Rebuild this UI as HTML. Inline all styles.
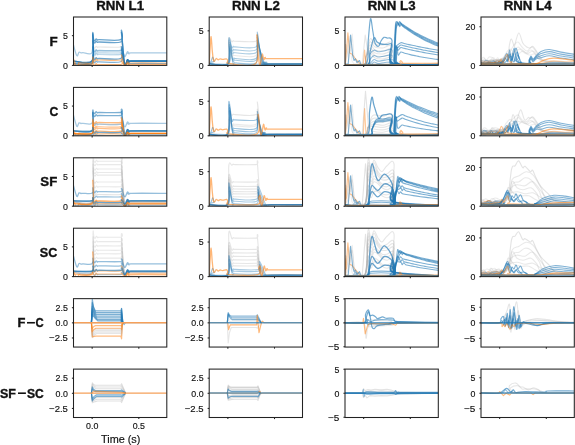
<!DOCTYPE html><html><head><meta charset="utf-8"><style>html,body{margin:0;padding:0;background:#fff;width:575px;height:445px;overflow:hidden}</style></head><body><svg width="575" height="445" viewBox="0 0 575 445" style="display:block;filter:blur(0.35px)">
<rect width="575" height="445" fill="#fff"/>
<defs>
<clipPath id="cp00"><rect x="73.5" y="17.0" width="93.3" height="48.4"/></clipPath>
<clipPath id="cp01"><rect x="209.2" y="17.0" width="93.3" height="48.4"/></clipPath>
<clipPath id="cp02"><rect x="345.0" y="17.0" width="93.3" height="48.4"/></clipPath>
<clipPath id="cp03"><rect x="481.0" y="17.0" width="93.3" height="48.4"/></clipPath>
<clipPath id="cp10"><rect x="73.5" y="87.4" width="93.3" height="48.4"/></clipPath>
<clipPath id="cp11"><rect x="209.2" y="87.4" width="93.3" height="48.4"/></clipPath>
<clipPath id="cp12"><rect x="345.0" y="87.4" width="93.3" height="48.4"/></clipPath>
<clipPath id="cp13"><rect x="481.0" y="87.4" width="93.3" height="48.4"/></clipPath>
<clipPath id="cp20"><rect x="73.5" y="157.8" width="93.3" height="48.4"/></clipPath>
<clipPath id="cp21"><rect x="209.2" y="157.8" width="93.3" height="48.4"/></clipPath>
<clipPath id="cp22"><rect x="345.0" y="157.8" width="93.3" height="48.4"/></clipPath>
<clipPath id="cp23"><rect x="481.0" y="157.8" width="93.3" height="48.4"/></clipPath>
<clipPath id="cp30"><rect x="73.5" y="228.2" width="93.3" height="48.4"/></clipPath>
<clipPath id="cp31"><rect x="209.2" y="228.2" width="93.3" height="48.4"/></clipPath>
<clipPath id="cp32"><rect x="345.0" y="228.2" width="93.3" height="48.4"/></clipPath>
<clipPath id="cp33"><rect x="481.0" y="228.2" width="93.3" height="48.4"/></clipPath>
<clipPath id="cp40"><rect x="73.5" y="298.65" width="93.3" height="48.4"/></clipPath>
<clipPath id="cp41"><rect x="209.2" y="298.65" width="93.3" height="48.4"/></clipPath>
<clipPath id="cp42"><rect x="345.0" y="298.65" width="93.3" height="48.4"/></clipPath>
<clipPath id="cp43"><rect x="481.0" y="298.65" width="93.3" height="48.4"/></clipPath>
<clipPath id="cp50"><rect x="73.5" y="369.1" width="93.3" height="48.4"/></clipPath>
<clipPath id="cp51"><rect x="209.2" y="369.1" width="93.3" height="48.4"/></clipPath>
<clipPath id="cp52"><rect x="345.0" y="369.1" width="93.3" height="48.4"/></clipPath>
<clipPath id="cp53"><rect x="481.0" y="369.1" width="93.3" height="48.4"/></clipPath>
</defs>
<g clip-path="url(#cp00)" fill="none" stroke-linejoin="round" stroke-linecap="butt">
<path d="M73.50,45.20 C74.05,46.95 75.88,54.52 76.80,55.70 C77.72,56.88 78.30,52.77 79.00,52.30 C79.70,51.83 80.33,52.83 81.00,52.90 C81.67,52.97 81.18,52.73 83.00,52.70 C84.82,52.67 90.28,55.65 91.90,52.70 C93.52,49.75 92.43,35.75 92.70,35.00 C92.97,34.25 93.17,45.39 93.50,48.17 C93.83,50.96 94.27,51.45 94.70,51.70 C95.13,51.95 95.62,49.83 96.10,49.70 C96.58,49.57 97.10,50.77 97.60,50.90 C98.10,51.03 95.25,50.57 99.10,50.50 C102.95,50.43 116.98,51.08 120.70,50.50 C124.42,49.92 120.73,46.02 121.40,47.00 C122.07,47.98 123.70,55.62 124.70,56.40 C125.70,57.18 126.67,52.15 127.40,51.70 C128.13,51.25 128.48,53.50 129.10,53.70 C129.72,53.90 124.82,53.03 131.10,52.90 C137.38,52.77 160.85,52.90 166.80,52.90" stroke="#1f77b4" stroke-opacity="0.39" stroke-width="1.30"/>
<path d="M73.50,61.00 C76.57,61.00 88.70,64.33 91.90,61.00 C95.10,57.67 92.43,42.92 92.70,41.00 C92.97,39.08 93.17,47.63 93.50,49.50 C93.83,51.37 94.27,52.08 94.70,52.20 C95.13,52.32 95.62,50.33 96.10,50.20 C96.58,50.07 97.10,51.27 97.60,51.40 C98.10,51.53 95.25,51.07 99.10,51.00 C102.95,50.93 116.98,51.67 120.70,51.00 C124.42,50.33 120.73,44.75 121.40,47.00 C122.07,49.25 123.70,62.37 124.70,64.50 C125.70,66.63 126.67,60.25 127.40,59.80 C128.13,59.35 128.48,61.60 129.10,61.80 C129.72,62.00 124.82,61.13 131.10,61.00 C137.38,60.87 160.85,61.00 166.80,61.00" stroke="#1f77b4" stroke-opacity="0.23" stroke-width="1.10"/>
<path d="M73.50,61.00 C76.57,61.00 88.70,64.33 91.90,61.00 C95.10,57.67 92.43,42.70 92.70,41.00 C92.97,39.30 93.17,48.66 93.50,50.77 C93.83,52.89 94.27,53.55 94.70,53.70 C95.13,53.85 95.62,51.83 96.10,51.70 C96.58,51.57 97.10,52.77 97.60,52.90 C98.10,53.03 95.25,52.57 99.10,52.50 C102.95,52.43 116.98,53.42 120.70,52.50 C124.42,51.58 120.73,45.00 121.40,47.00 C122.07,49.00 123.70,62.37 124.70,64.50 C125.70,66.63 126.67,60.25 127.40,59.80 C128.13,59.35 128.48,61.60 129.10,61.80 C129.72,62.00 124.82,61.13 131.10,61.00 C137.38,60.87 160.85,61.00 166.80,61.00" stroke="#1f77b4" stroke-opacity="0.23" stroke-width="1.10"/>
<path d="M73.50,61.00 C76.57,61.00 88.70,64.33 91.90,61.00 C95.10,57.67 92.43,42.52 92.70,41.00 C92.97,39.48 93.17,49.55 93.50,51.88 C93.83,54.21 94.27,54.81 94.70,55.00 C95.13,55.19 95.62,53.13 96.10,53.00 C96.58,52.87 97.10,54.07 97.60,54.20 C98.10,54.33 95.25,53.87 99.10,53.80 C102.95,53.73 116.98,54.93 120.70,53.80 C124.42,52.67 120.73,45.22 121.40,47.00 C122.07,48.78 123.70,62.37 124.70,64.50 C125.70,66.63 126.67,60.25 127.40,59.80 C128.13,59.35 128.48,61.60 129.10,61.80 C129.72,62.00 124.82,61.13 131.10,61.00 C137.38,60.87 160.85,61.00 166.80,61.00" stroke="#1f77b4" stroke-opacity="0.23" stroke-width="1.10"/>
<path d="M73.50,61.00 C76.57,61.00 88.70,64.33 91.90,61.00 C95.10,57.67 92.43,42.42 92.70,41.00 C92.97,39.58 93.17,50.02 93.50,52.48 C93.83,54.93 94.27,55.50 94.70,55.70 C95.13,55.90 95.62,53.83 96.10,53.70 C96.58,53.57 97.10,54.77 97.60,54.90 C98.10,55.03 95.25,54.57 99.10,54.50 C102.95,54.43 116.98,55.75 120.70,54.50 C124.42,53.25 120.73,45.33 121.40,47.00 C122.07,48.67 123.70,62.37 124.70,64.50 C125.70,66.63 126.67,60.25 127.40,59.80 C128.13,59.35 128.48,61.60 129.10,61.80 C129.72,62.00 124.82,61.13 131.10,61.00 C137.38,60.87 160.85,61.00 166.80,61.00" stroke="#1f77b4" stroke-opacity="0.23" stroke-width="1.10"/>
<path d="M73.50,47.00 C76.57,47.00 88.70,47.00 91.90,47.00 C95.10,47.00 92.43,47.00 92.70,47.00 C92.97,47.00 93.17,46.80 93.50,47.00 C93.83,47.20 94.27,48.33 94.70,48.20 C95.13,48.07 95.62,46.33 96.10,46.20 C96.58,46.07 97.10,47.27 97.60,47.40 C98.10,47.53 95.25,47.07 99.10,47.00 C102.95,46.93 116.98,47.00 120.70,47.00 C124.42,47.00 120.73,46.42 121.40,47.00 C122.07,47.58 123.70,50.70 124.70,50.50 C125.70,50.30 126.67,46.25 127.40,45.80 C128.13,45.35 128.48,47.60 129.10,47.80 C129.72,48.00 124.82,47.13 131.10,47.00 C137.38,46.87 160.85,47.00 166.80,47.00" stroke="#b0b0b0" stroke-opacity="0.00" stroke-width="0.20"/>
<path d="M73.50,61.20 C76.57,61.20 88.70,64.57 91.90,61.20 C95.10,57.83 92.43,43.52 92.70,41.00 C92.97,38.48 93.17,44.90 93.50,46.10 C93.83,47.30 94.27,48.18 94.70,48.20 C95.13,48.22 95.62,46.33 96.10,46.20 C96.58,46.07 97.10,47.27 97.60,47.40 C98.10,47.53 95.25,47.07 99.10,47.00 C102.95,46.93 116.98,47.67 120.70,47.00 C124.42,46.33 120.73,40.05 121.40,43.00 C122.07,45.95 123.70,61.87 124.70,64.70 C125.70,67.53 126.67,60.45 127.40,60.00 C128.13,59.55 128.48,61.80 129.10,62.00 C129.72,62.20 124.82,61.33 131.10,61.20 C137.38,61.07 160.85,61.20 166.80,61.20" stroke="#b0b0b0" stroke-opacity="0.32" stroke-width="1.10"/>
<path d="M73.50,61.00 C76.57,61.00 88.70,65.58 91.90,61.00 C95.10,56.42 92.43,37.20 92.70,33.50 C92.97,29.79 93.17,37.54 93.50,38.77 C93.83,40.00 94.27,40.88 94.70,40.90 C95.13,40.92 95.62,39.03 96.10,38.90 C96.58,38.77 97.10,39.97 97.60,40.10 C98.10,40.23 95.25,39.77 99.10,39.70 C102.95,39.63 116.98,41.15 120.70,39.70 C124.42,38.25 120.73,26.87 121.40,31.00 C122.07,35.13 123.70,59.70 124.70,64.50 C125.70,69.30 126.67,60.25 127.40,59.80 C128.13,59.35 128.48,61.60 129.10,61.80 C129.72,62.00 124.82,61.13 131.10,61.00 C137.38,60.87 160.85,61.00 166.80,61.00" stroke="#1f77b4" stroke-opacity="0.66" stroke-width="1.30"/>
<path d="M73.50,61.50 C76.57,61.50 88.70,66.00 91.90,61.50 C95.10,57.00 92.43,37.94 92.70,34.50 C92.97,31.06 93.17,39.42 93.50,40.88 C93.83,42.33 94.27,43.15 94.70,43.20 C95.13,43.25 95.62,41.33 96.10,41.20 C96.58,41.07 97.10,42.27 97.60,42.40 C98.10,42.53 95.25,42.07 99.10,42.00 C102.95,41.93 116.98,43.50 120.70,42.00 C124.42,40.50 120.73,29.20 121.40,33.00 C122.07,36.80 123.70,60.28 124.70,64.80 C125.70,69.32 126.67,60.55 127.40,60.10 C128.13,59.65 128.48,61.90 129.10,62.10 C129.72,62.30 124.82,61.43 131.10,61.30 C137.38,61.17 160.85,61.30 166.80,61.30" stroke="#1f77b4" stroke-opacity="0.66" stroke-width="1.30"/>
<path d="M73.50,63.50 C76.57,63.50 88.70,66.25 91.90,63.50 C95.10,60.75 92.43,48.12 92.70,47.00 C92.97,45.88 93.17,54.66 93.50,56.77 C93.83,58.89 94.27,59.55 94.70,59.70 C95.13,59.85 95.62,57.83 96.10,57.70 C96.58,57.57 97.10,58.77 97.60,58.90 C98.10,59.03 95.25,58.57 99.10,58.50 C102.95,58.43 116.98,60.08 120.70,58.50 C124.42,56.92 120.73,48.00 121.40,49.00 C122.07,50.00 123.70,62.70 124.70,64.50 C125.70,66.30 126.67,60.25 127.40,59.80 C128.13,59.35 128.48,61.60 129.10,61.80 C129.72,62.00 124.82,61.13 131.10,61.00 C137.38,60.87 160.85,61.00 166.80,61.00" stroke="#1f77b4" stroke-opacity="0.66" stroke-width="1.30"/>
<path d="M73.50,63.80 C76.57,63.80 88.70,65.27 91.90,63.80 C95.10,62.33 92.43,55.50 92.70,55.00 C92.97,54.50 93.17,59.45 93.50,60.78 C93.83,62.11 94.27,62.96 94.70,63.00 C95.13,63.04 95.62,61.13 96.10,61.00 C96.58,60.87 97.10,62.07 97.60,62.20 C98.10,62.33 95.25,61.87 99.10,61.80 C102.95,61.73 116.98,63.27 120.70,61.80 C124.42,60.33 120.73,52.38 121.40,53.00 C122.07,53.62 123.70,63.95 124.70,65.50 C125.70,67.05 126.67,62.50 127.40,62.30 C128.13,62.10 128.48,64.10 129.10,64.30 C129.72,64.50 124.82,63.63 131.10,63.50 C137.38,63.37 160.85,63.50 166.80,63.50" stroke="#1f77b4" stroke-opacity="0.55" stroke-width="1.20"/>
<path d="M73.50,59.00 C74.05,60.17 75.88,65.40 76.80,66.00 C77.72,66.60 78.30,63.07 79.00,62.60 C79.70,62.13 80.33,63.13 81.00,63.20 C81.67,63.27 81.18,63.03 83.00,63.00 C84.82,62.97 90.28,64.00 91.90,63.00 C93.52,62.00 92.43,57.58 92.70,57.00 C92.97,56.42 93.17,58.85 93.50,59.55 C93.83,60.25 94.27,61.26 94.70,61.20 C95.13,61.14 95.62,59.33 96.10,59.20 C96.58,59.07 97.10,60.27 97.60,60.40 C98.10,60.53 95.25,60.07 99.10,60.00 C102.95,59.93 116.98,60.83 120.70,60.00 C124.42,59.17 120.73,54.08 121.40,55.00 C122.07,55.92 123.70,64.37 124.70,65.50 C125.70,66.63 126.67,62.08 127.40,61.80 C128.13,61.52 128.48,63.60 129.10,63.80 C129.72,64.00 124.82,63.13 131.10,63.00 C137.38,62.87 160.85,63.00 166.80,63.00" stroke="#ff7f0e" stroke-opacity="0.52" stroke-width="1.20"/>
<path d="M73.50,62.00 C74.05,62.93 75.88,67.23 76.80,67.60 C77.72,67.97 78.30,64.67 79.00,64.20 C79.70,63.73 80.33,64.73 81.00,64.80 C81.67,64.87 81.18,64.63 83.00,64.60 C84.82,64.57 90.28,65.20 91.90,64.60 C93.52,64.00 92.43,61.10 92.70,61.00 C92.97,60.90 93.17,63.19 93.50,63.98 C93.83,64.76 94.27,65.75 94.70,65.70 C95.13,65.65 95.62,63.83 96.10,63.70 C96.58,63.57 97.10,64.77 97.60,64.90 C98.10,65.03 95.25,64.57 99.10,64.50 C102.95,64.43 116.98,65.08 120.70,64.50 C124.42,63.92 120.73,60.83 121.40,61.00 C122.07,61.17 123.70,65.10 124.70,65.50 C125.70,65.90 126.67,63.42 127.40,63.40 C128.13,63.38 128.48,65.20 129.10,65.40 C129.72,65.60 124.82,64.73 131.10,64.60 C137.38,64.47 160.85,64.60 166.80,64.60" stroke="#ff7f0e" stroke-opacity="0.56" stroke-width="1.20"/>
</g>
<g clip-path="url(#cp01)" fill="none" stroke-linejoin="round" stroke-linecap="butt">
<path d="M209.20,63.50 C212.22,63.50 224.03,67.58 227.30,63.50 C230.57,59.42 228.05,42.62 228.80,39.00 C229.55,35.38 231.05,41.52 231.80,41.80 C232.55,42.08 232.77,40.80 233.30,40.70 C233.83,40.60 231.22,41.12 235.00,41.20 C238.78,41.28 252.27,42.40 256.00,41.20 C259.73,40.00 256.58,30.12 257.40,34.00 C258.22,37.88 260.05,59.83 260.90,64.50 C261.75,69.17 261.97,62.00 262.50,62.00 C263.03,62.00 263.47,64.20 264.10,64.50 C264.73,64.80 259.90,63.92 266.30,63.80 C272.70,63.68 296.47,63.80 302.50,63.80" stroke="#b0b0b0" stroke-opacity="0.32" stroke-width="1.10"/>
<path d="M209.20,63.80 C212.22,63.80 224.03,68.10 227.30,63.80 C230.57,59.50 228.05,40.72 228.80,38.00 C229.55,35.28 231.05,46.10 231.80,47.50 C232.55,48.90 232.77,46.50 233.30,46.40 C233.83,46.30 231.22,46.82 235.00,46.90 C238.78,46.98 252.27,49.30 256.00,46.90 C259.73,44.50 256.58,29.57 257.40,32.50 C258.22,35.43 260.05,59.58 260.90,64.50 C261.75,69.42 261.97,62.00 262.50,62.00 C263.03,62.00 263.47,64.17 264.10,64.50 C264.73,64.83 259.90,64.08 266.30,64.00 C272.70,63.92 296.47,64.00 302.50,64.00" stroke="#1f77b4" stroke-opacity="0.37" stroke-width="1.10"/>
<path d="M209.20,63.80 C212.26,63.80 224.24,67.73 227.55,63.80 C230.86,59.87 228.30,42.42 229.05,40.20 C229.80,37.98 231.30,48.97 232.05,50.50 C232.80,52.03 233.02,49.50 233.55,49.40 C234.08,49.30 231.51,49.82 235.25,49.90 C238.99,49.98 252.31,52.38 256.00,49.90 C259.69,47.42 256.45,32.57 257.40,35.00 C258.35,37.43 260.72,60.00 261.70,64.50 C262.68,69.00 262.77,62.00 263.30,62.00 C263.83,62.00 264.27,64.17 264.90,64.50 C265.53,64.83 260.83,64.08 267.10,64.00 C273.37,63.92 296.60,64.00 302.50,64.00" stroke="#1f77b4" stroke-opacity="0.37" stroke-width="1.10"/>
<path d="M209.20,63.80 C212.30,63.80 224.45,67.37 227.80,63.80 C231.15,60.23 228.55,44.13 229.30,42.40 C230.05,40.67 231.55,51.75 232.30,53.40 C233.05,55.05 233.27,52.40 233.80,52.30 C234.33,52.20 231.80,52.72 235.50,52.80 C239.20,52.88 252.35,55.35 256.00,52.80 C259.65,50.25 256.32,35.55 257.40,37.50 C258.48,39.45 261.38,60.42 262.50,64.50 C263.62,68.58 263.57,62.00 264.10,62.00 C264.63,62.00 265.07,64.17 265.70,64.50 C266.33,64.83 261.77,64.08 267.90,64.00 C274.03,63.92 296.73,64.00 302.50,64.00" stroke="#1f77b4" stroke-opacity="0.37" stroke-width="1.10"/>
<path d="M209.20,63.80 C212.34,63.80 224.66,67.00 228.05,63.80 C231.44,60.60 228.80,45.38 229.55,44.60 C230.30,43.82 231.80,56.87 232.55,59.10 C233.30,61.33 233.52,58.10 234.05,58.00 C234.58,57.90 232.09,58.42 235.75,58.50 C239.41,58.58 252.39,61.58 256.00,58.50 C259.61,55.42 256.18,39.00 257.40,40.00 C258.62,41.00 262.05,60.83 263.30,64.50 C264.55,68.17 264.37,62.00 264.90,62.00 C265.43,62.00 265.87,64.17 266.50,64.50 C267.13,64.83 262.70,64.08 268.70,64.00 C274.70,63.92 296.87,64.00 302.50,64.00" stroke="#1f77b4" stroke-opacity="0.40" stroke-width="1.10"/>
<path d="M209.20,63.80 C212.38,63.80 224.87,66.63 228.30,63.80 C231.73,60.97 229.05,47.28 229.80,46.80 C230.55,46.32 232.05,58.73 232.80,60.90 C233.55,63.07 233.77,59.90 234.30,59.80 C234.83,59.70 232.38,60.22 236.00,60.30 C239.62,60.38 252.43,63.27 256.00,60.30 C259.57,57.33 256.05,41.80 257.40,42.50 C258.75,43.20 262.72,61.25 264.10,64.50 C265.48,67.75 265.17,62.00 265.70,62.00 C266.23,62.00 266.67,64.17 267.30,64.50 C267.93,64.83 263.63,64.08 269.50,64.00 C275.37,63.92 297.00,64.00 302.50,64.00" stroke="#1f77b4" stroke-opacity="0.40" stroke-width="1.10"/>
<path d="M209.20,63.80 C212.42,63.80 225.07,66.27 228.55,63.80 C232.02,61.33 229.30,49.05 230.05,49.00 C230.80,48.95 232.30,61.27 233.05,63.50 C233.80,65.73 234.02,62.50 234.55,62.40 C235.08,62.30 232.68,62.82 236.25,62.90 C239.82,62.98 252.47,65.88 256.00,62.90 C259.52,59.92 255.92,44.73 257.40,45.00 C258.88,45.27 263.38,61.67 264.90,64.50 C266.42,67.33 265.97,62.00 266.50,62.00 C267.03,62.00 267.47,64.17 268.10,64.50 C268.73,64.83 264.57,64.08 270.30,64.00 C276.03,63.92 297.13,64.00 302.50,64.00" stroke="#1f77b4" stroke-opacity="0.37" stroke-width="1.10"/>
<path d="M209.20,63.80 C212.22,63.80 224.03,67.60 227.30,63.80 C230.57,60.00 228.05,42.28 228.80,41.00 C229.55,39.72 231.05,53.77 231.80,56.10 C232.55,58.43 232.77,55.10 233.30,55.00 C233.83,54.90 231.22,55.42 235.00,55.50 C238.78,55.58 252.27,58.58 256.00,55.50 C259.73,52.42 256.58,35.50 257.40,37.00 C258.22,38.50 260.05,60.33 260.90,64.50 C261.75,68.67 261.97,62.00 262.50,62.00 C263.03,62.00 263.47,64.20 264.10,64.50 C264.73,64.80 259.90,63.92 266.30,63.80 C272.70,63.68 296.47,63.80 302.50,63.80" stroke="#b0b0b0" stroke-opacity="0.28" stroke-width="1.10"/>
<path d="M209.20,64.50 C209.53,63.92 210.62,62.25 211.20,61.00 C211.78,59.75 212.20,57.00 212.70,57.00 C213.20,57.00 213.62,59.83 214.20,61.00 C214.78,62.17 201.48,63.50 216.20,64.00 C230.92,64.50 288.12,64.00 302.50,64.00" stroke="#1f77b4" stroke-opacity="0.47" stroke-width="1.10"/>
<path d="M209.20,64.00 C209.35,61.50 209.78,53.57 210.10,49.00 C210.42,44.43 210.75,36.43 211.10,36.60 C211.45,36.77 211.82,46.10 212.20,50.00 C212.58,53.90 212.98,58.17 213.40,60.00 C213.82,61.83 214.23,61.25 214.70,61.00 C215.17,60.75 215.62,58.70 216.20,58.50 C216.78,58.30 217.53,59.75 218.20,59.80 C218.87,59.85 219.45,58.87 220.20,58.80 C220.95,58.73 221.62,59.37 222.70,59.40 C223.78,59.43 225.85,58.73 226.70,59.00 C227.55,59.27 227.38,60.25 227.80,61.00 C228.22,61.75 224.53,63.08 229.20,63.50 C233.87,63.92 251.20,68.25 255.80,63.50 C260.40,58.75 256.38,36.42 256.80,35.00 C257.22,33.58 257.83,50.08 258.30,55.00 C258.77,59.92 259.15,63.50 259.60,64.50 C260.05,65.50 260.55,62.75 261.00,61.00 C261.45,59.25 261.83,54.25 262.30,54.00 C262.77,53.75 263.30,58.92 263.80,59.50 C264.30,60.08 264.72,57.65 265.30,57.50 C265.88,57.35 261.10,58.42 267.30,58.60 C273.50,58.78 296.63,58.60 302.50,58.60" stroke="#ff7f0e" stroke-opacity="0.56" stroke-width="1.30"/>
</g>
<g clip-path="url(#cp02)" fill="none" stroke-linejoin="round" stroke-linecap="butt">
<path d="M345.00,44.00 L345.40,64.00 L346.00,57.00 L347.90,32.70 L349.60,53.00 L351.80,54.00 L355.00,58.00 L360.50,64.50 L438.30,64.50" stroke="#ff7f0e" stroke-opacity="0.49" stroke-width="1.10"/>
<path d="M345.00,64.00 L348.20,64.00 L350.60,35.00 L352.80,56.00 L354.10,60.50 L355.30,58.80 L357.00,62.50 L359.50,60.50 L361.00,64.60 L438.30,64.60" stroke="#1f77b4" stroke-opacity="0.58" stroke-width="1.10"/>
<path d="M345.00,64.00 L347.50,53.00 L349.00,36.00 L350.80,51.00 L352.20,34.00 L354.00,57.00 L357.00,63.00 L438.30,64.00" stroke="#b0b0b0" stroke-opacity="0.24" stroke-width="1.10"/>
<path d="M345.00,64.00 L346.60,45.00 L348.50,59.00 L350.00,47.00 L352.00,61.00 L354.00,64.00 L438.30,64.00" stroke="#b0b0b0" stroke-opacity="0.21" stroke-width="1.10"/>
<path d="M345.00,64.50 C348.17,64.50 360.50,65.75 364.00,64.50 C367.50,63.25 365.00,61.25 366.00,57.00 C367.00,52.75 368.50,41.17 370.00,39.00 C371.50,36.83 372.83,43.00 375.00,44.00 C377.17,45.00 380.17,45.17 383.00,45.00 C385.83,44.83 390.30,39.83 392.00,43.00 C393.70,46.17 385.48,60.50 393.20,64.00 C400.92,67.50 430.78,64.00 438.30,64.00" stroke="#b0b0b0" stroke-opacity="0.32" stroke-width="1.10"/>
<path d="M345.00,64.50 C348.17,64.50 360.50,65.75 364.00,64.50 C367.50,63.25 365.00,60.75 366.00,57.00 C367.00,53.25 368.50,43.67 370.00,42.00 C371.50,40.33 372.83,46.00 375.00,47.00 C377.17,48.00 380.17,48.17 383.00,48.00 C385.83,47.83 390.30,43.33 392.00,46.00 C393.70,48.67 385.48,61.00 393.20,64.00 C400.92,67.00 430.78,64.00 438.30,64.00" stroke="#b0b0b0" stroke-opacity="0.32" stroke-width="1.10"/>
<path d="M345.00,64.50 C348.17,64.50 360.50,65.75 364.00,64.50 C367.50,63.25 365.00,60.25 366.00,57.00 C367.00,53.75 368.50,46.17 370.00,45.00 C371.50,43.83 372.83,49.00 375.00,50.00 C377.17,51.00 380.17,51.17 383.00,51.00 C385.83,50.83 390.30,46.83 392.00,49.00 C393.70,51.17 385.48,61.50 393.20,64.00 C400.92,66.50 430.78,64.00 438.30,64.00" stroke="#b0b0b0" stroke-opacity="0.32" stroke-width="1.10"/>
<path d="M345.00,64.50 C348.17,64.50 360.50,65.75 364.00,64.50 C367.50,63.25 365.00,59.75 366.00,57.00 C367.00,54.25 368.50,48.67 370.00,48.00 C371.50,47.33 372.83,52.00 375.00,53.00 C377.17,54.00 380.17,54.17 383.00,54.00 C385.83,53.83 390.30,50.33 392.00,52.00 C393.70,53.67 385.48,62.00 393.20,64.00 C400.92,66.00 430.78,64.00 438.30,64.00" stroke="#b0b0b0" stroke-opacity="0.32" stroke-width="1.10"/>
<path d="M345.00,64.50 C348.17,64.50 360.50,65.75 364.00,64.50 C367.50,63.25 365.00,59.33 366.00,57.00 C367.00,54.67 368.50,50.75 370.00,50.50 C371.50,50.25 372.83,54.50 375.00,55.50 C377.17,56.50 380.17,56.67 383.00,56.50 C385.83,56.33 390.30,53.25 392.00,54.50 C393.70,55.75 385.48,62.42 393.20,64.00 C400.92,65.58 430.78,64.00 438.30,64.00" stroke="#b0b0b0" stroke-opacity="0.32" stroke-width="1.10"/>
<path d="M345.00,64.50 C348.17,64.50 360.50,65.75 364.00,64.50 C367.50,63.25 365.00,58.92 366.00,57.00 C367.00,55.08 368.50,52.83 370.00,53.00 C371.50,53.17 372.83,57.00 375.00,58.00 C377.17,59.00 380.17,59.17 383.00,59.00 C385.83,58.83 390.30,56.17 392.00,57.00 C393.70,57.83 385.48,62.83 393.20,64.00 C400.92,65.17 430.78,64.00 438.30,64.00" stroke="#b0b0b0" stroke-opacity="0.32" stroke-width="1.10"/>
<path d="M345.00,64.50 L362.20,64.50 L365.20,35.00 L368.50,57.00 L370.00,64.50 L438.30,64.50" stroke="#b0b0b0" stroke-opacity="0.32" stroke-width="1.10"/>
<path d="M345.00,64.50 L363.30,64.50 L364.60,50.00 L366.00,64.50 L438.30,64.50" stroke="#ff7f0e" stroke-opacity="0.42" stroke-width="1.10"/>
<path d="M345.00,64.60 C348.47,64.60 361.93,68.53 365.80,64.60 C369.67,60.67 367.42,48.65 368.20,41.00 C368.98,33.35 369.73,20.37 370.50,18.70 C371.27,17.03 372.05,26.95 372.80,31.00 C373.55,35.05 374.03,40.47 375.00,43.00 C375.97,45.53 377.60,46.53 378.60,46.20 C379.60,45.87 380.12,42.47 381.00,41.00 C381.88,39.53 382.90,37.90 383.90,37.40 C384.90,36.90 385.65,37.48 387.00,38.00 C388.35,38.52 391.00,36.33 392.00,40.50 C393.00,44.67 385.28,58.98 393.00,63.00 C400.72,67.02 430.75,64.33 438.30,64.60" stroke="#1f77b4" stroke-opacity="0.62" stroke-width="1.20"/>
<path d="M345.00,64.60 C348.75,64.60 363.33,66.70 367.50,64.60 C371.67,62.50 368.92,56.43 370.00,52.00 C371.08,47.57 372.83,39.67 374.00,38.00 C375.17,36.33 375.83,41.00 377.00,42.00 C378.17,43.00 379.33,43.58 381.00,44.00 C382.67,44.42 385.17,44.33 387.00,44.50 C388.83,44.67 391.00,41.92 392.00,45.00 C393.00,48.08 385.28,59.73 393.00,63.00 C400.72,66.27 430.75,64.33 438.30,64.60" stroke="#1f77b4" stroke-opacity="0.62" stroke-width="1.30"/>
<path d="M345.00,64.60 C348.75,64.60 363.33,66.33 367.50,64.60 C371.67,62.87 368.92,56.60 370.00,54.20 C371.08,51.80 372.67,50.62 374.00,50.20 C375.33,49.78 376.17,51.62 378.00,51.70 C379.83,51.78 382.67,50.95 385.00,50.70 C387.33,50.45 390.62,47.98 392.00,50.20 C393.38,52.42 385.58,61.60 393.30,64.00 C401.02,66.40 430.80,64.50 438.30,64.60" stroke="#1f77b4" stroke-opacity="0.47" stroke-width="1.10"/>
<path d="M345.00,64.60 C348.75,64.60 363.33,65.45 367.50,64.60 C371.67,63.75 368.92,61.02 370.00,59.50 C371.08,57.98 372.67,55.92 374.00,55.50 C375.33,55.08 376.17,56.92 378.00,57.00 C379.83,57.08 382.67,56.25 385.00,56.00 C387.33,55.75 390.62,54.17 392.00,55.50 C393.38,56.83 385.58,62.48 393.30,64.00 C401.02,65.52 430.80,64.50 438.30,64.60" stroke="#1f77b4" stroke-opacity="0.47" stroke-width="1.10"/>
<path d="M345.00,64.60 C348.75,64.60 363.33,64.77 367.50,64.60 C371.67,64.43 368.92,64.43 370.00,63.60 C371.08,62.77 372.67,60.02 374.00,59.60 C375.33,59.18 376.17,61.02 378.00,61.10 C379.83,61.18 382.67,60.35 385.00,60.10 C387.33,59.85 390.62,58.95 392.00,59.60 C393.38,60.25 385.58,63.17 393.30,64.00 C401.02,64.83 430.80,64.50 438.30,64.60" stroke="#1f77b4" stroke-opacity="0.47" stroke-width="1.10"/>
<path d="M345.00,64.60 C348.75,64.60 363.33,64.37 367.50,64.60 C371.67,64.83 368.92,66.43 370.00,66.00 C371.08,65.57 372.67,62.42 374.00,62.00 C375.33,61.58 376.17,63.42 378.00,63.50 C379.83,63.58 382.67,62.75 385.00,62.50 C387.33,62.25 390.62,61.75 392.00,62.00 C393.38,62.25 385.58,63.57 393.30,64.00 C401.02,64.43 430.80,64.50 438.30,64.60" stroke="#1f77b4" stroke-opacity="0.47" stroke-width="1.10"/>
<path d="M345.00,64.60 C352.97,64.60 384.68,65.20 392.80,64.60 C400.92,64.00 393.45,63.93 393.70,61.00 C393.95,58.07 394.00,53.07 394.30,47.00 C394.60,40.93 395.05,28.83 395.50,24.60 C395.95,20.37 396.53,21.77 397.00,21.60 C397.47,21.43 397.88,23.60 398.30,23.60 C398.72,23.60 399.05,21.68 399.50,21.60 C399.95,21.52 400.23,22.48 401.00,23.10 C401.77,23.72 403.10,24.62 404.15,25.35 C405.20,26.08 406.25,26.79 407.30,27.48 C408.35,28.17 409.40,28.84 410.45,29.49 C411.50,30.15 412.55,30.78 413.60,31.40 C414.65,32.02 415.70,32.62 416.75,33.20 C417.80,33.79 418.85,34.36 419.90,34.91 C420.95,35.46 422.00,36.00 423.05,36.52 C424.10,37.05 425.15,37.56 426.20,38.05 C427.25,38.55 428.30,39.03 429.35,39.50 C430.40,39.97 431.45,40.42 432.50,40.87 C433.55,41.31 434.60,41.74 435.65,42.16 C436.70,42.58 438.27,43.19 438.80,43.39" stroke="#1f77b4" stroke-opacity="0.58" stroke-width="1.10"/>
<path d="M345.00,64.60 C353.02,64.60 384.93,65.20 393.10,64.60 C401.27,64.00 393.75,63.93 394.00,61.00 C394.25,58.07 394.30,52.90 394.60,47.00 C394.90,41.10 395.32,29.67 395.80,25.60 C396.28,21.53 397.00,22.77 397.50,22.60 C398.00,22.43 398.38,24.60 398.80,24.60 C399.22,24.60 399.55,22.68 400.00,22.60 C400.45,22.52 400.73,23.47 401.50,24.10 C402.27,24.73 403.57,25.63 404.61,26.37 C405.64,27.11 406.68,27.82 407.72,28.51 C408.75,29.21 409.79,29.88 410.82,30.54 C411.86,31.20 412.90,31.83 413.93,32.45 C414.97,33.07 416.01,33.67 417.04,34.26 C418.08,34.85 419.11,35.41 420.15,35.97 C421.19,36.52 422.22,37.06 423.26,37.58 C424.29,38.10 425.33,38.61 426.37,39.10 C427.40,39.59 428.44,40.07 429.48,40.54 C430.51,41.00 431.55,41.46 432.58,41.90 C433.62,42.34 434.66,42.76 435.69,43.18 C436.73,43.59 438.28,44.19 438.80,44.39" stroke="#1f77b4" stroke-opacity="0.58" stroke-width="1.10"/>
<path d="M345.00,64.60 C353.07,64.60 385.18,65.20 393.40,64.60 C401.62,64.00 394.05,63.93 394.30,61.00 C394.55,58.07 394.60,52.73 394.90,47.00 C395.20,41.27 395.58,30.50 396.10,26.60 C396.62,22.70 397.47,23.77 398.00,23.60 C398.53,23.43 398.88,25.60 399.30,25.60 C399.72,25.60 400.05,23.68 400.50,23.60 C400.95,23.52 401.24,24.47 402.00,25.10 C402.76,25.73 404.04,26.65 405.07,27.39 C406.09,28.14 407.11,28.86 408.13,29.55 C409.16,30.25 410.18,30.93 411.20,31.59 C412.22,32.25 413.24,32.89 414.27,33.51 C415.29,34.13 416.31,34.74 417.33,35.32 C418.36,35.91 419.38,36.48 420.40,37.03 C421.42,37.58 422.44,38.12 423.47,38.64 C424.49,39.16 425.51,39.66 426.53,40.15 C427.56,40.64 428.58,41.12 429.60,41.58 C430.62,42.04 431.64,42.49 432.67,42.93 C433.69,43.36 434.71,43.78 435.73,44.19 C436.76,44.61 438.29,45.19 438.80,45.39" stroke="#1f77b4" stroke-opacity="0.58" stroke-width="1.10"/>
<path d="M345.00,64.60 C353.12,64.60 385.43,65.20 393.70,64.60 C401.97,64.00 394.35,63.93 394.60,61.00 C394.85,58.07 394.90,52.57 395.20,47.00 C395.50,41.43 395.85,31.33 396.40,27.60 C396.95,23.87 397.93,24.77 398.50,24.60 C399.07,24.43 399.38,26.60 399.80,26.60 C400.22,26.60 400.55,24.68 401.00,24.60 C401.45,24.52 401.75,25.46 402.50,26.10 C403.25,26.74 404.52,27.67 405.52,28.42 C406.53,29.17 407.54,29.89 408.55,30.60 C409.56,31.30 410.57,31.99 411.57,32.65 C412.58,33.31 413.59,33.95 414.60,34.58 C415.61,35.20 416.62,35.80 417.62,36.39 C418.63,36.98 419.64,37.54 420.65,38.09 C421.66,38.65 422.67,39.18 423.68,39.70 C424.68,40.22 425.69,40.72 426.70,41.21 C427.71,41.69 428.72,42.16 429.73,42.62 C430.73,43.08 431.74,43.53 432.75,43.96 C433.76,44.39 434.77,44.81 435.77,45.21 C436.78,45.62 438.30,46.19 438.80,46.39" stroke="#1f77b4" stroke-opacity="0.58" stroke-width="1.10"/>
<path d="M345.00,64.60 C353.17,64.60 385.68,65.20 394.00,64.60 C402.32,64.00 394.65,63.93 394.90,61.00 C395.15,58.07 395.20,49.55 395.50,47.00 C395.80,44.45 395.82,46.42 396.70,45.70 C397.58,44.98 399.59,43.07 400.80,42.70 C402.01,42.33 402.91,43.21 403.97,43.46 C405.02,43.71 406.08,43.95 407.13,44.19 C408.19,44.43 409.24,44.67 410.30,44.90 C411.36,45.13 412.41,45.36 413.47,45.58 C414.52,45.81 415.58,46.03 416.63,46.24 C417.69,46.46 418.74,46.67 419.80,46.88 C420.86,47.09 421.91,47.30 422.97,47.50 C424.02,47.70 425.08,47.90 426.13,48.09 C427.19,48.29 428.24,48.48 429.30,48.67 C430.36,48.86 431.41,49.04 432.47,49.23 C433.52,49.41 434.58,49.59 435.63,49.76 C436.69,49.94 438.27,50.19 438.80,50.28" stroke="#1f77b4" stroke-opacity="0.58" stroke-width="1.10"/>
<path d="M345.00,64.60 C353.25,64.60 386.10,65.20 394.50,64.60 C402.90,64.00 395.15,63.93 395.40,61.00 C395.65,58.07 395.70,49.17 396.00,47.00 C396.30,44.83 396.40,48.33 397.20,48.00 C398.00,47.67 399.67,45.37 400.80,45.00 C401.93,44.63 402.91,45.53 403.97,45.79 C405.02,46.05 406.08,46.30 407.13,46.55 C408.19,46.80 409.24,47.04 410.30,47.28 C411.36,47.52 412.41,47.75 413.47,47.98 C414.52,48.21 415.58,48.44 416.63,48.66 C417.69,48.88 418.74,49.09 419.80,49.30 C420.86,49.51 421.91,49.72 422.97,49.92 C424.02,50.13 425.08,50.32 426.13,50.52 C427.19,50.71 428.24,50.91 429.30,51.09 C430.36,51.28 431.41,51.46 432.47,51.64 C433.52,51.82 434.58,52.00 435.63,52.17 C436.69,52.34 438.27,52.59 438.80,52.68" stroke="#1f77b4" stroke-opacity="0.58" stroke-width="1.10"/>
<path d="M345.00,64.60 C353.33,64.60 386.52,65.20 395.00,64.60 C403.48,64.00 395.65,63.93 395.90,61.00 C396.15,58.07 396.20,48.75 396.50,47.00 C396.80,45.25 396.98,50.42 397.70,50.50 C398.42,50.58 399.76,47.87 400.80,47.50 C401.84,47.13 402.91,48.04 403.97,48.29 C405.02,48.55 406.08,48.80 407.13,49.05 C408.19,49.30 409.24,49.54 410.30,49.77 C411.36,50.01 412.41,50.24 413.47,50.47 C414.52,50.69 415.58,50.91 416.63,51.12 C417.69,51.34 418.74,51.55 419.80,51.75 C420.86,51.96 421.91,52.16 422.97,52.35 C424.02,52.55 425.08,52.74 426.13,52.93 C427.19,53.12 428.24,53.30 429.30,53.48 C430.36,53.65 431.41,53.83 432.47,54.00 C433.52,54.17 434.58,54.33 435.63,54.50 C436.69,54.66 438.27,54.89 438.80,54.97" stroke="#1f77b4" stroke-opacity="0.58" stroke-width="1.10"/>
<path d="M345.00,64.60 C353.42,64.60 386.93,65.20 395.50,64.60 C404.07,64.00 396.15,63.93 396.40,61.00 C396.65,58.07 396.70,48.00 397.00,47.00 C397.30,46.00 397.57,54.17 398.20,55.00 C398.83,55.83 399.84,52.35 400.80,52.00 C401.76,51.65 402.91,52.63 403.97,52.93 C405.02,53.23 406.08,53.52 407.13,53.79 C408.19,54.07 409.24,54.34 410.30,54.59 C411.36,54.85 412.41,55.10 413.47,55.34 C414.52,55.58 415.58,55.81 416.63,56.03 C417.69,56.25 418.74,56.46 419.80,56.67 C420.86,56.88 421.91,57.07 422.97,57.27 C424.02,57.46 425.08,57.64 426.13,57.82 C427.19,58.00 428.24,58.17 429.30,58.33 C430.36,58.50 431.41,58.66 432.47,58.81 C433.52,58.96 434.58,59.11 435.63,59.25 C436.69,59.39 438.27,59.59 438.80,59.66" stroke="#1f77b4" stroke-opacity="0.58" stroke-width="1.10"/>
<path d="M345.00,64.60 C353.83,64.60 388.70,65.28 398.00,64.60 C407.30,63.92 399.97,60.73 400.80,60.50 C401.63,60.27 396.75,62.75 403.00,63.20 C409.25,63.65 432.42,63.20 438.30,63.20" stroke="#ff7f0e" stroke-opacity="0.49" stroke-width="1.20"/>
</g>
<g clip-path="url(#cp03)" fill="none" stroke-linejoin="round" stroke-linecap="butt">
<path d="M481.00,59.66 C481.38,59.92 482.36,61.03 483.29,61.20 C484.21,61.37 485.58,61.38 486.54,60.69 C487.50,59.99 488.07,57.56 489.03,57.03 C489.98,56.51 491.37,57.29 492.29,57.53 C493.20,57.77 493.74,57.71 494.52,58.45 C495.31,59.19 496.20,61.59 497.03,61.98 C497.85,62.36 498.57,61.23 499.46,60.73 C500.35,60.23 501.48,59.17 502.38,58.95 C503.28,58.72 504.46,59.31 504.88,59.38" stroke="#b0b0b0" stroke-opacity="0.24" stroke-width="1.10"/>
<path d="M481.00,59.36 C481.46,59.03 482.85,56.92 483.79,57.36 C484.73,57.81 485.59,61.51 486.62,62.02 C487.64,62.52 488.95,60.77 489.94,60.40 C490.94,60.03 491.66,59.57 492.59,59.82 C493.51,60.08 494.63,61.54 495.49,61.95 C496.34,62.35 496.81,62.68 497.74,62.24 C498.66,61.79 499.99,59.73 501.05,59.28 C502.10,58.83 503.56,59.49 504.07,59.53" stroke="#b0b0b0" stroke-opacity="0.24" stroke-width="1.10"/>
<path d="M481.00,61.80 C481.54,61.31 483.30,59.10 484.26,58.87 C485.23,58.65 485.88,60.09 486.79,60.44 C487.70,60.78 488.79,61.34 489.74,60.93 C490.69,60.52 491.54,57.99 492.48,57.98 C493.41,57.98 494.50,60.91 495.36,60.90 C496.22,60.89 496.68,57.73 497.64,57.90 C498.59,58.07 500.06,62.10 501.08,61.95 C502.10,61.80 503.31,57.83 503.76,57.01" stroke="#b0b0b0" stroke-opacity="0.24" stroke-width="1.10"/>
<path d="M481.00,62.11 C481.46,62.43 482.96,63.86 483.78,64.03 C484.60,64.20 485.13,63.41 485.90,63.14 C486.67,62.87 487.49,62.44 488.41,62.41 C489.32,62.38 490.45,62.83 491.37,62.97 C492.30,63.12 493.08,63.62 493.96,63.30 C494.84,62.97 495.84,61.42 496.67,61.02 C497.50,60.62 498.06,60.48 498.92,60.90 C499.79,61.31 500.93,63.65 501.85,63.52 C502.76,63.40 503.98,60.72 504.41,60.16" stroke="#1f77b4" stroke-opacity="0.55" stroke-width="1.10"/>
<path d="M481.00,63.63 C481.38,63.50 482.49,63.41 483.30,62.85 C484.12,62.30 484.96,60.51 485.88,60.31 C486.80,60.12 488.00,61.47 488.82,61.69 C489.64,61.91 490.10,61.77 490.82,61.62 C491.53,61.46 492.42,60.74 493.11,60.78 C493.79,60.81 494.19,61.30 494.93,61.82 C495.67,62.35 496.80,63.60 497.54,63.93 C498.28,64.26 498.70,63.94 499.38,63.79 C500.05,63.64 500.89,63.45 501.59,63.02 C502.29,62.60 503.23,61.53 503.55,61.24" stroke="#1f77b4" stroke-opacity="0.55" stroke-width="1.10"/>
<path d="M481.00,62.82 C481.44,63.02 482.84,63.86 483.66,64.05 C484.47,64.23 485.11,64.15 485.89,63.93 C486.67,63.71 487.54,62.74 488.35,62.72 C489.16,62.69 489.85,64.03 490.74,63.76 C491.64,63.48 492.79,61.04 493.74,61.07 C494.69,61.09 495.53,63.89 496.45,63.90 C497.37,63.91 498.40,61.59 499.28,61.13 C500.16,60.68 500.98,61.29 501.73,61.17 C502.48,61.06 503.43,60.55 503.77,60.43" stroke="#1f77b4" stroke-opacity="0.55" stroke-width="1.10"/>
<path d="M481.00,63.01 C481.35,62.82 482.36,62.09 483.10,61.85 C483.84,61.61 484.69,61.56 485.45,61.56 C486.22,61.56 486.77,61.71 487.69,61.84 C488.60,61.97 489.90,62.12 490.96,62.34 C492.02,62.56 493.04,63.55 494.06,63.18 C495.09,62.82 496.13,60.24 497.11,60.13 C498.09,60.02 498.95,62.48 499.94,62.51 C500.94,62.54 502.57,60.67 503.09,60.30" stroke="#ff7f0e" stroke-opacity="0.35" stroke-width="1.10"/>
<path d="M481.00,63.51 C481.46,63.39 482.84,62.72 483.76,62.78 C484.67,62.83 485.52,64.02 486.47,63.83 C487.41,63.65 488.58,61.71 489.43,61.67 C490.28,61.63 490.76,63.54 491.56,63.59 C492.35,63.64 493.20,61.98 494.19,61.99 C495.19,61.99 496.47,63.94 497.51,63.63 C498.55,63.32 499.45,60.31 500.43,60.13 C501.42,59.95 502.92,62.14 503.42,62.55" stroke="#ff7f0e" stroke-opacity="0.35" stroke-width="1.10"/>
<path d="M481.00,61.00 C484.67,60.67 498.50,60.00 503.00,59.00 C507.50,58.00 506.93,57.32 508.00,55.00 C509.07,52.68 508.83,47.75 509.40,45.10 C509.97,42.45 510.57,38.77 511.40,39.10 C512.23,39.43 513.83,46.12 514.40,47.10 C514.97,48.08 514.07,47.35 514.80,45.00 C515.53,42.65 517.47,33.33 518.80,33.00 C520.13,32.67 521.47,40.67 522.80,43.00 C524.13,45.33 525.60,46.17 526.80,47.00 C528.00,47.83 528.97,48.08 530.00,48.00 C531.03,47.92 531.83,45.83 533.00,46.50 C534.17,47.17 535.67,50.08 537.00,52.00 C538.33,53.92 539.33,56.33 541.00,58.00 C542.67,59.67 541.45,61.08 547.00,62.00 C552.55,62.92 569.75,63.25 574.30,63.50" stroke="#b0b0b0" stroke-opacity="0.32" stroke-width="1.10"/>
<path d="M481.00,61.00 C484.33,60.67 496.83,60.33 501.00,59.00 C505.17,57.67 504.50,54.67 506.00,53.00 C507.50,51.33 508.67,49.17 510.00,49.00 C511.33,48.83 512.67,52.33 514.00,52.00 C515.33,51.67 516.67,47.17 518.00,47.00 C519.33,46.83 520.50,49.83 522.00,51.00 C523.50,52.17 525.17,54.00 527.00,54.00 C528.83,54.00 531.00,50.50 533.00,51.00 C535.00,51.50 537.00,55.17 539.00,57.00 C541.00,58.83 539.12,60.92 545.00,62.00 C550.88,63.08 569.42,63.25 574.30,63.50" stroke="#b0b0b0" stroke-opacity="0.24" stroke-width="1.10"/>
<path d="M481.00,62.00 C484.67,61.67 498.50,60.83 503.00,60.00 C507.50,59.17 506.50,58.17 508.00,57.00 C509.50,55.83 510.50,53.33 512.00,53.00 C513.50,52.67 515.17,55.33 517.00,55.00 C518.83,54.67 521.00,51.00 523.00,51.00 C525.00,51.00 527.00,54.50 529.00,55.00 C531.00,55.50 533.00,53.17 535.00,54.00 C537.00,54.83 534.45,58.42 541.00,60.00 C547.55,61.58 568.75,62.92 574.30,63.50" stroke="#b0b0b0" stroke-opacity="0.21" stroke-width="1.10"/>
<path d="M481.00,63.00 C484.00,63.00 495.33,63.50 499.00,63.00 C502.67,62.50 501.67,61.60 503.00,60.00 C504.33,58.40 506.17,53.07 507.00,53.40 C507.83,53.73 507.55,62.57 508.00,62.00 C508.45,61.43 509.13,49.83 509.70,50.00 C510.27,50.17 510.68,63.30 511.40,63.00 C512.12,62.70 513.07,48.53 514.00,48.20 C514.93,47.87 515.83,58.70 517.00,61.00 C518.17,63.30 519.67,61.50 521.00,62.00 C522.33,62.50 516.12,63.67 525.00,64.00 C533.88,64.33 566.08,64.00 574.30,64.00" stroke="#1f77b4" stroke-opacity="0.55" stroke-width="1.10"/>
<path d="M481.00,64.00 C484.33,63.83 497.00,64.00 501.00,63.00 C505.00,62.00 503.92,58.33 505.00,58.00 C506.08,57.67 506.67,61.67 507.50,61.00 C508.33,60.33 509.25,54.17 510.00,54.00 C510.75,53.83 511.03,60.97 512.00,60.00 C512.97,59.03 514.72,48.70 515.80,48.20 C516.88,47.70 517.63,54.53 518.50,57.00 C519.37,59.47 511.70,61.83 521.00,63.00 C530.30,64.17 565.42,63.83 574.30,64.00" stroke="#1f77b4" stroke-opacity="0.55" stroke-width="1.10"/>
<path d="M481.00,63.00 C484.50,62.83 497.83,63.00 502.00,62.00 C506.17,61.00 504.92,58.17 506.00,57.00 C507.08,55.83 507.67,54.33 508.50,55.00 C509.33,55.67 510.25,61.33 511.00,61.00 C511.75,60.67 512.33,53.00 513.00,53.00 C513.67,53.00 514.17,60.67 515.00,61.00 C515.83,61.33 517.00,54.83 518.00,55.00 C519.00,55.17 519.67,60.50 521.00,62.00 C522.33,63.50 517.12,63.67 526.00,64.00 C534.88,64.33 566.25,64.00 574.30,64.00" stroke="#1f77b4" stroke-opacity="0.55" stroke-width="1.10"/>
<path d="M481.00,64.00 C484.67,63.83 498.50,63.83 503.00,63.00 C507.50,62.17 506.67,60.17 508.00,59.00 C509.33,57.83 510.00,55.50 511.00,56.00 C512.00,56.50 513.00,62.67 514.00,62.00 C515.00,61.33 516.08,52.50 517.00,52.00 C517.92,51.50 518.50,57.17 519.50,59.00 C520.50,60.83 513.87,62.17 523.00,63.00 C532.13,63.83 565.75,63.83 574.30,64.00" stroke="#1f77b4" stroke-opacity="0.55" stroke-width="1.10"/>
<path d="M481.00,63.00 C484.00,62.83 495.67,62.67 499.00,62.00 C502.33,61.33 500.33,58.83 501.00,59.00 C501.67,59.17 502.00,63.78 503.00,63.00 C504.00,62.22 506.00,54.63 507.00,54.30 C508.00,53.97 508.17,59.72 509.00,61.00 C509.83,62.28 511.00,61.58 512.00,62.00 C513.00,62.42 504.62,63.17 515.00,63.50 C525.38,63.83 564.42,63.92 574.30,64.00" stroke="#ff7f0e" stroke-opacity="0.45" stroke-width="1.10"/>
<path d="M481.00,61.00 C484.67,60.67 498.33,60.33 503.00,59.00 C507.67,57.67 507.17,55.33 509.00,53.00 C510.83,50.67 512.50,46.83 514.00,45.00 C515.50,43.17 516.67,41.67 518.00,42.00 C519.33,42.33 520.50,45.50 522.00,47.00 C523.50,48.50 525.33,51.00 527.00,51.00 C528.67,51.00 530.33,46.67 532.00,47.00 C533.67,47.33 535.17,50.83 537.00,53.00 C538.83,55.17 536.78,58.33 543.00,60.00 C549.22,61.67 569.08,62.50 574.30,63.00" stroke="#b0b0b0" stroke-opacity="0.24" stroke-width="1.10"/>
<path d="M481.00,62.00 C485.00,61.67 500.00,61.17 505.00,60.00 C510.00,58.83 509.17,56.50 511.00,55.00 C512.83,53.50 514.33,52.00 516.00,51.00 C517.67,50.00 519.33,48.67 521.00,49.00 C522.67,49.33 524.33,52.83 526.00,53.00 C527.67,53.17 529.33,49.67 531.00,50.00 C532.67,50.33 534.00,53.17 536.00,55.00 C538.00,56.83 536.62,59.67 543.00,61.00 C549.38,62.33 569.08,62.67 574.30,63.00" stroke="#b0b0b0" stroke-opacity="0.24" stroke-width="1.10"/>
<path d="M481.00,64.00 C488.58,64.00 518.50,64.67 526.50,64.00 C534.50,63.33 528.25,61.33 529.00,60.00 C529.75,58.67 530.33,56.17 531.00,56.00 C531.67,55.83 532.17,59.00 533.00,59.00 C533.83,59.00 534.67,57.25 536.00,56.00 C537.33,54.75 538.78,52.58 541.00,51.50 C543.22,50.42 545.97,49.39 549.30,49.50 C552.63,49.61 556.83,51.34 561.00,52.14 C565.17,52.94 572.08,53.94 574.30,54.30" stroke="#1f77b4" stroke-opacity="0.55" stroke-width="1.10"/>
<path d="M481.00,64.00 C488.67,64.00 519.00,64.50 527.00,64.00 C535.00,63.50 528.33,62.17 529.00,61.00 C529.67,59.83 530.33,57.17 531.00,57.00 C531.67,56.83 532.17,60.00 533.00,60.00 C533.83,60.00 534.67,58.07 536.00,57.00 C537.33,55.93 538.78,54.50 541.00,53.60 C543.22,52.70 545.97,51.51 549.30,51.60 C552.63,51.69 556.83,53.36 561.00,54.13 C565.17,54.90 572.08,55.86 574.30,56.20" stroke="#1f77b4" stroke-opacity="0.55" stroke-width="1.10"/>
<path d="M481.00,64.00 C488.75,64.00 519.50,64.33 527.50,64.00 C535.50,63.67 528.42,63.00 529.00,62.00 C529.58,61.00 530.33,58.17 531.00,58.00 C531.67,57.83 532.17,61.00 533.00,61.00 C533.83,61.00 534.67,58.88 536.00,58.00 C537.33,57.12 538.78,56.42 541.00,55.70 C543.22,54.98 545.97,53.64 549.30,53.70 C552.63,53.76 556.83,55.35 561.00,56.06 C565.17,56.78 572.08,57.68 574.30,58.00" stroke="#1f77b4" stroke-opacity="0.55" stroke-width="1.10"/>
<path d="M481.00,64.00 C488.83,64.00 520.00,64.17 528.00,64.00 C536.00,63.83 528.50,63.83 529.00,63.00 C529.50,62.17 530.33,59.17 531.00,59.00 C531.67,58.83 532.17,62.00 533.00,62.00 C533.83,62.00 534.67,59.70 536.00,59.00 C537.33,58.30 538.78,58.33 541.00,57.80 C543.22,57.27 545.97,55.77 549.30,55.80 C552.63,55.83 556.83,57.33 561.00,58.00 C565.17,58.67 572.08,59.50 574.30,59.80" stroke="#1f77b4" stroke-opacity="0.55" stroke-width="1.10"/>
<path d="M481.00,64.00 C489.33,64.00 521.67,64.08 531.00,64.00 C540.33,63.92 534.83,64.13 537.00,63.50 C539.17,62.87 541.22,61.08 544.00,60.20 C546.78,59.32 550.20,58.38 553.70,58.20 C557.20,58.02 561.57,58.73 565.00,59.10 C568.43,59.47 572.75,60.18 574.30,60.40" stroke="#ff7f0e" stroke-opacity="0.56" stroke-width="1.30"/>
<path d="M481.00,64.00 C489.33,64.00 521.67,64.08 531.00,64.00 C540.33,63.92 534.83,63.67 537.00,63.50 C539.17,63.33 541.22,63.42 544.00,63.00 C546.78,62.58 550.20,61.18 553.70,61.00 C557.20,60.82 561.57,61.82 565.00,61.90 C568.43,61.98 572.75,61.57 574.30,61.50" stroke="#ff7f0e" stroke-opacity="0.35" stroke-width="1.30"/>
<path d="M481.00,64.00 C489.33,64.00 521.67,63.92 531.00,64.00 C540.33,64.08 533.67,64.75 537.00,64.50 C540.33,64.25 544.78,62.83 551.00,62.50 C557.22,62.17 570.42,62.50 574.30,62.50" stroke="#1f77b4" stroke-opacity="0.35" stroke-width="1.10"/>
</g>
<g clip-path="url(#cp10)" fill="none" stroke-linejoin="round" stroke-linecap="butt">
<path d="M73.50,115.50 C74.05,117.30 75.88,125.07 76.80,126.30 C77.72,127.53 78.30,123.37 79.00,122.90 C79.70,122.43 80.33,123.43 81.00,123.50 C81.67,123.57 81.18,123.33 83.00,123.30 C84.82,123.27 90.28,125.12 91.90,123.30 C93.52,121.48 92.43,112.55 92.70,112.40 C92.97,112.26 93.17,120.26 93.50,122.43 C93.83,124.60 94.27,125.24 94.70,125.40 C95.13,125.56 95.62,123.53 96.10,123.40 C96.58,123.27 97.10,124.47 97.60,124.60 C98.10,124.73 95.25,124.27 99.10,124.20 C102.95,124.13 116.98,125.33 120.70,124.20 C124.42,123.07 120.73,116.97 121.40,117.40 C122.07,117.83 123.70,126.02 124.70,126.80 C125.70,127.58 126.67,122.55 127.40,122.10 C128.13,121.65 128.48,123.90 129.10,124.10 C129.72,124.30 124.82,123.43 131.10,123.30 C137.38,123.17 160.85,123.30 166.80,123.30" stroke="#1f77b4" stroke-opacity="0.39" stroke-width="1.30"/>
<path d="M73.50,130.80 C76.57,130.80 88.70,134.07 91.90,130.80 C95.10,127.53 92.43,114.28 92.70,111.20 C92.97,108.12 93.17,111.89 93.50,112.31 C93.83,112.72 94.27,113.80 94.70,113.70 C95.13,113.60 95.62,111.83 96.10,111.70 C96.58,111.57 97.10,112.77 97.60,112.90 C98.10,113.03 95.25,112.57 99.10,112.50 C102.95,112.43 116.98,112.85 120.70,112.50 C124.42,112.15 120.73,106.77 121.40,110.40 C122.07,114.03 123.70,131.10 124.70,134.30 C125.70,137.50 126.67,130.05 127.40,129.60 C128.13,129.15 128.48,131.40 129.10,131.60 C129.72,131.80 124.82,130.93 131.10,130.80 C137.38,130.67 160.85,130.80 166.80,130.80" stroke="#1f77b4" stroke-opacity="0.58" stroke-width="1.30"/>
<path d="M73.50,130.80 C76.57,130.80 88.70,133.70 91.90,130.80 C95.10,127.90 92.43,116.00 92.70,113.40 C92.97,110.80 93.17,114.64 93.50,115.19 C93.83,115.73 94.27,116.78 94.70,116.70 C95.13,116.62 95.62,114.83 96.10,114.70 C96.58,114.57 97.10,115.77 97.60,115.90 C98.10,116.03 95.25,115.57 99.10,115.50 C102.95,115.43 116.98,116.02 120.70,115.50 C124.42,114.98 120.73,109.23 121.40,112.40 C122.07,115.57 123.70,131.60 124.70,134.50 C125.70,137.40 126.67,130.25 127.40,129.80 C128.13,129.35 128.48,131.60 129.10,131.80 C129.72,132.00 124.82,131.13 131.10,131.00 C137.38,130.87 160.85,131.00 166.80,131.00" stroke="#1f77b4" stroke-opacity="0.58" stroke-width="1.30"/>
<path d="M73.50,131.40 C76.57,131.40 88.70,133.73 91.90,131.40 C95.10,129.07 92.43,118.77 92.70,117.40 C92.97,116.03 93.17,121.85 93.50,123.18 C93.83,124.51 94.27,125.36 94.70,125.40 C95.13,125.44 95.62,123.53 96.10,123.40 C96.58,123.27 97.10,124.47 97.60,124.60 C98.10,124.73 95.25,124.27 99.10,124.20 C102.95,124.13 116.98,125.33 120.70,124.20 C124.42,123.07 120.73,115.62 121.40,117.40 C122.07,119.18 123.70,132.77 124.70,134.90 C125.70,137.03 126.67,130.65 127.40,130.20 C128.13,129.75 128.48,132.00 129.10,132.20 C129.72,132.40 124.82,131.53 131.10,131.40 C137.38,131.27 160.85,131.40 166.80,131.40" stroke="#b0b0b0" stroke-opacity="0.32" stroke-width="1.10"/>
<path d="M73.50,133.80 C76.57,133.80 88.70,136.12 91.90,133.80 C95.10,131.48 92.43,121.85 92.70,119.90 C92.97,117.95 93.17,121.48 93.50,122.11 C93.83,122.74 94.27,123.77 94.70,123.70 C95.13,123.63 95.62,121.83 96.10,121.70 C96.58,121.57 97.10,122.77 97.60,122.90 C98.10,123.03 95.25,122.57 99.10,122.50 C102.95,122.43 116.98,123.18 120.70,122.50 C124.42,121.82 120.73,116.17 121.40,118.40 C122.07,120.63 123.70,133.60 124.70,135.90 C125.70,138.20 126.67,132.48 127.40,132.20 C128.13,131.92 128.48,134.00 129.10,134.20 C129.72,134.40 124.82,133.53 131.10,133.40 C137.38,133.27 160.85,133.40 166.80,133.40" stroke="#ff7f0e" stroke-opacity="0.52" stroke-width="1.30"/>
<path d="M73.50,133.40 C76.57,133.40 88.70,135.40 91.90,133.40 C95.10,131.40 92.43,122.64 92.70,121.40 C92.97,120.17 93.17,124.89 93.50,125.99 C93.83,127.09 94.27,128.00 94.70,128.00 C95.13,128.00 95.62,126.13 96.10,126.00 C96.58,125.87 97.10,127.07 97.60,127.20 C98.10,127.33 95.25,126.87 99.10,126.80 C102.95,126.73 116.98,127.87 120.70,126.80 C124.42,125.73 120.73,118.88 121.40,120.40 C122.07,121.92 123.70,133.93 124.70,135.90 C125.70,137.87 126.67,132.48 127.40,132.20 C128.13,131.92 128.48,134.00 129.10,134.20 C129.72,134.40 124.82,133.53 131.10,133.40 C137.38,133.27 160.85,133.40 166.80,133.40" stroke="#ff7f0e" stroke-opacity="0.49" stroke-width="1.20"/>
<path d="M73.50,133.40 C76.57,133.40 88.70,135.07 91.90,133.40 C95.10,131.73 92.43,124.34 92.70,123.40 C92.97,122.46 93.17,126.69 93.50,127.74 C93.83,128.79 94.27,129.71 94.70,129.70 C95.13,129.69 95.62,127.83 96.10,127.70 C96.58,127.57 97.10,128.77 97.60,128.90 C98.10,129.03 95.25,128.57 99.10,128.50 C102.95,128.43 116.98,129.52 120.70,128.50 C124.42,127.48 120.73,121.17 121.40,122.40 C122.07,123.63 123.70,134.27 124.70,135.90 C125.70,137.53 126.67,132.48 127.40,132.20 C128.13,131.92 128.48,134.00 129.10,134.20 C129.72,134.40 124.82,133.53 131.10,133.40 C137.38,133.27 160.85,133.40 166.80,133.40" stroke="#ff7f0e" stroke-opacity="0.49" stroke-width="1.20"/>
<path d="M73.50,133.60 C76.57,133.60 88.70,134.97 91.90,133.60 C95.10,132.23 92.43,125.95 92.70,125.40 C92.97,124.86 93.17,129.16 93.50,130.33 C93.83,131.50 94.27,132.39 94.70,132.40 C95.13,132.41 95.62,130.53 96.10,130.40 C96.58,130.27 97.10,131.47 97.60,131.60 C98.10,131.73 95.25,131.27 99.10,131.20 C102.95,131.13 116.98,132.33 120.70,131.20 C124.42,130.07 120.73,123.62 121.40,124.40 C122.07,125.18 123.70,134.57 124.70,135.90 C125.70,137.23 126.67,132.65 127.40,132.40 C128.13,132.15 128.48,134.20 129.10,134.40 C129.72,134.60 124.82,133.73 131.10,133.60 C137.38,133.47 160.85,133.60 166.80,133.60" stroke="#ff7f0e" stroke-opacity="0.56" stroke-width="1.30"/>
<path d="M73.50,131.00 C76.57,131.00 88.70,131.60 91.90,131.00 C95.10,130.40 92.43,127.29 92.70,127.40 C92.97,127.51 93.17,130.62 93.50,131.65 C93.83,132.68 94.27,133.61 94.70,133.60 C95.13,133.59 95.62,131.73 96.10,131.60 C96.58,131.47 97.10,132.67 97.60,132.80 C98.10,132.93 95.25,132.47 99.10,132.40 C102.95,132.33 116.98,133.23 120.70,132.40 C124.42,131.57 120.73,127.05 121.40,127.40 C122.07,127.75 123.70,134.10 124.70,134.50 C125.70,134.90 126.67,130.25 127.40,129.80 C128.13,129.35 128.48,131.60 129.10,131.80 C129.72,132.00 124.82,131.13 131.10,131.00 C137.38,130.87 160.85,131.00 166.80,131.00" stroke="#1f77b4" stroke-opacity="0.62" stroke-width="1.40"/>
<path d="M73.50,130.40 C74.05,131.43 75.88,136.13 76.80,136.60 C77.72,137.07 78.30,133.67 79.00,133.20 C79.70,132.73 80.33,133.73 81.00,133.80 C81.67,133.87 81.18,133.63 83.00,133.60 C84.82,133.57 90.28,133.97 91.90,133.60 C93.52,133.23 92.43,131.43 92.70,131.40 C92.97,131.37 93.17,132.84 93.50,133.44 C93.83,134.04 94.27,135.07 94.70,135.00 C95.13,134.93 95.62,133.13 96.10,133.00 C96.58,132.87 97.10,134.07 97.60,134.20 C98.10,134.33 95.25,133.87 99.10,133.80 C102.95,133.73 116.98,134.20 120.70,133.80 C124.42,133.40 120.73,131.05 121.40,131.40 C122.07,131.75 123.70,135.73 124.70,135.90 C125.70,136.07 126.67,132.65 127.40,132.40 C128.13,132.15 128.48,134.20 129.10,134.40 C129.72,134.60 124.82,133.73 131.10,133.60 C137.38,133.47 160.85,133.60 166.80,133.60" stroke="#ff7f0e" stroke-opacity="0.49" stroke-width="1.20"/>
<path d="M73.50,134.90 C76.57,134.90 88.70,135.15 91.90,134.90 C95.10,134.65 92.43,133.37 92.70,133.40 C92.97,133.43 93.17,134.57 93.50,135.10 C93.83,135.63 94.27,136.68 94.70,136.60 C95.13,136.52 95.62,134.73 96.10,134.60 C96.58,134.47 97.10,135.67 97.60,135.80 C98.10,135.93 95.25,135.47 99.10,135.40 C102.95,135.33 116.98,135.73 120.70,135.40 C124.42,135.07 120.73,133.32 121.40,133.40 C122.07,133.48 123.70,135.85 124.70,135.90 C125.70,135.95 126.67,133.73 127.40,133.70 C128.13,133.67 128.48,135.50 129.10,135.70 C129.72,135.90 124.82,135.03 131.10,134.90 C137.38,134.77 160.85,134.90 166.80,134.90" stroke="#1f77b4" stroke-opacity="0.47" stroke-width="1.10"/>
</g>
<g clip-path="url(#cp11)" fill="none" stroke-linejoin="round" stroke-linecap="butt">
<path d="M209.20,133.90 C212.22,133.90 224.03,137.65 227.30,133.90 C230.57,130.15 228.05,114.52 228.80,111.40 C229.55,108.28 231.05,114.75 231.80,115.20 C232.55,115.65 232.77,114.20 233.30,114.10 C233.83,114.00 231.22,114.52 235.00,114.60 C238.78,114.68 252.27,116.62 256.00,114.60 C259.73,112.58 256.58,99.12 257.40,102.50 C258.22,105.88 260.05,129.92 260.90,134.90 C261.75,139.88 261.97,132.40 262.50,132.40 C263.03,132.40 263.47,134.60 264.10,134.90 C264.73,135.20 259.90,134.32 266.30,134.20 C272.70,134.08 296.47,134.20 302.50,134.20" stroke="#b0b0b0" stroke-opacity="0.32" stroke-width="1.10"/>
<path d="M209.20,133.90 C212.22,133.90 224.03,136.65 227.30,133.90 C230.57,131.15 228.05,118.92 228.80,117.40 C229.55,115.88 231.05,123.75 231.80,124.80 C232.55,125.85 232.77,123.80 233.30,123.70 C233.83,123.60 231.22,124.12 235.00,124.20 C238.78,124.28 252.27,126.67 256.00,124.20 C259.73,121.73 256.58,107.62 257.40,109.40 C258.22,111.18 260.05,131.07 260.90,134.90 C261.75,138.73 261.97,132.40 262.50,132.40 C263.03,132.40 263.47,134.60 264.10,134.90 C264.73,135.20 259.90,134.32 266.30,134.20 C272.70,134.08 296.47,134.20 302.50,134.20" stroke="#b0b0b0" stroke-opacity="0.28" stroke-width="1.10"/>
<path d="M209.20,133.90 C212.22,133.90 224.03,136.32 227.30,133.90 C230.57,131.48 228.05,120.63 228.80,119.40 C229.55,118.17 231.05,125.50 231.80,126.50 C232.55,127.50 232.77,125.50 233.30,125.40 C233.83,125.30 231.22,125.82 235.00,125.90 C238.78,125.98 252.27,128.32 256.00,125.90 C259.73,123.48 256.58,109.90 257.40,111.40 C258.22,112.90 260.05,131.40 260.90,134.90 C261.75,138.40 261.97,132.40 262.50,132.40 C263.03,132.40 263.47,134.60 264.10,134.90 C264.73,135.20 259.90,134.32 266.30,134.20 C272.70,134.08 296.47,134.20 302.50,134.20" stroke="#b0b0b0" stroke-opacity="0.28" stroke-width="1.10"/>
<path d="M209.20,134.20 C212.22,134.20 224.03,139.63 227.30,134.20 C230.57,128.77 228.05,103.88 228.80,101.60 C229.55,99.32 231.05,117.53 231.80,120.50 C232.55,123.47 232.77,119.50 233.30,119.40 C233.83,119.30 231.22,119.82 235.00,119.90 C238.78,119.98 252.27,121.22 256.00,119.90 C259.73,118.58 256.58,109.50 257.40,112.00 C258.22,114.50 260.05,131.50 260.90,134.90 C261.75,138.30 261.97,132.40 262.50,132.40 C263.03,132.40 263.47,134.57 264.10,134.90 C264.73,135.23 259.90,134.48 266.30,134.40 C272.70,134.32 296.47,134.40 302.50,134.40" stroke="#1f77b4" stroke-opacity="0.43" stroke-width="1.10"/>
<path d="M209.20,134.20 C212.27,134.20 224.28,139.13 227.60,134.20 C230.92,129.27 228.35,105.45 229.10,104.60 C229.85,103.75 231.35,125.20 232.10,129.10 C232.85,133.00 233.07,128.10 233.60,128.00 C234.13,127.90 231.57,128.42 235.30,128.50 C239.03,128.58 252.32,130.83 256.00,128.50 C259.68,126.17 256.45,113.43 257.40,114.50 C258.35,115.57 260.72,131.92 261.70,134.90 C262.68,137.88 262.77,132.40 263.30,132.40 C263.83,132.40 264.27,134.57 264.90,134.90 C265.53,135.23 260.83,134.48 267.10,134.40 C273.37,134.32 296.60,134.40 302.50,134.40" stroke="#1f77b4" stroke-opacity="0.43" stroke-width="1.10"/>
<path d="M209.20,134.20 C212.32,134.20 224.53,138.63 227.90,134.20 C231.27,129.77 228.65,108.07 229.40,107.60 C230.15,107.13 231.65,127.62 232.40,131.40 C233.15,135.18 233.37,130.40 233.90,130.30 C234.43,130.20 231.92,130.72 235.60,130.80 C239.28,130.88 252.37,133.10 256.00,130.80 C259.63,128.50 256.32,116.32 257.40,117.00 C258.48,117.68 261.38,132.33 262.50,134.90 C263.62,137.47 263.57,132.40 264.10,132.40 C264.63,132.40 265.07,134.57 265.70,134.90 C266.33,135.23 261.77,134.48 267.90,134.40 C274.03,134.32 296.73,134.40 302.50,134.40" stroke="#1f77b4" stroke-opacity="0.43" stroke-width="1.10"/>
<path d="M209.20,134.20 C212.37,134.20 224.78,138.13 228.20,134.20 C231.62,130.27 228.95,110.72 229.70,110.60 C230.45,110.48 231.95,129.87 232.70,133.50 C233.45,137.13 233.67,132.50 234.20,132.40 C234.73,132.30 232.27,132.82 235.90,132.90 C239.53,132.98 252.42,135.13 256.00,132.90 C259.58,130.67 256.18,119.17 257.40,119.50 C258.62,119.83 262.05,132.75 263.30,134.90 C264.55,137.05 264.37,132.40 264.90,132.40 C265.43,132.40 265.87,134.57 266.50,134.90 C267.13,135.23 262.70,134.48 268.70,134.40 C274.70,134.32 296.87,134.40 302.50,134.40" stroke="#1f77b4" stroke-opacity="0.41" stroke-width="1.10"/>
<path d="M209.20,134.90 C209.53,134.32 210.62,132.65 211.20,131.40 C211.78,130.15 212.20,127.40 212.70,127.40 C213.20,127.40 213.62,130.23 214.20,131.40 C214.78,132.57 201.48,133.90 216.20,134.40 C230.92,134.90 288.12,134.40 302.50,134.40" stroke="#1f77b4" stroke-opacity="0.47" stroke-width="1.10"/>
<path d="M209.20,134.40 C209.35,131.90 209.78,124.00 210.10,119.40 C210.42,114.80 210.75,106.63 211.10,106.80 C211.45,106.97 211.82,116.47 212.20,120.40 C212.58,124.33 212.98,128.57 213.40,130.40 C213.82,132.23 214.23,131.65 214.70,131.40 C215.17,131.15 215.62,129.10 216.20,128.90 C216.78,128.70 217.53,130.15 218.20,130.20 C218.87,130.25 219.45,129.27 220.20,129.20 C220.95,129.13 221.62,129.82 222.70,129.80 C223.78,129.78 225.85,128.83 226.70,129.10 C227.55,129.37 227.38,130.60 227.80,131.40 C228.22,132.20 224.33,133.48 229.20,133.90 C234.07,134.32 252.20,137.12 257.00,133.90 C261.80,130.68 257.58,116.02 258.00,114.60 C258.42,113.18 259.03,122.02 259.50,125.40 C259.97,128.78 260.35,133.90 260.80,134.90 C261.25,135.90 261.75,133.18 262.20,131.40 C262.65,129.62 263.03,124.45 263.50,124.20 C263.97,123.95 264.50,129.28 265.00,129.90 C265.50,130.52 265.92,128.03 266.50,127.90 C267.08,127.77 262.50,128.90 268.50,129.10 C274.50,129.30 296.83,129.10 302.50,129.10" stroke="#ff7f0e" stroke-opacity="0.56" stroke-width="1.30"/>
</g>
<g clip-path="url(#cp12)" fill="none" stroke-linejoin="round" stroke-linecap="butt">
<path d="M345.00,114.40 L345.40,134.40 L346.00,127.40 L347.90,102.50 L349.60,123.40 L351.80,124.40 L355.00,128.40 L360.50,134.90 L438.30,134.90" stroke="#ff7f0e" stroke-opacity="0.49" stroke-width="1.10"/>
<path d="M345.00,134.40 L348.20,134.40 L350.60,105.10 L352.80,126.40 L354.10,130.90 L355.30,129.20 L357.00,132.90 L359.50,130.90 L361.00,135.00 L438.30,135.00" stroke="#1f77b4" stroke-opacity="0.58" stroke-width="1.10"/>
<path d="M345.00,134.40 L347.50,123.40 L349.00,106.40 L350.80,121.40 L352.20,104.40 L354.00,127.40 L357.00,133.40 L438.30,134.40" stroke="#b0b0b0" stroke-opacity="0.24" stroke-width="1.10"/>
<path d="M345.00,134.40 L346.60,115.40 L348.50,129.40 L350.00,117.40 L352.00,131.40 L354.00,134.40 L438.30,134.40" stroke="#b0b0b0" stroke-opacity="0.21" stroke-width="1.10"/>
<path d="M345.00,134.90 L362.20,134.90 L365.50,91.20 L368.50,127.40 L370.00,134.90 L438.30,134.90" stroke="#b0b0b0" stroke-opacity="0.35" stroke-width="1.10"/>
<path d="M345.00,134.90 L363.30,134.90 L364.60,108.60 L366.00,134.90 L438.30,134.90" stroke="#ff7f0e" stroke-opacity="0.42" stroke-width="1.10"/>
<path d="M345.00,134.90 C348.33,134.90 361.17,136.15 365.00,134.90 C368.83,133.65 366.67,130.65 368.00,127.40 C369.33,124.15 370.50,117.23 373.00,115.40 C375.50,113.57 379.83,116.57 383.00,116.40 C386.17,116.23 390.30,111.40 392.00,114.40 C393.70,117.40 385.48,131.07 393.20,134.40 C400.92,137.73 430.78,134.40 438.30,134.40" stroke="#b0b0b0" stroke-opacity="0.32" stroke-width="1.10"/>
<path d="M345.00,134.90 C348.33,134.90 361.17,136.15 365.00,134.90 C368.83,133.65 366.67,130.15 368.00,127.40 C369.33,124.65 370.50,119.73 373.00,118.40 C375.50,117.07 379.83,119.57 383.00,119.40 C386.17,119.23 390.30,114.90 392.00,117.40 C393.70,119.90 385.48,131.57 393.20,134.40 C400.92,137.23 430.78,134.40 438.30,134.40" stroke="#b0b0b0" stroke-opacity="0.32" stroke-width="1.10"/>
<path d="M345.00,134.90 C348.33,134.90 361.17,136.15 365.00,134.90 C368.83,133.65 366.67,129.65 368.00,127.40 C369.33,125.15 370.50,122.23 373.00,121.40 C375.50,120.57 379.83,122.57 383.00,122.40 C386.17,122.23 390.30,118.40 392.00,120.40 C393.70,122.40 385.48,132.07 393.20,134.40 C400.92,136.73 430.78,134.40 438.30,134.40" stroke="#b0b0b0" stroke-opacity="0.32" stroke-width="1.10"/>
<path d="M345.00,134.90 C348.33,134.90 361.17,136.15 365.00,134.90 C368.83,133.65 366.67,129.18 368.00,127.40 C369.33,125.62 370.50,124.57 373.00,124.20 C375.50,123.83 379.83,125.37 383.00,125.20 C386.17,125.03 390.30,121.67 392.00,123.20 C393.70,124.73 385.48,132.53 393.20,134.40 C400.92,136.27 430.78,134.40 438.30,134.40" stroke="#b0b0b0" stroke-opacity="0.32" stroke-width="1.10"/>
<path d="M345.00,134.90 C348.33,134.90 361.17,136.15 365.00,134.90 C368.83,133.65 366.67,128.82 368.00,127.40 C369.33,125.98 370.50,126.40 373.00,126.40 C375.50,126.40 379.83,127.57 383.00,127.40 C386.17,127.23 390.30,124.23 392.00,125.40 C393.70,126.57 385.48,132.90 393.20,134.40 C400.92,135.90 430.78,134.40 438.30,134.40" stroke="#b0b0b0" stroke-opacity="0.32" stroke-width="1.10"/>
<path d="M345.00,134.90 C348.33,134.90 361.17,136.15 365.00,134.90 C368.83,133.65 366.67,128.40 368.00,127.40 C369.33,126.40 370.50,128.48 373.00,128.90 C375.50,129.32 379.83,130.07 383.00,129.90 C386.17,129.73 390.30,127.15 392.00,127.90 C393.70,128.65 385.48,133.32 393.20,134.40 C400.92,135.48 430.78,134.40 438.30,134.40" stroke="#b0b0b0" stroke-opacity="0.32" stroke-width="1.10"/>
<path d="M345.00,134.90 C348.33,134.90 361.17,136.15 365.00,134.90 C368.83,133.65 366.67,128.02 368.00,127.40 C369.33,126.78 370.50,130.40 373.00,131.20 C375.50,132.00 379.83,132.37 383.00,132.20 C386.17,132.03 390.30,129.83 392.00,130.20 C393.70,130.57 385.48,133.70 393.20,134.40 C400.92,135.10 430.78,134.40 438.30,134.40" stroke="#b0b0b0" stroke-opacity="0.32" stroke-width="1.10"/>
<path d="M345.00,135.00 C348.70,135.00 363.12,138.77 367.20,135.00 C371.28,131.23 368.72,118.70 369.50,112.40 C370.28,106.10 371.15,98.37 371.90,97.20 C372.65,96.03 372.90,101.92 374.00,105.40 C375.10,108.88 377.17,116.43 378.50,118.10 C379.83,119.77 380.83,115.98 382.00,115.40 C383.17,114.82 383.77,114.58 385.50,114.60 C387.23,114.62 391.08,112.37 392.40,115.50 C393.72,118.63 385.75,130.15 393.40,133.40 C401.05,136.65 430.82,134.73 438.30,135.00" stroke="#1f77b4" stroke-opacity="0.66" stroke-width="1.30"/>
<path d="M345.00,135.00 C349.13,135.00 365.30,135.93 369.80,135.00 C374.30,134.07 370.97,131.90 372.00,129.40 C373.03,126.90 374.17,121.73 376.00,120.00 C377.83,118.27 380.33,119.17 383.00,119.00 C385.67,118.83 390.28,116.43 392.00,119.00 C393.72,121.57 385.58,131.73 393.30,134.40 C401.02,137.07 430.80,134.90 438.30,135.00" stroke="#1f77b4" stroke-opacity="0.58" stroke-width="1.20"/>
<path d="M345.00,135.00 C349.13,135.00 365.30,135.93 369.80,135.00 C374.30,134.07 370.97,131.67 372.00,129.40 C373.03,127.13 374.17,122.90 376.00,121.40 C377.83,119.90 380.33,120.57 383.00,120.40 C385.67,120.23 390.28,118.07 392.00,120.40 C393.72,122.73 385.58,131.97 393.30,134.40 C401.02,136.83 430.80,134.90 438.30,135.00" stroke="#1f77b4" stroke-opacity="0.58" stroke-width="1.20"/>
<path d="M345.00,135.00 C349.13,135.00 365.30,135.93 369.80,135.00 C374.30,134.07 370.97,131.47 372.00,129.40 C373.03,127.33 374.17,123.90 376.00,122.60 C377.83,121.30 380.33,121.77 383.00,121.60 C385.67,121.43 390.28,119.47 392.00,121.60 C393.72,123.73 385.58,132.17 393.30,134.40 C401.02,136.63 430.80,134.90 438.30,135.00" stroke="#1f77b4" stroke-opacity="0.58" stroke-width="1.20"/>
<path d="M345.00,135.00 C352.97,135.00 384.68,135.60 392.80,135.00 C400.92,134.40 393.45,134.33 393.70,131.40 C393.95,128.47 394.00,122.73 394.30,117.40 C394.60,112.07 395.13,102.90 395.50,99.40 C395.87,95.90 396.12,96.57 396.50,96.40 C396.88,96.23 397.38,98.40 397.80,98.40 C398.22,98.40 398.55,96.48 399.00,96.40 C399.45,96.32 399.72,97.37 400.50,97.90 C401.28,98.43 402.63,99.05 403.69,99.61 C404.76,100.16 405.82,100.70 406.88,101.24 C407.95,101.77 409.01,102.28 410.07,102.79 C411.14,103.30 412.20,103.79 413.27,104.27 C414.33,104.76 415.39,105.23 416.46,105.69 C417.52,106.15 418.59,106.60 419.65,107.04 C420.71,107.48 421.78,107.91 422.84,108.33 C423.91,108.75 424.97,109.16 426.03,109.57 C427.10,109.97 428.16,110.36 429.23,110.74 C430.29,111.12 431.35,111.50 432.42,111.86 C433.48,112.23 434.54,112.59 435.61,112.93 C436.67,113.28 438.27,113.79 438.80,113.96" stroke="#1f77b4" stroke-opacity="0.58" stroke-width="1.10"/>
<path d="M345.00,135.00 C353.02,135.00 384.93,135.60 393.10,135.00 C401.27,134.40 393.75,134.33 394.00,131.40 C394.25,128.47 394.30,122.57 394.60,117.40 C394.90,112.23 395.38,103.73 395.80,100.40 C396.22,97.07 396.67,97.57 397.10,97.40 C397.53,97.23 397.98,99.40 398.40,99.40 C398.82,99.40 399.15,97.48 399.60,97.40 C400.05,97.32 400.33,98.35 401.10,98.90 C401.87,99.45 403.19,100.10 404.24,100.68 C405.29,101.26 406.34,101.82 407.38,102.37 C408.43,102.92 409.48,103.46 410.52,103.98 C411.57,104.50 412.62,105.01 413.67,105.51 C414.71,106.01 415.76,106.50 416.81,106.97 C417.86,107.44 418.90,107.90 419.95,108.35 C421.00,108.81 422.04,109.24 423.09,109.67 C424.14,110.10 425.19,110.52 426.23,110.93 C427.28,111.33 428.33,111.73 429.38,112.12 C430.42,112.51 431.47,112.88 432.52,113.25 C433.56,113.62 434.61,113.98 435.66,114.33 C436.71,114.68 438.28,115.19 438.80,115.36" stroke="#1f77b4" stroke-opacity="0.58" stroke-width="1.10"/>
<path d="M345.00,135.00 C353.07,135.00 385.18,135.60 393.40,135.00 C401.62,134.40 394.05,134.33 394.30,131.40 C394.55,128.47 394.60,122.40 394.90,117.40 C395.20,112.40 395.63,104.57 396.10,101.40 C396.57,98.23 397.22,98.57 397.70,98.40 C398.18,98.23 398.58,100.40 399.00,100.40 C399.42,100.40 399.75,98.48 400.20,98.40 C400.65,98.32 400.93,99.34 401.70,99.90 C402.47,100.46 403.76,101.15 404.79,101.76 C405.82,102.36 406.85,102.94 407.88,103.51 C408.91,104.09 409.94,104.64 410.98,105.18 C412.01,105.72 413.04,106.25 414.07,106.76 C415.10,107.27 416.13,107.77 417.16,108.26 C418.19,108.74 419.22,109.22 420.25,109.68 C421.28,110.14 422.31,110.59 423.34,111.02 C424.37,111.46 425.40,111.88 426.43,112.30 C427.46,112.71 428.49,113.11 429.52,113.50 C430.56,113.90 431.59,114.28 432.62,114.65 C433.65,115.02 434.68,115.38 435.71,115.73 C436.74,116.09 438.28,116.59 438.80,116.76" stroke="#1f77b4" stroke-opacity="0.58" stroke-width="1.10"/>
<path d="M345.00,135.00 C353.12,135.00 385.43,135.60 393.70,135.00 C401.97,134.40 394.35,134.33 394.60,131.40 C394.85,128.47 394.90,122.23 395.20,117.40 C395.50,112.57 395.88,105.40 396.40,102.40 C396.92,99.40 397.77,99.57 398.30,99.40 C398.83,99.23 399.18,101.40 399.60,101.40 C400.02,101.40 400.35,99.48 400.80,99.40 C401.25,99.32 401.54,100.32 402.30,100.90 C403.06,101.48 404.33,102.22 405.34,102.85 C406.36,103.49 407.37,104.10 408.38,104.70 C409.40,105.30 410.41,105.87 411.43,106.44 C412.44,107.00 413.45,107.55 414.47,108.08 C415.48,108.61 416.49,109.12 417.51,109.63 C418.52,110.13 419.54,110.61 420.55,111.09 C421.56,111.56 422.58,112.02 423.59,112.46 C424.61,112.91 425.62,113.34 426.63,113.76 C427.65,114.18 428.66,114.59 429.68,114.99 C430.69,115.39 431.70,115.77 432.72,116.15 C433.73,116.52 434.74,116.88 435.76,117.24 C436.77,117.59 438.29,118.09 438.80,118.27" stroke="#1f77b4" stroke-opacity="0.58" stroke-width="1.10"/>
<path d="M345.00,135.00 C353.17,135.00 385.68,135.60 394.00,135.00 C402.32,134.40 394.65,134.33 394.90,131.40 C395.15,128.47 395.20,119.70 395.50,117.40 C395.80,115.10 395.62,118.07 396.70,117.60 C397.78,117.13 400.61,114.90 402.00,114.60 C403.39,114.30 404.04,115.41 405.07,115.80 C406.09,116.19 407.11,116.56 408.13,116.93 C409.16,117.29 410.18,117.65 411.20,117.99 C412.22,118.34 413.24,118.67 414.27,119.00 C415.29,119.32 416.31,119.64 417.33,119.94 C418.36,120.25 419.38,120.55 420.40,120.83 C421.42,121.12 422.44,121.40 423.47,121.67 C424.49,121.95 425.51,122.21 426.53,122.46 C427.56,122.72 428.58,122.97 429.60,123.21 C430.62,123.45 431.64,123.69 432.67,123.91 C433.69,124.14 434.71,124.36 435.73,124.58 C436.76,124.79 438.29,125.10 438.80,125.20" stroke="#1f77b4" stroke-opacity="0.58" stroke-width="1.10"/>
<path d="M345.00,135.00 C353.25,135.00 386.10,135.60 394.50,135.00 C402.90,134.40 395.15,134.33 395.40,131.40 C395.65,128.47 395.70,119.12 396.00,117.40 C396.30,115.68 396.20,120.98 397.20,121.10 C398.20,121.22 400.69,118.41 402.00,118.10 C403.31,117.79 404.04,118.87 405.07,119.24 C406.09,119.61 407.11,119.97 408.13,120.31 C409.16,120.66 410.18,120.99 411.20,121.31 C412.22,121.63 413.24,121.94 414.27,122.24 C415.29,122.54 416.31,122.83 417.33,123.11 C418.36,123.39 419.38,123.66 420.40,123.92 C421.42,124.18 422.44,124.44 423.47,124.68 C424.49,124.93 425.51,125.16 426.53,125.39 C427.56,125.62 428.58,125.84 429.60,126.05 C430.62,126.26 431.64,126.47 432.67,126.67 C433.69,126.87 434.71,127.06 435.73,127.25 C436.76,127.43 438.29,127.70 438.80,127.79" stroke="#1f77b4" stroke-opacity="0.58" stroke-width="1.10"/>
<path d="M345.00,135.00 C353.33,135.00 386.52,135.60 395.00,135.00 C403.48,134.40 395.65,134.33 395.90,131.40 C396.15,128.47 396.20,117.95 396.50,117.40 C396.80,116.85 396.78,126.82 397.70,128.10 C398.62,129.38 400.77,125.49 402.00,125.10 C403.23,124.71 404.04,125.56 405.07,125.78 C406.09,126.00 407.11,126.21 408.13,126.41 C409.16,126.62 410.18,126.81 411.20,127.00 C412.22,127.19 413.24,127.38 414.27,127.56 C415.29,127.73 416.31,127.91 417.33,128.07 C418.36,128.24 419.38,128.40 420.40,128.55 C421.42,128.71 422.44,128.86 423.47,129.01 C424.49,129.15 425.51,129.29 426.53,129.43 C427.56,129.56 428.58,129.69 429.60,129.82 C430.62,129.95 431.64,130.07 432.67,130.19 C433.69,130.31 434.71,130.42 435.73,130.53 C436.76,130.64 438.29,130.80 438.80,130.85" stroke="#1f77b4" stroke-opacity="0.58" stroke-width="1.10"/>
<path d="M345.00,135.00 C353.83,135.00 388.67,135.77 398.00,135.00 C407.33,134.23 400.17,130.60 401.00,130.40 C401.83,130.20 396.78,133.23 403.00,133.80 C409.22,134.37 432.42,133.80 438.30,133.80" stroke="#ff7f0e" stroke-opacity="0.49" stroke-width="1.20"/>
</g>
<g clip-path="url(#cp13)" fill="none" stroke-linejoin="round" stroke-linecap="butt">
<path d="M481.00,132.39 C481.46,131.67 482.82,128.66 483.75,128.07 C484.68,127.48 485.64,127.97 486.57,128.85 C487.51,129.74 488.44,133.58 489.37,133.38 C490.31,133.18 491.34,127.75 492.18,127.65 C493.03,127.55 493.70,132.46 494.45,132.79 C495.20,133.13 495.96,130.25 496.68,129.67 C497.40,129.09 497.98,128.73 498.75,129.34 C499.51,129.94 500.30,133.49 501.29,133.28 C502.28,133.07 504.12,128.96 504.69,128.09" stroke="#b0b0b0" stroke-opacity="0.24" stroke-width="1.10"/>
<path d="M481.00,132.49 C481.40,132.18 482.52,130.93 483.38,130.64 C484.24,130.35 485.22,130.87 486.15,130.76 C487.09,130.65 488.07,130.16 488.99,129.99 C489.91,129.82 490.83,130.00 491.66,129.76 C492.49,129.51 493.23,128.24 493.95,128.53 C494.67,128.81 495.08,130.66 495.98,131.46 C496.88,132.25 498.27,133.27 499.35,133.29 C500.43,133.31 501.41,131.76 502.44,131.58 C503.47,131.40 505.03,132.10 505.55,132.20" stroke="#b0b0b0" stroke-opacity="0.24" stroke-width="1.10"/>
<path d="M481.00,130.34 C481.46,130.29 482.94,129.60 483.75,130.04 C484.57,130.47 485.03,132.66 485.89,132.95 C486.75,133.24 487.92,132.60 488.92,131.79 C489.91,130.99 490.80,128.75 491.87,128.10 C492.94,127.45 494.20,127.73 495.35,127.88 C496.49,128.02 497.73,128.13 498.76,128.95 C499.78,129.78 500.63,132.21 501.51,132.83 C502.39,133.44 503.61,132.69 504.03,132.66" stroke="#b0b0b0" stroke-opacity="0.24" stroke-width="1.10"/>
<path d="M481.00,134.39 C481.36,134.47 482.28,134.83 483.13,134.89 C483.98,134.95 485.20,135.22 486.09,134.77 C486.98,134.32 487.63,132.87 488.47,132.17 C489.31,131.47 490.36,130.72 491.15,130.57 C491.95,130.41 492.40,131.19 493.24,131.24 C494.08,131.29 495.38,130.58 496.20,130.86 C497.02,131.14 497.48,132.31 498.16,132.91 C498.83,133.51 499.42,134.67 500.25,134.45 C501.07,134.23 502.64,132.07 503.12,131.59" stroke="#1f77b4" stroke-opacity="0.55" stroke-width="1.10"/>
<path d="M481.00,133.47 C481.48,132.97 482.98,130.93 483.86,130.48 C484.75,130.03 485.44,130.09 486.30,130.77 C487.16,131.44 488.21,134.55 489.03,134.53 C489.85,134.51 490.45,130.68 491.22,130.64 C491.98,130.60 492.91,133.89 493.62,134.31 C494.33,134.72 494.71,133.69 495.45,133.12 C496.20,132.56 497.18,130.61 498.08,130.90 C498.98,131.19 500.08,134.71 500.85,134.88 C501.62,135.05 501.90,132.32 502.70,131.92 C503.50,131.51 505.16,132.34 505.66,132.43" stroke="#1f77b4" stroke-opacity="0.55" stroke-width="1.10"/>
<path d="M481.00,133.83 C481.46,133.58 482.99,132.68 483.78,132.30 C484.57,131.92 484.92,131.22 485.74,131.56 C486.55,131.89 487.70,134.37 488.65,134.34 C489.60,134.31 490.62,131.51 491.44,131.39 C492.26,131.27 492.73,133.19 493.57,133.62 C494.41,134.05 495.50,134.20 496.48,133.96 C497.45,133.73 498.49,132.59 499.43,132.22 C500.37,131.86 501.37,131.38 502.12,131.75 C502.88,132.13 503.67,134.01 503.98,134.47" stroke="#1f77b4" stroke-opacity="0.55" stroke-width="1.10"/>
<path d="M481.00,132.56 C481.40,132.78 482.45,133.66 483.38,133.87 C484.31,134.08 485.54,134.21 486.59,133.79 C487.63,133.38 488.66,131.78 489.65,131.40 C490.64,131.02 491.50,131.41 492.54,131.49 C493.58,131.57 494.91,131.73 495.89,131.88 C496.86,132.02 497.50,132.55 498.41,132.39 C499.31,132.22 500.27,130.59 501.32,130.89 C502.36,131.18 504.11,133.61 504.67,134.16" stroke="#ff7f0e" stroke-opacity="0.35" stroke-width="1.10"/>
<path d="M481.00,132.69 C481.51,132.70 483.20,132.83 484.06,132.75 C484.92,132.66 485.26,132.25 486.17,132.19 C487.09,132.14 488.46,132.25 489.57,132.42 C490.67,132.60 491.73,132.95 492.79,133.25 C493.85,133.54 495.08,134.29 495.94,134.17 C496.81,134.05 497.26,132.53 497.98,132.53 C498.71,132.53 499.41,134.41 500.29,134.15 C501.17,133.89 502.76,131.51 503.25,130.99" stroke="#ff7f0e" stroke-opacity="0.35" stroke-width="1.10"/>
<path d="M481.00,131.40 C484.67,131.07 498.50,130.40 503.00,129.40 C507.50,128.40 506.63,126.85 508.00,125.40 C509.37,123.95 510.33,122.48 511.20,120.70 C512.07,118.92 512.37,114.37 513.20,114.70 C514.03,115.03 515.63,121.50 516.20,122.70 C516.77,123.90 515.87,124.03 516.60,121.90 C517.33,119.77 519.27,110.23 520.60,109.90 C521.93,109.57 523.27,118.65 524.60,119.90 C525.93,121.15 527.70,117.65 528.60,117.40 C529.50,117.15 529.27,118.48 530.00,118.40 C530.73,118.32 531.83,116.23 533.00,116.90 C534.17,117.57 535.67,120.48 537.00,122.40 C538.33,124.32 539.33,126.73 541.00,128.40 C542.67,130.07 541.45,131.48 547.00,132.40 C552.55,133.32 569.75,133.65 574.30,133.90" stroke="#b0b0b0" stroke-opacity="0.32" stroke-width="1.10"/>
<path d="M481.00,131.40 C484.33,131.07 496.83,130.73 501.00,129.40 C505.17,128.07 504.50,125.07 506.00,123.40 C507.50,121.73 508.67,119.57 510.00,119.40 C511.33,119.23 512.67,122.73 514.00,122.40 C515.33,122.07 516.67,117.57 518.00,117.40 C519.33,117.23 520.50,120.23 522.00,121.40 C523.50,122.57 525.17,124.40 527.00,124.40 C528.83,124.40 531.00,120.90 533.00,121.40 C535.00,121.90 537.00,125.57 539.00,127.40 C541.00,129.23 539.12,131.32 545.00,132.40 C550.88,133.48 569.42,133.65 574.30,133.90" stroke="#b0b0b0" stroke-opacity="0.24" stroke-width="1.10"/>
<path d="M481.00,132.40 C484.67,132.07 498.50,131.23 503.00,130.40 C507.50,129.57 506.50,128.57 508.00,127.40 C509.50,126.23 510.50,123.73 512.00,123.40 C513.50,123.07 515.17,125.73 517.00,125.40 C518.83,125.07 521.00,121.40 523.00,121.40 C525.00,121.40 527.00,124.90 529.00,125.40 C531.00,125.90 533.00,123.57 535.00,124.40 C537.00,125.23 534.45,128.82 541.00,130.40 C547.55,131.98 568.75,133.32 574.30,133.90" stroke="#b0b0b0" stroke-opacity="0.21" stroke-width="1.10"/>
<path d="M481.00,133.40 C484.00,133.40 495.33,133.82 499.00,133.40 C502.67,132.98 501.67,132.23 503.00,130.90 C504.33,129.57 506.17,125.12 507.00,125.40 C507.83,125.68 507.55,133.04 508.00,132.57 C508.45,132.09 509.13,122.43 509.70,122.57 C510.27,122.71 510.68,133.65 511.40,133.40 C512.12,133.15 513.07,121.34 514.00,121.07 C514.93,120.79 515.83,129.82 517.00,131.73 C518.17,133.65 519.67,132.15 521.00,132.57 C522.33,132.98 516.12,133.96 525.00,134.23 C533.88,134.51 566.08,134.23 574.30,134.23" stroke="#1f77b4" stroke-opacity="0.55" stroke-width="1.10"/>
<path d="M481.00,134.23 C484.33,134.09 497.00,134.23 501.00,133.40 C505.00,132.57 503.92,129.51 505.00,129.23 C506.08,128.96 506.67,132.29 507.50,131.73 C508.33,131.18 509.25,126.04 510.00,125.90 C510.75,125.76 511.03,131.71 512.00,130.90 C512.97,130.09 514.72,121.48 515.80,121.07 C516.88,120.65 517.63,126.34 518.50,128.40 C519.37,130.46 511.70,132.43 521.00,133.40 C530.30,134.37 565.42,134.09 574.30,134.23" stroke="#1f77b4" stroke-opacity="0.55" stroke-width="1.10"/>
<path d="M481.00,133.40 C484.50,133.26 497.83,133.40 502.00,132.57 C506.17,131.73 504.92,129.37 506.00,128.40 C507.08,127.43 507.67,126.18 508.50,126.73 C509.33,127.29 510.25,132.01 511.00,131.73 C511.75,131.46 512.33,125.07 513.00,125.07 C513.67,125.07 514.17,131.46 515.00,131.73 C515.83,132.01 517.00,126.59 518.00,126.73 C519.00,126.87 519.67,131.32 521.00,132.57 C522.33,133.82 517.12,133.96 526.00,134.23 C534.88,134.51 566.25,134.23 574.30,134.23" stroke="#1f77b4" stroke-opacity="0.55" stroke-width="1.10"/>
<path d="M481.00,134.23 C484.67,134.09 498.50,134.09 503.00,133.40 C507.50,132.71 506.67,131.04 508.00,130.07 C509.33,129.09 510.00,127.15 511.00,127.57 C512.00,127.98 513.00,133.12 514.00,132.57 C515.00,132.01 516.08,124.65 517.00,124.23 C517.92,123.82 518.50,128.54 519.50,130.07 C520.50,131.59 513.87,132.71 523.00,133.40 C532.13,134.09 565.75,134.09 574.30,134.23" stroke="#1f77b4" stroke-opacity="0.55" stroke-width="1.10"/>
<path d="M481.00,133.40 C483.67,133.40 493.60,134.57 497.00,133.40 C500.40,132.23 500.07,126.40 501.40,126.40 C502.73,126.40 503.83,133.53 505.00,133.40 C506.17,133.27 507.40,125.60 508.40,125.60 C509.40,125.60 500.02,131.93 511.00,133.40 C521.98,134.87 563.75,134.23 574.30,134.40" stroke="#ff7f0e" stroke-opacity="0.45" stroke-width="1.10"/>
<path d="M481.00,131.40 C484.67,131.07 498.33,130.73 503.00,129.40 C507.67,128.07 507.17,125.32 509.00,123.40 C510.83,121.48 512.50,119.32 514.00,117.90 C515.50,116.48 516.67,114.57 518.00,114.90 C519.33,115.23 520.50,118.82 522.00,119.90 C523.50,120.98 525.33,121.82 527.00,121.40 C528.67,120.98 530.33,117.07 532.00,117.40 C533.67,117.73 535.17,121.23 537.00,123.40 C538.83,125.57 536.78,128.73 543.00,130.40 C549.22,132.07 569.08,132.90 574.30,133.40" stroke="#b0b0b0" stroke-opacity="0.24" stroke-width="1.10"/>
<path d="M481.00,132.40 C485.00,132.07 500.00,131.57 505.00,130.40 C510.00,129.23 509.17,126.90 511.00,125.40 C512.83,123.90 514.33,121.98 516.00,121.40 C517.67,120.82 519.33,121.57 521.00,121.90 C522.67,122.23 524.33,123.65 526.00,123.40 C527.67,123.15 529.33,120.07 531.00,120.40 C532.67,120.73 534.00,123.57 536.00,125.40 C538.00,127.23 536.62,130.07 543.00,131.40 C549.38,132.73 569.08,133.07 574.30,133.40" stroke="#b0b0b0" stroke-opacity="0.24" stroke-width="1.10"/>
<path d="M481.00,134.40 C488.58,134.40 518.50,135.07 526.50,134.40 C534.50,133.73 528.25,131.73 529.00,130.40 C529.75,129.07 530.33,126.57 531.00,126.40 C531.67,126.23 532.17,129.40 533.00,129.40 C533.83,129.40 534.67,127.55 536.00,126.40 C537.33,125.25 538.78,123.48 541.00,122.50 C543.22,121.52 545.97,120.38 549.30,120.50 C552.63,120.62 556.83,122.42 561.00,123.25 C565.17,124.08 572.08,125.12 574.30,125.50" stroke="#1f77b4" stroke-opacity="0.55" stroke-width="1.10"/>
<path d="M481.00,134.40 C488.67,134.40 519.00,134.90 527.00,134.40 C535.00,133.90 528.33,132.57 529.00,131.40 C529.67,130.23 530.33,127.57 531.00,127.40 C531.67,127.23 532.17,130.40 533.00,130.40 C533.83,130.40 534.67,128.43 536.00,127.40 C537.33,126.37 538.78,125.07 541.00,124.20 C543.22,123.33 545.97,122.08 549.30,122.20 C552.63,122.33 556.83,124.12 561.00,124.95 C565.17,125.78 572.08,126.83 574.30,127.20" stroke="#1f77b4" stroke-opacity="0.55" stroke-width="1.10"/>
<path d="M481.00,134.40 C488.75,134.40 519.50,134.73 527.50,134.40 C535.50,134.07 528.42,133.40 529.00,132.40 C529.58,131.40 530.33,128.57 531.00,128.40 C531.67,128.23 532.17,131.40 533.00,131.40 C533.83,131.40 534.67,129.18 536.00,128.40 C537.33,127.62 538.78,127.32 541.00,126.70 C543.22,126.08 545.97,124.65 549.30,124.70 C552.63,124.75 556.83,126.31 561.00,127.01 C565.17,127.71 572.08,128.59 574.30,128.90" stroke="#1f77b4" stroke-opacity="0.55" stroke-width="1.10"/>
<path d="M481.00,134.40 C488.83,134.40 520.00,134.57 528.00,134.40 C536.00,134.23 528.50,134.23 529.00,133.40 C529.50,132.57 530.33,129.57 531.00,129.40 C531.67,129.23 532.17,132.40 533.00,132.40 C533.83,132.40 534.67,129.93 536.00,129.40 C537.33,128.87 538.78,129.57 541.00,129.20 C543.22,128.83 545.97,127.22 549.30,127.20 C552.63,127.18 556.83,128.50 561.00,129.07 C565.17,129.64 572.08,130.35 574.30,130.60" stroke="#1f77b4" stroke-opacity="0.55" stroke-width="1.10"/>
<path d="M481.00,134.40 C489.33,134.40 521.67,134.48 531.00,134.40 C540.33,134.32 534.83,134.48 537.00,133.90 C539.17,133.32 541.22,131.73 544.00,130.90 C546.78,130.07 550.20,129.08 553.70,128.90 C557.20,128.72 561.57,129.52 565.00,129.80 C568.43,130.08 572.75,130.47 574.30,130.60" stroke="#ff7f0e" stroke-opacity="0.56" stroke-width="1.30"/>
<path d="M481.00,134.40 C489.33,134.40 521.67,134.48 531.00,134.40 C540.33,134.32 534.83,134.07 537.00,133.90 C539.17,133.73 541.22,133.82 544.00,133.40 C546.78,132.98 550.20,131.58 553.70,131.40 C557.20,131.22 561.57,132.22 565.00,132.30 C568.43,132.38 572.75,131.97 574.30,131.90" stroke="#ff7f0e" stroke-opacity="0.35" stroke-width="1.30"/>
<path d="M481.00,134.40 C489.33,134.40 521.67,134.32 531.00,134.40 C540.33,134.48 533.67,135.15 537.00,134.90 C540.33,134.65 544.78,133.23 551.00,132.90 C557.22,132.57 570.42,132.90 574.30,132.90" stroke="#1f77b4" stroke-opacity="0.35" stroke-width="1.10"/>
</g>
<g clip-path="url(#cp20)" fill="none" stroke-linejoin="round" stroke-linecap="butt">
<path d="M73.50,201.80 C76.62,201.80 88.95,208.88 92.20,201.80 C95.45,194.72 92.73,166.11 93.00,159.30 C93.27,152.49 93.47,160.40 93.80,160.92 C94.13,161.43 94.57,162.49 95.00,162.40 C95.43,162.31 95.92,160.53 96.40,160.40 C96.88,160.27 97.40,161.47 97.90,161.60 C98.40,161.73 95.60,161.27 99.40,161.20 C103.20,161.13 117.03,161.37 120.70,161.20 C124.37,161.03 120.73,152.85 121.40,160.20 C122.07,167.55 123.70,198.57 124.70,205.30 C125.70,212.03 126.67,201.05 127.40,200.60 C128.13,200.15 128.48,202.40 129.10,202.60 C129.72,202.80 124.82,201.93 131.10,201.80 C137.38,201.67 160.85,201.80 166.80,201.80" stroke="#b0b0b0" stroke-opacity="0.28" stroke-width="1.10"/>
<path d="M73.50,201.80 C76.62,201.80 88.95,208.30 92.20,201.80 C95.45,195.30 92.73,169.05 93.00,162.80 C93.27,156.56 93.47,163.83 93.80,164.33 C94.13,164.83 94.57,165.89 95.00,165.80 C95.43,165.71 95.92,163.93 96.40,163.80 C96.88,163.67 97.40,164.87 97.90,165.00 C98.40,165.13 95.60,164.67 99.40,164.60 C103.20,164.53 117.03,164.77 120.70,164.60 C124.37,164.43 120.73,156.82 121.40,163.60 C122.07,170.38 123.70,199.13 124.70,205.30 C125.70,211.47 126.67,201.05 127.40,200.60 C128.13,200.15 128.48,202.40 129.10,202.60 C129.72,202.80 124.82,201.93 131.10,201.80 C137.38,201.67 160.85,201.80 166.80,201.80" stroke="#b0b0b0" stroke-opacity="0.28" stroke-width="1.10"/>
<path d="M73.50,201.80 C76.62,201.80 88.95,207.72 92.20,201.80 C95.45,195.88 92.73,171.83 93.00,166.30 C93.27,160.77 93.47,167.94 93.80,168.59 C94.13,169.25 94.57,170.27 95.00,170.20 C95.43,170.13 95.92,168.33 96.40,168.20 C96.88,168.07 97.40,169.27 97.90,169.40 C98.40,169.53 95.60,169.07 99.40,169.00 C103.20,168.93 117.03,169.17 120.70,169.00 C124.37,168.83 120.73,161.95 121.40,168.00 C122.07,174.05 123.70,199.87 124.70,205.30 C125.70,210.73 126.67,201.05 127.40,200.60 C128.13,200.15 128.48,202.40 129.10,202.60 C129.72,202.80 124.82,201.93 131.10,201.80 C137.38,201.67 160.85,201.80 166.80,201.80" stroke="#b0b0b0" stroke-opacity="0.28" stroke-width="1.10"/>
<path d="M73.50,201.80 C76.62,201.80 88.95,207.13 92.20,201.80 C95.45,196.47 92.73,174.75 93.00,169.80 C93.27,164.85 93.47,171.44 93.80,172.09 C94.13,172.75 94.57,173.77 95.00,173.70 C95.43,173.63 95.92,171.83 96.40,171.70 C96.88,171.57 97.40,172.77 97.90,172.90 C98.40,173.03 95.60,172.57 99.40,172.50 C103.20,172.43 117.03,172.67 120.70,172.50 C124.37,172.33 120.73,166.03 121.40,171.50 C122.07,176.97 123.70,200.45 124.70,205.30 C125.70,210.15 126.67,201.05 127.40,200.60 C128.13,200.15 128.48,202.40 129.10,202.60 C129.72,202.80 124.82,201.93 131.10,201.80 C137.38,201.67 160.85,201.80 166.80,201.80" stroke="#b0b0b0" stroke-opacity="0.28" stroke-width="1.10"/>
<path d="M73.50,201.80 C76.62,201.80 88.95,206.72 92.20,201.80 C95.45,196.88 92.73,176.82 93.00,172.30 C93.27,167.78 93.47,174.01 93.80,174.68 C94.13,175.35 94.57,176.36 95.00,176.30 C95.43,176.24 95.92,174.43 96.40,174.30 C96.88,174.17 97.40,175.37 97.90,175.50 C98.40,175.63 95.60,175.17 99.40,175.10 C103.20,175.03 117.03,175.27 120.70,175.10 C124.37,174.93 120.73,169.07 121.40,174.10 C122.07,179.13 123.70,200.88 124.70,205.30 C125.70,209.72 126.67,201.05 127.40,200.60 C128.13,200.15 128.48,202.40 129.10,202.60 C129.72,202.80 124.82,201.93 131.10,201.80 C137.38,201.67 160.85,201.80 166.80,201.80" stroke="#b0b0b0" stroke-opacity="0.28" stroke-width="1.10"/>
<path d="M73.50,201.80 C76.62,201.80 88.95,205.63 92.20,201.80 C95.45,197.97 92.73,182.18 93.00,178.80 C93.27,175.42 93.47,180.79 93.80,181.52 C94.13,182.25 94.57,183.25 95.00,183.20 C95.43,183.15 95.92,181.33 96.40,181.20 C96.88,181.07 97.40,182.27 97.90,182.40 C98.40,182.53 95.60,182.07 99.40,182.00 C103.20,181.93 117.03,182.17 120.70,182.00 C124.37,181.83 120.73,177.12 121.40,181.00 C122.07,184.88 123.70,202.03 124.70,205.30 C125.70,208.57 126.67,201.05 127.40,200.60 C128.13,200.15 128.48,202.40 129.10,202.60 C129.72,202.80 124.82,201.93 131.10,201.80 C137.38,201.67 160.85,201.80 166.80,201.80" stroke="#b0b0b0" stroke-opacity="0.28" stroke-width="1.10"/>
<path d="M73.50,201.80 C76.62,201.80 88.95,204.80 92.20,201.80 C95.45,198.80 92.73,186.38 93.00,183.80 C93.27,181.23 93.47,185.65 93.80,186.35 C94.13,187.05 94.57,188.06 95.00,188.00 C95.43,187.94 95.92,186.13 96.40,186.00 C96.88,185.87 97.40,187.07 97.90,187.20 C98.40,187.33 95.60,186.87 99.40,186.80 C103.20,186.73 117.03,186.97 120.70,186.80 C124.37,186.63 120.73,182.72 121.40,185.80 C122.07,188.88 123.70,202.83 124.70,205.30 C125.70,207.77 126.67,201.05 127.40,200.60 C128.13,200.15 128.48,202.40 129.10,202.60 C129.72,202.80 124.82,201.93 131.10,201.80 C137.38,201.67 160.85,201.80 166.80,201.80" stroke="#b0b0b0" stroke-opacity="0.28" stroke-width="1.10"/>
<path d="M73.50,185.80 C74.05,187.55 75.88,195.12 76.80,196.30 C77.72,197.48 78.30,193.37 79.00,192.90 C79.70,192.43 80.33,193.43 81.00,193.50 C81.67,193.57 81.18,193.33 83.00,193.30 C84.82,193.27 90.28,194.22 91.90,193.30 C93.52,192.38 92.43,188.18 92.70,187.80 C92.97,187.42 93.17,190.20 93.50,191.03 C93.83,191.86 94.27,192.84 94.70,192.80 C95.13,192.76 95.62,190.93 96.10,190.80 C96.58,190.67 97.10,191.87 97.60,192.00 C98.10,192.13 95.25,191.67 99.10,191.60 C102.95,191.53 116.98,192.07 120.70,191.60 C124.42,191.13 120.73,187.93 121.40,188.80 C122.07,189.67 123.70,196.25 124.70,196.80 C125.70,197.35 126.67,192.55 127.40,192.10 C128.13,191.65 128.48,193.90 129.10,194.10 C129.72,194.30 124.82,193.43 131.10,193.30 C137.38,193.17 160.85,193.30 166.80,193.30" stroke="#1f77b4" stroke-opacity="0.47" stroke-width="1.30"/>
<path d="M73.50,200.80 C76.57,200.80 88.70,202.63 91.90,200.80 C95.10,198.97 92.43,190.97 92.70,189.80 C92.97,188.63 93.17,192.81 93.50,193.80 C93.83,194.78 94.27,195.72 94.70,195.70 C95.13,195.68 95.62,193.83 96.10,193.70 C96.58,193.57 97.10,194.77 97.60,194.90 C98.10,195.03 95.25,194.57 99.10,194.50 C102.95,194.43 116.98,195.12 120.70,194.50 C124.42,193.88 120.73,189.17 121.40,190.80 C122.07,192.43 123.70,202.83 124.70,204.30 C125.70,205.77 126.67,200.05 127.40,199.60 C128.13,199.15 128.48,201.40 129.10,201.60 C129.72,201.80 124.82,200.93 131.10,200.80 C137.38,200.67 160.85,200.80 166.80,200.80" stroke="#b0b0b0" stroke-opacity="0.35" stroke-width="1.10"/>
<path d="M73.50,200.80 C76.57,200.80 88.70,202.13 91.90,200.80 C95.10,199.47 92.43,193.57 92.70,192.80 C92.97,192.03 93.17,195.33 93.50,196.20 C93.83,197.07 94.27,198.03 94.70,198.00 C95.13,197.97 95.62,196.13 96.10,196.00 C96.58,195.87 97.10,197.07 97.60,197.20 C98.10,197.33 95.25,196.87 99.10,196.80 C102.95,196.73 116.98,197.30 120.70,196.80 C124.42,196.30 120.73,192.55 121.40,193.80 C122.07,195.05 123.70,203.33 124.70,204.30 C125.70,205.27 126.67,200.05 127.40,199.60 C128.13,199.15 128.48,201.40 129.10,201.60 C129.72,201.80 124.82,200.93 131.10,200.80 C137.38,200.67 160.85,200.80 166.80,200.80" stroke="#1f77b4" stroke-opacity="0.47" stroke-width="1.20"/>
<path d="M73.50,203.40 C76.57,203.40 88.70,207.25 91.90,203.40 C95.10,199.55 92.43,181.19 92.70,180.30 C92.97,179.41 93.17,194.38 93.50,198.06 C93.83,201.75 94.27,202.01 94.70,202.40 C95.13,202.79 95.62,200.53 96.10,200.40 C96.58,200.27 97.10,201.47 97.60,201.60 C98.10,201.73 95.25,201.27 99.10,201.20 C102.95,201.13 116.98,202.10 120.70,201.20 C124.42,200.30 120.73,194.95 121.40,195.80 C122.07,196.65 123.70,205.23 124.70,206.30 C125.70,207.37 126.67,202.55 127.40,202.20 C128.13,201.85 128.48,204.00 129.10,204.20 C129.72,204.40 124.82,203.53 131.10,203.40 C137.38,203.27 160.85,203.40 166.80,203.40" stroke="#ff7f0e" stroke-opacity="0.49" stroke-width="1.30"/>
<path d="M73.50,203.40 C76.57,203.40 88.70,204.33 91.90,203.40 C95.10,202.47 92.43,198.31 92.70,197.80 C92.97,197.29 93.17,199.65 93.50,200.35 C93.83,201.05 94.27,202.06 94.70,202.00 C95.13,201.94 95.62,200.13 96.10,200.00 C96.58,199.87 97.10,201.07 97.60,201.20 C98.10,201.33 95.25,200.87 99.10,200.80 C102.95,200.73 116.98,201.30 120.70,200.80 C124.42,200.30 120.73,196.88 121.40,197.80 C122.07,198.72 123.70,205.57 124.70,206.30 C125.70,207.03 126.67,202.55 127.40,202.20 C128.13,201.85 128.48,204.00 129.10,204.20 C129.72,204.40 124.82,203.53 131.10,203.40 C137.38,203.27 160.85,203.40 166.80,203.40" stroke="#ff7f0e" stroke-opacity="0.42" stroke-width="1.20"/>
<path d="M73.50,200.80 C76.57,200.80 88.70,201.30 91.90,200.80 C95.10,200.30 92.43,197.62 92.70,197.80 C92.97,197.98 93.17,200.88 93.50,201.88 C93.83,202.88 94.27,203.81 94.70,203.80 C95.13,203.79 95.62,201.93 96.10,201.80 C96.58,201.67 97.10,202.87 97.60,203.00 C98.10,203.13 95.25,202.67 99.10,202.60 C102.95,202.53 116.98,203.07 120.70,202.60 C124.42,202.13 120.73,199.52 121.40,199.80 C122.07,200.08 123.70,204.33 124.70,204.30 C125.70,204.27 126.67,200.05 127.40,199.60 C128.13,199.15 128.48,201.40 129.10,201.60 C129.72,201.80 124.82,200.93 131.10,200.80 C137.38,200.67 160.85,200.80 166.80,200.80" stroke="#1f77b4" stroke-opacity="0.66" stroke-width="1.50"/>
<path d="M73.50,200.80 C74.05,201.90 75.88,206.87 76.80,207.40 C77.72,207.93 78.30,204.47 79.00,204.00 C79.70,203.53 80.33,204.53 81.00,204.60 C81.67,204.67 81.18,204.43 83.00,204.40 C84.82,204.37 90.28,204.83 91.90,204.40 C93.52,203.97 92.43,201.95 92.70,201.80 C92.97,201.65 93.17,202.97 93.50,203.50 C93.83,204.03 94.27,205.08 94.70,205.00 C95.13,204.92 95.62,203.13 96.10,203.00 C96.58,202.87 97.10,204.07 97.60,204.20 C98.10,204.33 95.25,203.87 99.10,203.80 C102.95,203.73 116.98,203.97 120.70,203.80 C124.42,203.63 120.73,202.38 121.40,202.80 C122.07,203.22 123.70,206.23 124.70,206.30 C125.70,206.37 126.67,203.38 127.40,203.20 C128.13,203.02 128.48,205.00 129.10,205.20 C129.72,205.40 124.82,204.53 131.10,204.40 C137.38,204.27 160.85,204.40 166.80,204.40" stroke="#ff7f0e" stroke-opacity="0.49" stroke-width="1.20"/>
<path d="M73.50,205.30 C76.57,205.30 88.70,205.88 91.90,205.30 C95.10,204.72 92.43,201.96 92.70,201.80 C92.97,201.64 93.17,203.65 93.50,204.35 C93.83,205.05 94.27,206.06 94.70,206.00 C95.13,205.94 95.62,204.13 96.10,204.00 C96.58,203.87 97.10,205.07 97.60,205.20 C98.10,205.33 95.25,204.87 99.10,204.80 C102.95,204.73 116.98,205.13 120.70,204.80 C124.42,204.47 120.73,202.55 121.40,202.80 C122.07,203.05 123.70,206.08 124.70,206.30 C125.70,206.52 126.67,204.13 127.40,204.10 C128.13,204.07 128.48,205.90 129.10,206.10 C129.72,206.30 124.82,205.43 131.10,205.30 C137.38,205.17 160.85,205.30 166.80,205.30" stroke="#1f77b4" stroke-opacity="0.39" stroke-width="1.10"/>
</g>
<g clip-path="url(#cp21)" fill="none" stroke-linejoin="round" stroke-linecap="butt">
<path d="M209.20,204.60 C212.22,204.60 224.03,211.07 227.30,204.60 C230.57,198.13 228.05,172.37 228.80,165.80 C229.55,159.23 231.05,165.48 231.80,165.20 C232.55,164.92 232.77,164.20 233.30,164.10 C233.83,164.00 231.22,164.52 235.00,164.60 C238.78,164.68 252.27,164.77 256.00,164.60 C259.73,164.43 256.58,156.82 257.40,163.60 C258.22,170.38 259.42,198.47 260.90,205.30 C262.38,212.13 259.37,204.72 266.30,204.60 C273.23,204.48 296.47,204.60 302.50,204.60" stroke="#b0b0b0" stroke-opacity="0.32" stroke-width="1.10"/>
<path d="M209.20,204.60 C212.22,204.60 224.03,209.52 227.30,204.60 C230.57,199.68 228.05,178.77 228.80,175.10 C229.55,171.43 231.05,181.53 231.80,182.60 C232.55,183.67 232.77,181.60 233.30,181.50 C233.83,181.40 231.22,181.92 235.00,182.00 C238.78,182.08 252.27,182.17 256.00,182.00 C259.73,181.83 256.58,177.12 257.40,181.00 C258.22,184.88 259.42,201.37 260.90,205.30 C262.38,209.23 259.37,204.72 266.30,204.60 C273.23,204.48 296.47,204.60 302.50,204.60" stroke="#b0b0b0" stroke-opacity="0.32" stroke-width="1.10"/>
<path d="M209.20,204.60 C212.22,204.60 224.03,209.07 227.30,204.60 C230.57,200.13 228.05,180.73 228.80,177.80 C229.55,174.87 231.05,185.65 231.80,187.00 C232.55,188.35 232.77,186.00 233.30,185.90 C233.83,185.80 231.22,186.32 235.00,186.40 C238.78,186.48 252.27,186.57 256.00,186.40 C259.73,186.23 256.58,182.25 257.40,185.40 C258.22,188.55 259.42,202.10 260.90,205.30 C262.38,208.50 259.37,204.72 266.30,204.60 C273.23,204.48 296.47,204.60 302.50,204.60" stroke="#b0b0b0" stroke-opacity="0.32" stroke-width="1.10"/>
<path d="M209.20,204.60 C212.22,204.60 224.03,208.73 227.30,204.60 C230.57,200.47 228.05,182.30 228.80,179.80 C229.55,177.30 231.05,188.15 231.80,189.60 C232.55,191.05 232.77,188.60 233.30,188.50 C233.83,188.40 231.22,188.92 235.00,189.00 C238.78,189.08 252.27,189.17 256.00,189.00 C259.73,188.83 256.58,185.28 257.40,188.00 C258.22,190.72 259.42,202.53 260.90,205.30 C262.38,208.07 259.37,204.72 266.30,204.60 C273.23,204.48 296.47,204.60 302.50,204.60" stroke="#b0b0b0" stroke-opacity="0.32" stroke-width="1.10"/>
<path d="M209.20,204.60 C212.22,204.60 224.03,208.23 227.30,204.60 C230.57,200.97 228.05,184.87 228.80,182.80 C229.55,180.73 231.05,190.82 231.80,192.20 C232.55,193.58 232.77,191.20 233.30,191.10 C233.83,191.00 231.22,191.52 235.00,191.60 C238.78,191.68 252.27,191.77 256.00,191.60 C259.73,191.43 256.58,188.32 257.40,190.60 C258.22,192.88 259.42,202.97 260.90,205.30 C262.38,207.63 259.37,204.72 266.30,204.60 C273.23,204.48 296.47,204.60 302.50,204.60" stroke="#b0b0b0" stroke-opacity="0.32" stroke-width="1.10"/>
<path d="M209.20,204.60 C212.22,204.60 224.03,207.73 227.30,204.60 C230.57,201.47 228.05,187.48 228.80,185.80 C229.55,184.12 231.05,193.23 231.80,194.50 C232.55,195.77 232.77,193.50 233.30,193.40 C233.83,193.30 231.22,193.82 235.00,193.90 C238.78,193.98 252.27,194.07 256.00,193.90 C259.73,193.73 256.58,191.00 257.40,192.90 C258.22,194.80 259.42,203.35 260.90,205.30 C262.38,207.25 259.37,204.72 266.30,204.60 C273.23,204.48 296.47,204.60 302.50,204.60" stroke="#b0b0b0" stroke-opacity="0.32" stroke-width="1.10"/>
<path d="M209.20,204.60 C212.22,204.60 224.03,207.40 227.30,204.60 C230.57,201.80 228.05,189.00 228.80,187.80 C229.55,186.60 231.05,195.98 231.80,197.40 C232.55,198.82 232.77,196.40 233.30,196.30 C233.83,196.20 231.22,196.72 235.00,196.80 C238.78,196.88 252.27,196.97 256.00,196.80 C259.73,196.63 256.58,194.38 257.40,195.80 C258.22,197.22 259.42,203.83 260.90,205.30 C262.38,206.77 259.37,204.72 266.30,204.60 C273.23,204.48 296.47,204.60 302.50,204.60" stroke="#b0b0b0" stroke-opacity="0.32" stroke-width="1.10"/>
<path d="M209.20,204.60 C212.22,204.60 224.03,208.22 227.30,204.60 C230.57,200.98 228.05,183.72 228.80,182.90 C229.55,182.08 231.05,197.08 231.80,199.70 C232.55,202.32 232.77,198.70 233.30,198.60 C233.83,198.50 231.08,199.02 235.00,199.10 C238.92,199.18 252.93,201.22 256.80,199.10 C260.67,196.98 256.63,185.35 258.20,186.40 C259.77,187.45 263.97,202.33 266.20,205.40 C268.43,208.47 265.55,204.90 271.60,204.80 C277.65,204.70 297.35,204.80 302.50,204.80" stroke="#1f77b4" stroke-opacity="0.39" stroke-width="1.10"/>
<path d="M209.20,204.60 C212.27,204.60 224.28,207.55 227.60,204.60 C230.92,201.65 228.35,187.37 229.10,186.90 C229.85,186.43 231.35,199.50 232.10,201.80 C232.85,204.10 233.07,200.80 233.60,200.70 C234.13,200.60 231.43,201.12 235.30,201.20 C239.17,201.28 252.98,203.17 256.80,201.20 C260.62,199.23 256.88,188.70 258.20,189.40 C259.52,190.10 262.72,202.83 264.70,205.40 C266.68,207.97 263.80,204.90 270.10,204.80 C276.40,204.70 297.10,204.80 302.50,204.80" stroke="#1f77b4" stroke-opacity="0.39" stroke-width="1.10"/>
<path d="M209.20,204.60 C212.32,204.60 224.53,206.88 227.90,204.60 C231.27,202.32 228.65,190.93 229.40,190.90 C230.15,190.87 231.65,202.33 232.40,204.40 C233.15,206.47 233.37,203.40 233.90,203.30 C234.43,203.20 231.78,203.72 235.60,203.80 C239.42,203.88 253.03,205.70 256.80,203.80 C260.57,201.90 257.13,192.13 258.20,192.40 C259.27,192.67 261.47,203.33 263.20,205.40 C264.93,207.47 262.05,204.90 268.60,204.80 C275.15,204.70 296.85,204.80 302.50,204.80" stroke="#1f77b4" stroke-opacity="0.39" stroke-width="1.10"/>
<path d="M209.20,205.30 C209.53,204.72 210.62,203.05 211.20,201.80 C211.78,200.55 212.20,197.80 212.70,197.80 C213.20,197.80 213.62,200.63 214.20,201.80 C214.78,202.97 201.48,204.30 216.20,204.80 C230.92,205.30 288.12,204.80 302.50,204.80" stroke="#1f77b4" stroke-opacity="0.47" stroke-width="1.10"/>
<path d="M209.20,204.80 C209.35,202.30 209.78,194.32 210.10,189.80 C210.42,185.28 210.75,177.53 211.10,177.70 C211.45,177.87 211.82,186.95 212.20,190.80 C212.58,194.65 212.98,198.97 213.40,200.80 C213.82,202.63 214.23,202.05 214.70,201.80 C215.17,201.55 215.62,199.50 216.20,199.30 C216.78,199.10 217.53,200.55 218.20,200.60 C218.87,200.65 219.45,199.67 220.20,199.60 C220.95,199.53 221.62,200.23 222.70,200.20 C223.78,200.17 225.85,199.13 226.70,199.40 C227.55,199.67 227.38,200.98 227.80,201.80 C228.22,202.62 224.22,203.88 229.20,204.30 C234.18,204.72 252.78,205.38 257.70,204.30 C262.62,203.22 258.28,199.22 258.70,197.80 C259.12,196.38 259.73,194.55 260.20,195.80 C260.67,197.05 261.05,204.30 261.50,205.30 C261.95,206.30 262.45,203.42 262.90,201.80 C263.35,200.18 263.73,195.85 264.20,195.60 C264.67,195.35 265.20,199.85 265.70,200.30 C266.20,200.75 266.62,198.45 267.20,198.30 C267.78,198.15 263.32,199.22 269.20,199.40 C275.08,199.58 296.95,199.40 302.50,199.40" stroke="#ff7f0e" stroke-opacity="0.56" stroke-width="1.30"/>
</g>
<g clip-path="url(#cp22)" fill="none" stroke-linejoin="round" stroke-linecap="butt">
<path d="M345.00,184.80 L345.40,204.80 L346.00,197.80 L347.90,172.50 L349.60,193.80 L351.80,194.80 L355.00,198.80 L360.50,205.30 L438.30,205.30" stroke="#ff7f0e" stroke-opacity="0.49" stroke-width="1.10"/>
<path d="M345.00,204.80 L348.20,204.80 L350.60,175.90 L352.80,196.80 L354.10,201.30 L355.30,199.60 L357.00,203.30 L359.50,201.30 L361.00,205.40 L438.30,205.40" stroke="#1f77b4" stroke-opacity="0.58" stroke-width="1.10"/>
<path d="M345.00,204.80 L347.50,193.80 L349.00,176.80 L350.80,191.80 L352.20,174.80 L354.00,197.80 L357.00,203.80 L438.30,204.80" stroke="#b0b0b0" stroke-opacity="0.24" stroke-width="1.10"/>
<path d="M345.00,204.80 L346.60,185.80 L348.50,199.80 L350.00,187.80 L352.00,201.80 L354.00,204.80 L438.30,204.80" stroke="#b0b0b0" stroke-opacity="0.21" stroke-width="1.10"/>
<path d="M345.00,205.30 C348.25,205.30 360.67,212.80 364.50,205.30 C368.33,197.80 366.92,166.47 368.00,160.30 C369.08,154.13 370.00,168.30 371.00,168.30 C372.00,168.30 372.83,160.42 374.00,160.30 C375.17,160.18 376.67,165.72 378.00,167.60 C379.33,169.48 380.50,171.90 382.00,171.60 C383.50,171.30 385.00,167.10 387.00,165.80 C389.00,164.50 392.58,157.47 394.00,163.80 C395.42,170.13 388.12,196.88 395.50,203.80 C402.88,210.72 431.17,205.05 438.30,205.30" stroke="#b0b0b0" stroke-opacity="0.32" stroke-width="1.10"/>
<path d="M345.00,205.30 C348.25,205.30 360.67,212.22 364.50,205.30 C368.33,198.38 366.92,169.38 368.00,163.80 C369.08,158.22 370.00,171.97 371.00,171.80 C372.00,171.63 372.83,162.80 374.00,162.80 C375.17,162.80 376.67,169.63 378.00,171.80 C379.33,173.97 380.50,175.47 382.00,175.80 C383.50,176.13 385.00,174.47 387.00,173.80 C389.00,173.13 392.58,166.80 394.00,171.80 C395.42,176.80 388.12,198.22 395.50,203.80 C402.88,209.38 431.17,205.05 438.30,205.30" stroke="#b0b0b0" stroke-opacity="0.32" stroke-width="1.10"/>
<path d="M345.00,205.30 C348.25,205.30 360.67,211.72 364.50,205.30 C368.33,198.88 366.92,171.88 368.00,166.80 C369.08,161.72 370.00,174.80 371.00,174.80 C372.00,174.80 372.83,166.97 374.00,166.80 C375.17,166.63 376.67,171.97 378.00,173.80 C379.33,175.63 380.50,177.30 382.00,177.80 C383.50,178.30 385.00,177.30 387.00,176.80 C389.00,176.30 392.58,170.30 394.00,174.80 C395.42,179.30 388.12,198.72 395.50,203.80 C402.88,208.88 431.17,205.05 438.30,205.30" stroke="#b0b0b0" stroke-opacity="0.32" stroke-width="1.10"/>
<path d="M345.00,205.30 C348.25,205.30 360.67,211.22 364.50,205.30 C368.33,199.38 366.92,174.38 368.00,169.80 C369.08,165.22 370.00,177.80 371.00,177.80 C372.00,177.80 372.83,170.13 374.00,169.80 C375.17,169.47 376.67,174.13 378.00,175.80 C379.33,177.47 380.50,179.13 382.00,179.80 C383.50,180.47 385.00,180.13 387.00,179.80 C389.00,179.47 392.58,173.80 394.00,177.80 C395.42,181.80 388.12,199.22 395.50,203.80 C402.88,208.38 431.17,205.05 438.30,205.30" stroke="#b0b0b0" stroke-opacity="0.32" stroke-width="1.10"/>
<path d="M345.00,205.30 C348.25,205.30 360.67,210.55 364.50,205.30 C368.33,200.05 366.92,177.72 368.00,173.80 C369.08,169.88 370.00,181.47 371.00,181.80 C372.00,182.13 372.83,176.13 374.00,175.80 C375.17,175.47 376.67,178.47 378.00,179.80 C379.33,181.13 380.50,183.13 382.00,183.80 C383.50,184.47 385.00,184.13 387.00,183.80 C389.00,183.47 392.58,178.47 394.00,181.80 C395.42,185.13 388.12,199.88 395.50,203.80 C402.88,207.72 431.17,205.05 438.30,205.30" stroke="#b0b0b0" stroke-opacity="0.32" stroke-width="1.10"/>
<path d="M345.00,205.30 C348.25,205.30 360.67,210.05 364.50,205.30 C368.33,200.55 366.92,180.22 368.00,176.80 C369.08,173.38 370.00,184.47 371.00,184.80 C372.00,185.13 372.83,179.30 374.00,178.80 C375.17,178.30 376.67,180.63 378.00,181.80 C379.33,182.97 380.50,184.97 382.00,185.80 C383.50,186.63 385.00,186.97 387.00,186.80 C389.00,186.63 392.58,181.97 394.00,184.80 C395.42,187.63 388.12,200.38 395.50,203.80 C402.88,207.22 431.17,205.05 438.30,205.30" stroke="#b0b0b0" stroke-opacity="0.32" stroke-width="1.10"/>
<path d="M345.00,205.30 C348.25,205.30 360.67,209.55 364.50,205.30 C368.33,201.05 366.92,182.72 368.00,179.80 C369.08,176.88 370.00,187.47 371.00,187.80 C372.00,188.13 372.83,182.47 374.00,181.80 C375.17,181.13 376.67,182.80 378.00,183.80 C379.33,184.80 380.50,186.80 382.00,187.80 C383.50,188.80 385.00,189.80 387.00,189.80 C389.00,189.80 392.58,185.47 394.00,187.80 C395.42,190.13 388.12,200.88 395.50,203.80 C402.88,206.72 431.17,205.05 438.30,205.30" stroke="#b0b0b0" stroke-opacity="0.32" stroke-width="1.10"/>
<path d="M345.00,205.30 C348.25,205.30 360.67,208.55 364.50,205.30 C368.33,202.05 366.92,187.72 368.00,185.80 C369.08,183.88 370.00,193.47 371.00,193.80 C372.00,194.13 372.83,188.47 374.00,187.80 C375.17,187.13 376.67,188.80 378.00,189.80 C379.33,190.80 380.50,192.97 382.00,193.80 C383.50,194.63 385.00,194.97 387.00,194.80 C389.00,194.63 392.58,191.30 394.00,192.80 C395.42,194.30 388.12,201.72 395.50,203.80 C402.88,205.88 431.17,205.05 438.30,205.30" stroke="#b0b0b0" stroke-opacity="0.32" stroke-width="1.10"/>
<path d="M345.00,205.30 C348.25,205.30 360.67,207.88 364.50,205.30 C368.33,202.72 366.92,191.05 368.00,189.80 C369.08,188.55 370.00,197.47 371.00,197.80 C372.00,198.13 372.83,192.80 374.00,191.80 C375.17,190.80 376.67,191.13 378.00,191.80 C379.33,192.47 380.50,194.80 382.00,195.80 C383.50,196.80 385.00,197.80 387.00,197.80 C389.00,197.80 392.58,194.80 394.00,195.80 C395.42,196.80 388.12,202.22 395.50,203.80 C402.88,205.38 431.17,205.05 438.30,205.30" stroke="#b0b0b0" stroke-opacity="0.32" stroke-width="1.10"/>
<path d="M345.00,187.80 C345.20,189.47 345.78,194.97 346.20,197.80 C346.62,200.63 332.15,203.55 347.50,204.80 C362.85,206.05 423.17,205.22 438.30,205.30" stroke="#ff7f0e" stroke-opacity="0.42" stroke-width="1.10"/>
<path d="M345.00,204.80 C345.58,203.63 347.33,201.97 348.50,197.80 C349.67,193.63 351.00,179.47 352.00,179.80 C353.00,180.13 353.67,195.80 354.50,199.80 C355.33,203.80 356.25,202.88 357.00,203.80 C357.75,204.72 345.45,205.05 359.00,205.30 C372.55,205.55 425.08,205.30 438.30,205.30" stroke="#b0b0b0" stroke-opacity="0.28" stroke-width="1.10"/>
<path d="M345.00,205.30 C346.33,205.22 351.33,205.38 353.00,204.80 C354.67,204.22 354.33,201.88 355.00,201.80 C355.67,201.72 356.33,204.05 357.00,204.30 C357.67,204.55 358.33,203.13 359.00,203.30 C359.67,203.47 347.78,204.97 361.00,205.30 C374.22,205.63 425.42,205.30 438.30,205.30" stroke="#1f77b4" stroke-opacity="0.39" stroke-width="1.10"/>
<path d="M345.00,205.30 L362.20,205.30 L365.50,163.80 L368.50,199.80 L370.00,205.30 L438.30,205.30" stroke="#b0b0b0" stroke-opacity="0.35" stroke-width="1.10"/>
<path d="M345.00,205.40 C348.58,205.40 362.42,208.92 366.50,205.40 C370.58,201.88 368.58,191.23 369.50,184.30 C370.42,177.37 370.63,164.47 372.00,163.80 C373.37,163.13 375.60,178.57 377.70,180.30 C379.80,182.03 382.15,173.48 384.60,174.20 C387.05,174.92 390.90,180.00 392.40,184.60 C393.90,189.20 385.95,198.33 393.60,201.80 C401.25,205.27 430.85,204.80 438.30,205.40" stroke="#1f77b4" stroke-opacity="0.66" stroke-width="1.30"/>
<path d="M345.00,205.40 C348.58,205.40 362.42,207.11 366.50,205.40 C370.58,203.69 368.58,198.47 369.50,195.15 C370.42,191.83 370.63,186.24 372.00,185.50 C373.37,184.76 375.60,190.98 377.70,190.70 C379.80,190.42 382.15,184.12 384.60,183.80 C387.05,183.48 390.90,185.80 392.40,188.80 C393.90,191.80 385.95,199.03 393.60,201.80 C401.25,204.57 430.85,204.80 438.30,205.40" stroke="#1f77b4" stroke-opacity="0.66" stroke-width="1.30"/>
<path d="M345.00,205.40 C348.58,205.40 362.42,206.60 366.50,205.40 C370.58,204.20 368.58,200.50 369.50,198.20 C370.42,195.90 370.63,191.83 372.00,191.60 C373.37,191.37 375.60,196.80 377.70,196.80 C379.80,196.80 382.15,191.93 384.60,191.60 C387.05,191.27 390.90,193.10 392.40,194.80 C393.90,196.50 385.95,200.03 393.60,201.80 C401.25,203.57 430.85,204.80 438.30,205.40" stroke="#1f77b4" stroke-opacity="0.66" stroke-width="1.30"/>
<path d="M345.00,205.40 C348.67,205.40 362.67,206.10 367.00,205.40 C371.33,204.70 366.83,201.90 371.00,201.20 C375.17,200.50 388.33,200.60 392.00,201.20 C395.67,201.80 385.28,204.10 393.00,204.80 C400.72,205.50 430.75,205.30 438.30,205.40" stroke="#1f77b4" stroke-opacity="0.55" stroke-width="1.10"/>
<path d="M345.00,205.40 C348.67,205.40 362.67,205.83 367.00,205.40 C371.33,204.97 366.83,203.23 371.00,202.80 C375.17,202.37 388.33,202.47 392.00,202.80 C395.67,203.13 385.28,204.37 393.00,204.80 C400.72,205.23 430.75,205.30 438.30,205.40" stroke="#1f77b4" stroke-opacity="0.55" stroke-width="1.10"/>
<path d="M345.00,205.40 C352.75,205.40 383.57,208.33 391.50,205.40 C399.43,202.47 392.18,187.87 392.60,187.80 C393.02,187.73 393.52,203.33 394.00,205.00 C394.48,206.67 394.92,202.42 395.50,197.80 C396.08,193.18 396.92,180.30 397.50,177.30 C398.08,174.30 398.50,179.72 399.00,179.80 C399.50,179.88 399.92,177.80 400.50,177.80 C401.08,177.80 401.56,179.28 402.50,179.80 C403.44,180.32 404.92,180.56 406.13,180.93 C407.34,181.29 408.55,181.65 409.76,182.00 C410.97,182.35 412.18,182.70 413.39,183.03 C414.60,183.37 415.81,183.70 417.02,184.02 C418.23,184.34 419.44,184.66 420.65,184.96 C421.86,185.27 423.07,185.57 424.28,185.87 C425.49,186.16 426.70,186.45 427.91,186.73 C429.12,187.01 430.33,187.29 431.54,187.56 C432.75,187.83 433.96,188.09 435.17,188.35 C436.38,188.60 438.19,188.98 438.80,189.10" stroke="#1f77b4" stroke-opacity="0.58" stroke-width="1.10"/>
<path d="M345.00,205.40 C352.75,205.40 383.47,208.00 391.50,205.40 C399.53,202.80 392.68,189.87 393.20,189.80 C393.72,189.73 394.22,203.83 394.60,205.00 C394.98,206.17 394.75,201.25 395.50,196.80 C396.25,192.35 398.25,180.97 399.10,178.30 C399.95,175.63 400.10,180.72 400.60,180.80 C401.10,180.88 401.52,178.80 402.10,178.80 C402.68,178.80 403.19,180.28 404.10,180.80 C405.01,181.32 406.41,181.57 407.57,181.94 C408.73,182.31 409.88,182.67 411.04,183.02 C412.20,183.38 413.35,183.72 414.51,184.06 C415.67,184.40 416.82,184.73 417.98,185.05 C419.14,185.37 420.29,185.68 421.45,185.99 C422.61,186.30 423.76,186.60 424.92,186.89 C426.08,187.19 427.23,187.47 428.39,187.75 C429.55,188.03 430.70,188.31 431.86,188.57 C433.02,188.84 434.17,189.10 435.33,189.36 C436.49,189.61 438.22,189.98 438.80,190.11" stroke="#1f77b4" stroke-opacity="0.58" stroke-width="1.10"/>
<path d="M345.00,205.40 C352.75,205.40 383.57,207.67 391.50,205.40 C399.43,203.13 392.18,191.87 392.60,191.80 C393.02,191.73 393.52,204.33 394.00,205.00 C394.48,205.67 394.38,200.08 395.50,195.80 C396.62,191.52 399.58,181.63 400.70,179.30 C401.82,176.97 401.70,181.72 402.20,181.80 C402.70,181.88 403.12,179.80 403.70,179.80 C404.28,179.80 404.81,181.28 405.70,181.80 C406.58,182.32 407.91,182.58 409.01,182.95 C410.11,183.32 411.22,183.69 412.32,184.04 C413.42,184.40 414.53,184.75 415.63,185.09 C416.73,185.43 417.84,185.76 418.94,186.08 C420.04,186.40 421.15,186.72 422.25,187.02 C423.35,187.33 424.46,187.63 425.56,187.92 C426.66,188.22 427.77,188.50 428.87,188.78 C429.97,189.06 431.08,189.33 432.18,189.59 C433.28,189.86 434.39,190.12 435.49,190.37 C436.59,190.62 438.25,190.99 438.80,191.11" stroke="#1f77b4" stroke-opacity="0.58" stroke-width="1.10"/>
<path d="M345.00,205.40 C352.75,205.40 383.47,207.33 391.50,205.40 C399.53,203.47 392.68,193.87 393.20,193.80 C393.72,193.73 394.22,204.83 394.60,205.00 C394.98,205.17 395.02,198.92 395.50,194.80 C395.98,190.68 396.92,182.30 397.50,180.30 C398.08,178.30 398.50,182.72 399.00,182.80 C399.50,182.88 399.92,180.80 400.50,180.80 C401.08,180.80 401.56,182.27 402.50,182.80 C403.44,183.33 404.92,183.58 406.13,183.96 C407.34,184.34 408.55,184.71 409.76,185.06 C410.97,185.42 412.18,185.77 413.39,186.11 C414.60,186.45 415.81,186.78 417.02,187.10 C418.23,187.43 419.44,187.74 420.65,188.05 C421.86,188.35 423.07,188.65 424.28,188.94 C425.49,189.23 426.70,189.52 427.91,189.79 C429.12,190.07 430.33,190.34 431.54,190.60 C432.75,190.87 433.96,191.12 435.17,191.37 C436.38,191.62 438.19,191.98 438.80,192.10" stroke="#1f77b4" stroke-opacity="0.58" stroke-width="1.10"/>
<path d="M345.00,205.40 C352.75,205.40 383.57,207.00 391.50,205.40 C399.43,203.80 392.18,195.87 392.60,195.80 C393.02,195.73 393.52,205.33 394.00,205.00 C394.48,204.67 394.65,197.08 395.50,193.80 C396.35,190.52 398.25,186.30 399.10,185.30 C399.95,184.30 400.10,187.72 400.60,187.80 C401.10,187.88 401.52,185.80 402.10,185.80 C402.68,185.80 403.19,187.31 404.10,187.80 C405.01,188.29 406.41,188.42 407.57,188.73 C408.73,189.03 409.88,189.32 411.04,189.60 C412.20,189.89 413.35,190.17 414.51,190.44 C415.67,190.71 416.82,190.97 417.98,191.23 C419.14,191.48 420.29,191.73 421.45,191.97 C422.61,192.22 423.76,192.45 424.92,192.69 C426.08,192.92 427.23,193.14 428.39,193.36 C429.55,193.58 430.70,193.79 431.86,194.00 C433.02,194.21 434.17,194.41 435.33,194.61 C436.49,194.80 438.22,195.09 438.80,195.18" stroke="#1f77b4" stroke-opacity="0.58" stroke-width="1.10"/>
<path d="M345.00,205.40 C352.75,205.40 383.47,206.67 391.50,205.40 C399.53,204.13 392.68,197.87 393.20,197.80 C393.72,197.73 394.22,205.83 394.60,205.00 C394.98,204.17 394.48,195.58 395.50,192.80 C396.52,190.02 399.58,188.63 400.70,188.30 C401.82,187.97 401.70,190.72 402.20,190.80 C402.70,190.88 403.12,188.80 403.70,188.80 C404.28,188.80 404.81,190.34 405.70,190.80 C406.58,191.26 407.91,191.31 409.01,191.56 C410.11,191.80 411.22,192.04 412.32,192.28 C413.42,192.51 414.53,192.74 415.63,192.96 C416.73,193.18 417.84,193.40 418.94,193.61 C420.04,193.82 421.15,194.03 422.25,194.23 C423.35,194.43 424.46,194.62 425.56,194.81 C426.66,195.00 427.77,195.19 428.87,195.37 C429.97,195.55 431.08,195.72 432.18,195.89 C433.28,196.07 434.39,196.23 435.49,196.39 C436.59,196.56 438.25,196.79 438.80,196.87" stroke="#1f77b4" stroke-opacity="0.58" stroke-width="1.10"/>
<path d="M345.00,205.40 C352.75,205.40 383.57,206.33 391.50,205.40 C399.43,204.47 392.18,199.87 392.60,199.80 C393.02,199.73 393.52,206.33 394.00,205.00 C394.48,203.67 394.92,194.08 395.50,191.80 C396.08,189.52 396.92,190.97 397.50,191.30 C398.08,191.63 398.50,193.72 399.00,193.80 C399.50,193.88 399.92,191.80 400.50,191.80 C401.08,191.80 401.56,193.36 402.50,193.80 C403.44,194.24 404.92,194.23 406.13,194.44 C407.34,194.65 408.55,194.85 409.76,195.04 C410.97,195.24 412.18,195.43 413.39,195.61 C414.60,195.80 415.81,195.98 417.02,196.16 C418.23,196.33 419.44,196.50 420.65,196.67 C421.86,196.84 423.07,197.00 424.28,197.15 C425.49,197.31 426.70,197.47 427.91,197.61 C429.12,197.76 430.33,197.91 431.54,198.05 C432.75,198.19 433.96,198.33 435.17,198.46 C436.38,198.60 438.19,198.79 438.80,198.85" stroke="#1f77b4" stroke-opacity="0.58" stroke-width="1.10"/>
<path d="M345.00,205.40 C353.67,205.40 387.83,206.00 397.00,205.40 C406.17,204.80 399.08,201.93 400.00,201.80 C400.92,201.67 396.12,204.13 402.50,204.60 C408.88,205.07 432.33,204.60 438.30,204.60" stroke="#ff7f0e" stroke-opacity="0.49" stroke-width="1.20"/>
</g>
<g clip-path="url(#cp23)" fill="none" stroke-linejoin="round" stroke-linecap="butt">
<path d="M481.00,201.99 C481.47,201.61 482.94,200.22 483.83,199.71 C484.71,199.20 485.32,198.57 486.29,198.91 C487.26,199.25 488.59,201.02 489.64,201.77 C490.70,202.53 491.69,203.22 492.65,203.43 C493.60,203.64 494.43,203.26 495.36,203.06 C496.28,202.86 497.20,202.17 498.20,202.23 C499.20,202.28 500.29,203.13 501.34,203.38 C502.39,203.63 503.97,203.67 504.50,203.73" stroke="#b0b0b0" stroke-opacity="0.24" stroke-width="1.10"/>
<path d="M481.00,201.97 C481.37,201.79 482.52,200.66 483.24,200.89 C483.96,201.12 484.55,203.34 485.31,203.36 C486.07,203.37 486.82,201.41 487.79,200.96 C488.76,200.52 490.06,201.13 491.14,200.67 C492.23,200.21 493.34,198.61 494.30,198.22 C495.27,197.83 496.09,198.12 496.92,198.35 C497.74,198.58 498.44,199.14 499.28,199.60 C500.12,200.05 501.16,200.67 501.94,201.06 C502.72,201.46 503.64,201.80 503.98,201.95" stroke="#b0b0b0" stroke-opacity="0.24" stroke-width="1.10"/>
<path d="M481.00,200.01 C481.44,200.00 482.73,199.44 483.64,199.98 C484.55,200.51 485.61,202.84 486.45,203.24 C487.28,203.63 487.77,203.13 488.67,202.35 C489.56,201.58 490.76,199.01 491.81,198.60 C492.86,198.19 493.89,199.11 494.96,199.87 C496.02,200.62 497.09,202.72 498.19,203.13 C499.29,203.55 500.47,202.97 501.55,202.37 C502.62,201.78 504.11,200.04 504.63,199.57" stroke="#b0b0b0" stroke-opacity="0.24" stroke-width="1.10"/>
<path d="M481.00,203.73 C481.37,203.78 482.37,204.08 483.22,204.03 C484.06,203.99 485.21,203.32 486.08,203.46 C486.94,203.60 487.64,205.01 488.39,204.89 C489.14,204.76 489.88,202.72 490.59,202.70 C491.29,202.68 491.95,204.43 492.63,204.76 C493.30,205.09 493.89,205.04 494.65,204.69 C495.40,204.33 496.24,202.72 497.15,202.63 C498.06,202.54 499.17,203.79 500.13,204.12 C501.08,204.45 502.04,204.89 502.87,204.63 C503.70,204.36 504.74,202.90 505.11,202.55" stroke="#1f77b4" stroke-opacity="0.55" stroke-width="1.10"/>
<path d="M481.00,204.23 C481.35,204.19 482.32,204.34 483.10,204.00 C483.87,203.66 484.86,202.53 485.67,202.20 C486.48,201.87 487.25,201.74 487.96,202.02 C488.66,202.30 489.29,203.68 489.93,203.87 C490.58,204.06 491.10,203.58 491.84,203.15 C492.59,202.71 493.50,201.47 494.40,201.26 C495.30,201.06 496.45,201.55 497.23,201.92 C498.01,202.29 498.33,203.60 499.08,203.49 C499.83,203.38 500.82,200.99 501.75,201.24 C502.68,201.49 504.18,204.37 504.66,205.00" stroke="#1f77b4" stroke-opacity="0.55" stroke-width="1.10"/>
<path d="M481.00,203.55 C481.30,203.53 482.03,203.55 482.80,203.39 C483.58,203.22 484.75,202.95 485.64,202.56 C486.54,202.16 487.31,201.20 488.18,201.01 C489.06,200.83 490.14,200.80 490.91,201.45 C491.69,202.09 492.11,204.91 492.82,204.87 C493.54,204.84 494.44,201.85 495.19,201.22 C495.93,200.60 496.44,201.06 497.28,201.13 C498.13,201.19 499.42,201.12 500.24,201.61 C501.07,202.11 501.40,204.01 502.23,204.08 C503.06,204.16 504.73,202.39 505.22,202.05" stroke="#1f77b4" stroke-opacity="0.55" stroke-width="1.10"/>
<path d="M481.00,203.67 C481.53,203.70 483.09,204.27 484.18,203.82 C485.27,203.38 486.56,201.46 487.55,201.00 C488.54,200.55 489.27,200.82 490.13,201.09 C491.00,201.36 491.76,202.34 492.73,202.62 C493.69,202.90 494.97,202.56 495.94,202.78 C496.92,203.01 497.69,204.12 498.56,203.96 C499.44,203.81 500.19,202.07 501.18,201.85 C502.17,201.63 503.93,202.52 504.48,202.66" stroke="#ff7f0e" stroke-opacity="0.35" stroke-width="1.10"/>
<path d="M481.00,203.37 C481.56,203.11 483.36,202.23 484.36,201.82 C485.35,201.41 486.09,201.05 486.96,200.92 C487.83,200.78 488.76,200.56 489.58,200.99 C490.40,201.42 491.11,203.35 491.90,203.50 C492.69,203.64 493.41,201.69 494.32,201.86 C495.23,202.03 496.38,204.10 497.35,204.54 C498.32,204.98 499.09,204.90 500.13,204.48 C501.16,204.06 503.00,202.45 503.58,202.04" stroke="#ff7f0e" stroke-opacity="0.35" stroke-width="1.10"/>
<path d="M481.00,202.80 C484.33,202.63 496.58,202.63 501.00,201.80 C505.42,200.97 505.73,203.25 507.50,197.80 C509.27,192.35 510.35,174.43 511.60,169.10 C512.85,163.77 513.83,167.17 515.00,165.80 C516.17,164.43 517.32,160.58 518.60,160.90 C519.88,161.22 521.63,166.80 522.70,167.70 C523.77,168.60 523.73,165.65 525.00,166.30 C526.27,166.95 529.03,170.95 530.30,171.60 C531.57,172.25 531.65,169.17 532.60,170.20 C533.55,171.23 534.60,175.07 536.00,177.80 C537.40,180.53 538.80,183.77 541.00,186.60 C543.20,189.43 546.70,192.27 549.20,194.80 C551.70,197.33 551.82,200.22 556.00,201.80 C560.18,203.38 571.25,203.88 574.30,204.30" stroke="#b0b0b0" stroke-opacity="0.35" stroke-width="1.10"/>
<path d="M481.00,202.80 C485.33,201.97 501.83,201.63 507.00,197.80 C512.17,193.97 510.00,183.47 512.00,179.80 C514.00,176.13 516.67,177.13 519.00,175.80 C521.33,174.47 523.67,171.97 526.00,171.80 C528.33,171.63 530.50,172.13 533.00,174.80 C535.50,177.47 538.67,183.97 541.00,187.80 C543.33,191.63 541.45,195.05 547.00,197.80 C552.55,200.55 569.75,203.22 574.30,204.30" stroke="#b0b0b0" stroke-opacity="0.28" stroke-width="1.10"/>
<path d="M481.00,202.80 C485.33,202.30 501.67,202.97 507.00,199.80 C512.33,196.63 511.00,186.80 513.00,183.80 C515.00,180.80 517.00,182.80 519.00,181.80 C521.00,180.80 523.00,178.13 525.00,177.80 C527.00,177.47 528.67,177.63 531.00,179.80 C533.33,181.97 536.67,187.47 539.00,190.80 C541.33,194.13 539.12,197.55 545.00,199.80 C550.88,202.05 569.42,203.55 574.30,204.30" stroke="#b0b0b0" stroke-opacity="0.28" stroke-width="1.10"/>
<path d="M481.00,202.80 C485.00,202.30 500.00,202.30 505.00,199.80 C510.00,197.30 509.00,190.30 511.00,187.80 C513.00,185.30 514.67,185.13 517.00,184.80 C519.33,184.47 522.33,186.30 525.00,185.80 C527.67,185.30 530.00,180.47 533.00,181.80 C536.00,183.13 540.33,190.47 543.00,193.80 C545.67,197.13 543.78,200.05 549.00,201.80 C554.22,203.55 570.08,203.88 574.30,204.30" stroke="#b0b0b0" stroke-opacity="0.28" stroke-width="1.10"/>
<path d="M481.00,202.80 C485.00,202.63 499.83,205.30 505.00,201.80 C510.17,198.30 510.00,184.13 512.00,181.80 C514.00,179.47 515.17,186.47 517.00,187.80 C518.83,189.13 520.67,189.80 523.00,189.80 C525.33,189.80 528.67,187.13 531.00,187.80 C533.33,188.47 535.00,191.47 537.00,193.80 C539.00,196.13 536.78,200.05 543.00,201.80 C549.22,203.55 569.08,203.88 574.30,204.30" stroke="#b0b0b0" stroke-opacity="0.28" stroke-width="1.10"/>
<path d="M481.00,202.80 C484.67,202.63 498.33,203.30 503.00,201.80 C507.67,200.30 506.67,195.47 509.00,193.80 C511.33,192.13 514.33,191.80 517.00,191.80 C519.67,191.80 522.33,193.63 525.00,193.80 C527.67,193.97 530.33,192.13 533.00,192.80 C535.67,193.47 538.00,195.97 541.00,197.80 C544.00,199.63 545.45,202.72 551.00,203.80 C556.55,204.88 570.42,204.22 574.30,204.30" stroke="#b0b0b0" stroke-opacity="0.28" stroke-width="1.10"/>
<path d="M481.00,202.80 C484.67,202.80 498.50,205.30 503.00,202.80 C507.50,200.30 506.17,189.30 508.00,187.80 C509.83,186.30 511.83,192.47 514.00,193.80 C516.17,195.13 518.50,195.47 521.00,195.80 C523.50,196.13 526.50,195.13 529.00,195.80 C531.50,196.47 533.00,198.47 536.00,199.80 C539.00,201.13 540.62,203.05 547.00,203.80 C553.38,204.55 569.75,204.22 574.30,204.30" stroke="#b0b0b0" stroke-opacity="0.28" stroke-width="1.10"/>
<path d="M481.00,203.80 C482.67,203.63 488.00,202.80 491.00,202.80 C494.00,202.80 497.00,204.30 499.00,203.80 C501.00,203.30 501.92,201.47 503.00,199.80 C504.08,198.13 504.75,195.42 505.50,193.80 C506.25,192.18 506.92,190.10 507.50,190.10 C508.08,190.10 508.50,192.18 509.00,193.80 C509.50,195.42 510.00,199.47 510.50,199.80 C511.00,200.13 511.42,196.13 512.00,195.80 C512.58,195.47 513.33,198.13 514.00,197.80 C514.67,197.47 515.33,193.80 516.00,193.80 C516.67,193.80 517.25,197.63 518.00,197.80 C518.75,197.97 519.67,194.47 520.50,194.80 C521.33,195.13 522.08,198.63 523.00,199.80 C523.92,200.97 525.00,201.13 526.00,201.80 C527.00,202.47 527.33,203.30 529.00,203.80 C530.67,204.30 528.45,204.63 536.00,204.80 C543.55,204.97 567.92,204.80 574.30,204.80" stroke="#1f77b4" stroke-opacity="0.58" stroke-width="1.10"/>
<path d="M481.00,204.80 C484.00,204.72 495.50,204.97 499.00,204.30 C502.50,203.63 501.00,202.22 502.00,200.80 C503.00,199.38 504.17,197.30 505.00,195.80 C505.83,194.30 506.42,191.47 507.00,191.80 C507.58,192.13 508.00,196.13 508.50,197.80 C509.00,199.47 509.42,201.63 510.00,201.80 C510.58,201.97 511.33,198.80 512.00,198.80 C512.67,198.80 513.17,201.97 514.00,201.80 C514.83,201.63 516.17,198.13 517.00,197.80 C517.83,197.47 518.17,198.97 519.00,199.80 C519.83,200.63 520.67,202.05 522.00,202.80 C523.33,203.55 518.28,203.97 527.00,204.30 C535.72,204.63 566.42,204.72 574.30,204.80" stroke="#1f77b4" stroke-opacity="0.58" stroke-width="1.10"/>
<path d="M481.00,203.80 C483.67,203.80 493.67,204.13 497.00,203.80 C500.33,203.47 499.67,202.63 501.00,201.80 C502.33,200.97 503.92,200.30 505.00,198.80 C506.08,197.30 506.67,193.47 507.50,192.80 C508.33,192.13 509.08,193.47 510.00,194.80 C510.92,196.13 512.00,200.13 513.00,200.80 C514.00,201.47 515.00,198.63 516.00,198.80 C517.00,198.97 517.83,201.47 519.00,201.80 C520.17,202.13 521.67,200.63 523.00,200.80 C524.33,200.97 525.67,202.13 527.00,202.80 C528.33,203.47 523.12,204.47 531.00,204.80 C538.88,205.13 567.08,204.80 574.30,204.80" stroke="#1f77b4" stroke-opacity="0.58" stroke-width="1.10"/>
<path d="M481.00,203.80 C484.00,203.63 495.57,203.55 499.00,202.80 C502.43,202.05 500.77,199.47 501.60,199.30 C502.43,199.13 503.02,202.38 504.00,201.80 C504.98,201.22 506.58,195.80 507.50,195.80 C508.42,195.80 508.58,200.47 509.50,201.80 C510.42,203.13 502.20,203.38 513.00,203.80 C523.80,204.22 564.08,204.22 574.30,204.30" stroke="#ff7f0e" stroke-opacity="0.45" stroke-width="1.10"/>
<path d="M481.00,204.80 C488.83,204.80 519.00,204.97 528.00,204.80 C537.00,204.63 532.50,204.88 535.00,203.80 C537.50,202.72 539.83,199.72 543.00,198.30 C546.17,196.88 550.33,195.67 554.00,195.30 C557.67,194.93 561.62,195.68 565.00,196.10 C568.38,196.52 572.75,197.52 574.30,197.80" stroke="#1f77b4" stroke-opacity="0.55" stroke-width="1.10"/>
<path d="M481.00,204.80 C489.00,204.80 520.00,204.97 529.00,204.80 C538.00,204.63 532.67,204.58 535.00,203.80 C537.33,203.02 539.83,201.22 543.00,200.10 C546.17,198.98 550.33,197.47 554.00,197.10 C557.67,196.73 561.62,197.55 565.00,197.90 C568.38,198.25 572.75,198.98 574.30,199.20" stroke="#1f77b4" stroke-opacity="0.55" stroke-width="1.10"/>
<path d="M481.00,204.80 C489.17,204.80 521.00,204.97 530.00,204.80 C539.00,204.63 532.83,204.28 535.00,203.80 C537.17,203.32 539.83,202.72 543.00,201.90 C546.17,201.08 550.33,199.27 554.00,198.90 C557.67,198.53 561.62,199.42 565.00,199.70 C568.38,199.98 572.75,200.45 574.30,200.60" stroke="#1f77b4" stroke-opacity="0.55" stroke-width="1.10"/>
<path d="M481.00,204.80 C489.33,204.80 522.00,204.97 531.00,204.80 C540.00,204.63 533.00,203.98 535.00,203.80 C537.00,203.62 539.83,204.22 543.00,203.70 C546.17,203.18 550.33,201.07 554.00,200.70 C557.67,200.33 561.62,201.28 565.00,201.50 C568.38,201.72 572.75,201.92 574.30,202.00" stroke="#1f77b4" stroke-opacity="0.55" stroke-width="1.10"/>
<path d="M481.00,204.80 C490.00,204.80 524.67,204.88 535.00,204.80 C545.33,204.72 539.50,204.63 543.00,204.30 C546.50,203.97 550.78,203.13 556.00,202.80 C561.22,202.47 571.25,202.38 574.30,202.30" stroke="#ff7f0e" stroke-opacity="0.56" stroke-width="1.30"/>
<path d="M481.00,204.80 C490.00,204.88 524.67,205.30 535.00,205.30 C545.33,205.30 539.50,205.05 543.00,204.80 C546.50,204.55 550.78,203.97 556.00,203.80 C561.22,203.63 571.25,203.80 574.30,203.80" stroke="#1f77b4" stroke-opacity="0.39" stroke-width="1.10"/>
</g>
<g clip-path="url(#cp30)" fill="none" stroke-linejoin="round" stroke-linecap="butt">
<path d="M73.50,272.20 C76.62,272.20 88.95,278.75 92.20,272.20 C95.45,265.65 92.73,238.84 93.00,232.90 C93.27,226.96 93.47,235.64 93.80,236.55 C94.13,237.47 94.57,238.43 95.00,238.40 C95.43,238.37 95.92,236.53 96.40,236.40 C96.88,236.27 97.40,237.47 97.90,237.60 C98.40,237.73 95.60,237.27 99.40,237.20 C103.20,237.13 117.03,237.37 120.70,237.20 C124.37,237.03 120.73,229.78 121.40,236.20 C122.07,242.62 123.70,269.90 124.70,275.70 C125.70,281.50 126.67,271.45 127.40,271.00 C128.13,270.55 128.48,272.80 129.10,273.00 C129.72,273.20 124.82,272.33 131.10,272.20 C137.38,272.07 160.85,272.20 166.80,272.20" stroke="#b0b0b0" stroke-opacity="0.28" stroke-width="1.10"/>
<path d="M73.50,272.20 C76.62,272.20 88.95,277.78 92.20,272.20 C95.45,266.62 92.73,243.87 93.00,238.70 C93.27,233.53 93.47,240.48 93.80,241.16 C94.13,241.85 94.57,242.86 95.00,242.80 C95.43,242.74 95.92,240.93 96.40,240.80 C96.88,240.67 97.40,241.87 97.90,242.00 C98.40,242.13 95.60,241.67 99.40,241.60 C103.20,241.53 117.03,241.77 120.70,241.60 C124.37,241.43 120.73,234.92 121.40,240.60 C122.07,246.28 123.70,270.63 124.70,275.70 C125.70,280.77 126.67,271.45 127.40,271.00 C128.13,270.55 128.48,272.80 129.10,273.00 C129.72,273.20 124.82,272.33 131.10,272.20 C137.38,272.07 160.85,272.20 166.80,272.20" stroke="#b0b0b0" stroke-opacity="0.28" stroke-width="1.10"/>
<path d="M73.50,272.20 C76.62,272.20 88.95,277.12 92.20,272.20 C95.45,267.28 92.73,247.16 93.00,242.70 C93.27,238.24 93.47,244.69 93.80,245.42 C94.13,246.15 94.57,247.15 95.00,247.10 C95.43,247.05 95.92,245.23 96.40,245.10 C96.88,244.97 97.40,246.17 97.90,246.30 C98.40,246.43 95.60,245.97 99.40,245.90 C103.20,245.83 117.03,246.07 120.70,245.90 C124.37,245.73 120.73,239.93 121.40,244.90 C122.07,249.87 123.70,271.35 124.70,275.70 C125.70,280.05 126.67,271.45 127.40,271.00 C128.13,270.55 128.48,272.80 129.10,273.00 C129.72,273.20 124.82,272.33 131.10,272.20 C137.38,272.07 160.85,272.20 166.80,272.20" stroke="#b0b0b0" stroke-opacity="0.28" stroke-width="1.10"/>
<path d="M73.50,272.20 C76.62,272.20 88.95,276.37 92.20,272.20 C95.45,268.03 92.73,250.93 93.00,247.20 C93.27,243.47 93.47,249.12 93.80,249.83 C94.13,250.55 94.57,251.56 95.00,251.50 C95.43,251.44 95.92,249.63 96.40,249.50 C96.88,249.37 97.40,250.57 97.90,250.70 C98.40,250.83 95.60,250.37 99.40,250.30 C103.20,250.23 117.03,250.47 120.70,250.30 C124.37,250.13 120.73,245.07 121.40,249.30 C122.07,253.53 123.70,272.08 124.70,275.70 C125.70,279.32 126.67,271.45 127.40,271.00 C128.13,270.55 128.48,272.80 129.10,273.00 C129.72,273.20 124.82,272.33 131.10,272.20 C137.38,272.07 160.85,272.20 166.80,272.20" stroke="#b0b0b0" stroke-opacity="0.28" stroke-width="1.10"/>
<path d="M73.50,272.20 C76.62,272.20 88.95,275.78 92.20,272.20 C95.45,268.62 92.73,253.84 93.00,250.70 C93.27,247.56 93.47,252.62 93.80,253.33 C94.13,254.05 94.57,255.06 95.00,255.00 C95.43,254.94 95.92,253.13 96.40,253.00 C96.88,252.87 97.40,254.07 97.90,254.20 C98.40,254.33 95.60,253.87 99.40,253.80 C103.20,253.73 117.03,253.97 120.70,253.80 C124.37,253.63 120.73,249.15 121.40,252.80 C122.07,256.45 123.70,272.67 124.70,275.70 C125.70,278.73 126.67,271.45 127.40,271.00 C128.13,270.55 128.48,272.80 129.10,273.00 C129.72,273.20 124.82,272.33 131.10,272.20 C137.38,272.07 160.85,272.20 166.80,272.20" stroke="#b0b0b0" stroke-opacity="0.28" stroke-width="1.10"/>
<path d="M73.50,272.20 C76.62,272.20 88.95,275.03 92.20,272.20 C95.45,269.37 92.73,257.62 93.00,255.20 C93.27,252.78 93.47,256.98 93.80,257.66 C94.13,258.35 94.57,259.36 95.00,259.30 C95.43,259.24 95.92,257.43 96.40,257.30 C96.88,257.17 97.40,258.37 97.90,258.50 C98.40,258.63 95.60,258.17 99.40,258.10 C103.20,258.03 117.03,258.27 120.70,258.10 C124.37,257.93 120.73,254.17 121.40,257.10 C122.07,260.03 123.70,273.38 124.70,275.70 C125.70,278.02 126.67,271.45 127.40,271.00 C128.13,270.55 128.48,272.80 129.10,273.00 C129.72,273.20 124.82,272.33 131.10,272.20 C137.38,272.07 160.85,272.20 166.80,272.20" stroke="#b0b0b0" stroke-opacity="0.28" stroke-width="1.10"/>
<path d="M73.50,256.20 C74.05,257.98 75.88,265.68 76.80,266.90 C77.72,268.12 78.30,263.97 79.00,263.50 C79.70,263.03 80.33,264.03 81.00,264.10 C81.67,264.17 81.18,263.93 83.00,263.90 C84.82,263.87 90.28,264.85 91.90,263.90 C93.52,262.95 92.43,258.67 92.70,258.20 C92.97,257.73 93.17,260.32 93.50,261.09 C93.83,261.86 94.27,262.85 94.70,262.80 C95.13,262.75 95.62,260.93 96.10,260.80 C96.58,260.67 97.10,261.87 97.60,262.00 C98.10,262.13 95.25,261.67 99.10,261.60 C102.95,261.53 116.98,262.00 120.70,261.60 C124.42,261.20 120.73,258.23 121.40,259.20 C122.07,260.17 123.70,266.82 124.70,267.40 C125.70,267.98 126.67,263.15 127.40,262.70 C128.13,262.25 128.48,264.50 129.10,264.70 C129.72,264.90 124.82,264.03 131.10,263.90 C137.38,263.77 160.85,263.90 166.80,263.90" stroke="#1f77b4" stroke-opacity="0.47" stroke-width="1.30"/>
<path d="M73.50,271.20 C76.57,271.20 88.70,272.70 91.90,271.20 C95.10,269.70 92.43,263.18 92.70,262.20 C92.97,261.22 93.17,264.53 93.50,265.34 C93.83,266.16 94.27,267.14 94.70,267.10 C95.13,267.06 95.62,265.23 96.10,265.10 C96.58,264.97 97.10,266.17 97.60,266.30 C98.10,266.43 95.25,265.97 99.10,265.90 C102.95,265.83 116.98,266.35 120.70,265.90 C124.42,265.45 120.73,261.73 121.40,263.20 C122.07,264.67 123.70,273.57 124.70,274.70 C125.70,275.83 126.67,270.45 127.40,270.00 C128.13,269.55 128.48,271.80 129.10,272.00 C129.72,272.20 124.82,271.33 131.10,271.20 C137.38,271.07 160.85,271.20 166.80,271.20" stroke="#1f77b4" stroke-opacity="0.47" stroke-width="1.20"/>
<path d="M73.50,273.80 C76.57,273.80 88.70,277.43 91.90,273.80 C95.10,270.17 92.43,252.97 92.70,252.00 C92.97,251.03 93.17,264.65 93.50,267.98 C93.83,271.31 94.27,271.66 94.70,272.00 C95.13,272.34 95.62,270.13 96.10,270.00 C96.58,269.87 97.10,271.07 97.60,271.20 C98.10,271.33 95.25,270.87 99.10,270.80 C102.95,270.73 116.98,271.57 120.70,270.80 C124.42,270.03 120.73,265.22 121.40,266.20 C122.07,267.18 123.70,275.63 124.70,276.70 C125.70,277.77 126.67,272.95 127.40,272.60 C128.13,272.25 128.48,274.40 129.10,274.60 C129.72,274.80 124.82,273.93 131.10,273.80 C137.38,273.67 160.85,273.80 166.80,273.80" stroke="#ff7f0e" stroke-opacity="0.49" stroke-width="1.30"/>
<path d="M73.50,271.20 C76.57,271.20 88.70,272.03 91.90,271.20 C95.10,270.37 92.43,266.45 92.70,266.20 C92.97,265.95 93.17,268.80 93.50,269.69 C93.83,270.57 94.27,271.53 94.70,271.50 C95.13,271.47 95.62,269.63 96.10,269.50 C96.58,269.37 97.10,270.57 97.60,270.70 C98.10,270.83 95.25,270.37 99.10,270.30 C102.95,270.23 116.98,270.65 120.70,270.30 C124.42,269.95 120.73,267.47 121.40,268.20 C122.07,268.93 123.70,274.40 124.70,274.70 C125.70,275.00 126.67,270.45 127.40,270.00 C128.13,269.55 128.48,271.80 129.10,272.00 C129.72,272.20 124.82,271.33 131.10,271.20 C137.38,271.07 160.85,271.20 166.80,271.20" stroke="#1f77b4" stroke-opacity="0.62" stroke-width="1.40"/>
<path d="M73.50,271.20 C76.57,271.20 88.70,271.37 91.90,271.20 C95.10,271.03 92.43,269.74 92.70,270.20 C92.97,270.66 93.17,273.01 93.50,273.94 C93.83,274.87 94.27,275.82 94.70,275.80 C95.13,275.78 95.62,273.93 96.10,273.80 C96.58,273.67 97.10,274.87 97.60,275.00 C98.10,275.13 95.25,274.67 99.10,274.60 C102.95,274.53 116.98,275.00 120.70,274.60 C124.42,274.20 120.73,272.18 121.40,272.20 C122.07,272.22 123.70,275.07 124.70,274.70 C125.70,274.33 126.67,270.45 127.40,270.00 C128.13,269.55 128.48,271.80 129.10,272.00 C129.72,272.20 124.82,271.33 131.10,271.20 C137.38,271.07 160.85,271.20 166.80,271.20" stroke="#1f77b4" stroke-opacity="0.39" stroke-width="1.20"/>
<path d="M73.50,271.20 C74.05,272.30 75.88,277.27 76.80,277.80 C77.72,278.33 78.30,274.87 79.00,274.40 C79.70,273.93 80.33,274.93 81.00,275.00 C81.67,275.07 81.18,274.83 83.00,274.80 C84.82,274.77 90.28,275.23 91.90,274.80 C93.52,274.37 92.43,272.38 92.70,272.20 C92.97,272.02 93.17,273.23 93.50,273.73 C93.83,274.23 94.27,275.29 94.70,275.20 C95.13,275.11 95.62,273.33 96.10,273.20 C96.58,273.07 97.10,274.27 97.60,274.40 C98.10,274.53 95.25,274.07 99.10,274.00 C102.95,273.93 116.98,274.13 120.70,274.00 C124.42,273.87 120.73,272.75 121.40,273.20 C122.07,273.65 123.70,276.63 124.70,276.70 C125.70,276.77 126.67,273.78 127.40,273.60 C128.13,273.42 128.48,275.40 129.10,275.60 C129.72,275.80 124.82,274.93 131.10,274.80 C137.38,274.67 160.85,274.80 166.80,274.80" stroke="#ff7f0e" stroke-opacity="0.49" stroke-width="1.20"/>
</g>
<g clip-path="url(#cp31)" fill="none" stroke-linejoin="round" stroke-linecap="butt">
<path d="M209.20,275.00 C212.22,275.00 224.03,282.02 227.30,275.00 C230.57,267.98 228.05,238.95 228.80,232.90 C229.55,226.85 231.05,237.92 231.80,238.70 C232.55,239.48 232.77,237.70 233.30,237.60 C233.83,237.50 231.22,238.02 235.00,238.10 C238.78,238.18 252.27,238.27 256.00,238.10 C259.73,237.93 256.58,230.83 257.40,237.10 C258.22,243.37 259.42,269.38 260.90,275.70 C262.38,282.02 259.37,275.12 266.30,275.00 C273.23,274.88 296.47,275.00 302.50,275.00" stroke="#b0b0b0" stroke-opacity="0.32" stroke-width="1.10"/>
<path d="M209.20,275.00 C212.22,275.00 224.03,280.30 227.30,275.00 C230.57,269.70 228.05,247.37 228.80,243.20 C229.55,239.03 231.05,249.05 231.80,250.00 C232.55,250.95 232.77,249.00 233.30,248.90 C233.83,248.80 231.22,249.32 235.00,249.40 C238.78,249.48 252.27,249.57 256.00,249.40 C259.73,249.23 256.58,244.02 257.40,248.40 C258.22,252.78 259.42,271.27 260.90,275.70 C262.38,280.13 259.37,275.12 266.30,275.00 C273.23,274.88 296.47,275.00 302.50,275.00" stroke="#b0b0b0" stroke-opacity="0.32" stroke-width="1.10"/>
<path d="M209.20,275.00 C212.22,275.00 224.03,279.80 227.30,275.00 C230.57,270.20 228.05,249.78 228.80,246.20 C229.55,242.62 231.05,252.47 231.80,253.50 C232.55,254.53 232.77,252.50 233.30,252.40 C233.83,252.30 231.22,252.82 235.00,252.90 C238.78,252.98 252.27,253.07 256.00,252.90 C259.73,252.73 256.58,248.10 257.40,251.90 C258.22,255.70 259.42,271.85 260.90,275.70 C262.38,279.55 259.37,275.12 266.30,275.00 C273.23,274.88 296.47,275.00 302.50,275.00" stroke="#b0b0b0" stroke-opacity="0.32" stroke-width="1.10"/>
<path d="M209.20,275.00 C212.22,275.00 224.03,279.30 227.30,275.00 C230.57,270.70 228.05,252.20 228.80,249.20 C229.55,246.20 231.05,255.88 231.80,257.00 C232.55,258.12 232.77,256.00 233.30,255.90 C233.83,255.80 231.22,256.32 235.00,256.40 C238.78,256.48 252.27,256.57 256.00,256.40 C259.73,256.23 256.58,252.18 257.40,255.40 C258.22,258.62 259.42,272.43 260.90,275.70 C262.38,278.97 259.37,275.12 266.30,275.00 C273.23,274.88 296.47,275.00 302.50,275.00" stroke="#b0b0b0" stroke-opacity="0.32" stroke-width="1.10"/>
<path d="M209.20,275.00 C212.22,275.00 224.03,278.80 227.30,275.00 C230.57,271.20 228.05,254.62 228.80,252.20 C229.55,249.78 231.05,259.30 231.80,260.50 C232.55,261.70 232.77,259.50 233.30,259.40 C233.83,259.30 231.22,259.82 235.00,259.90 C238.78,259.98 252.27,260.07 256.00,259.90 C259.73,259.73 256.58,256.27 257.40,258.90 C258.22,261.53 259.42,273.02 260.90,275.70 C262.38,278.38 259.37,275.12 266.30,275.00 C273.23,274.88 296.47,275.00 302.50,275.00" stroke="#b0b0b0" stroke-opacity="0.32" stroke-width="1.10"/>
<path d="M209.20,275.00 C212.22,275.00 224.03,278.13 227.30,275.00 C230.57,271.87 228.05,258.05 228.80,256.20 C229.55,254.35 231.05,262.80 231.80,263.90 C232.55,265.00 232.77,262.90 233.30,262.80 C233.83,262.70 231.22,263.22 235.00,263.30 C238.78,263.38 252.27,263.47 256.00,263.30 C259.73,263.13 256.58,260.23 257.40,262.30 C258.22,264.37 259.42,273.58 260.90,275.70 C262.38,277.82 259.37,275.12 266.30,275.00 C273.23,274.88 296.47,275.00 302.50,275.00" stroke="#b0b0b0" stroke-opacity="0.32" stroke-width="1.10"/>
<path d="M209.20,275.00 C212.22,275.00 224.03,277.80 227.30,275.00 C230.57,272.20 228.05,259.62 228.80,258.20 C229.55,256.78 231.05,265.30 231.80,266.50 C232.55,267.70 232.77,265.50 233.30,265.40 C233.83,265.30 231.22,265.82 235.00,265.90 C238.78,265.98 252.27,266.07 256.00,265.90 C259.73,265.73 256.58,263.27 257.40,264.90 C258.22,266.53 259.42,274.02 260.90,275.70 C262.38,277.38 259.37,275.12 266.30,275.00 C273.23,274.88 296.47,275.00 302.50,275.00" stroke="#b0b0b0" stroke-opacity="0.32" stroke-width="1.10"/>
<path d="M209.20,275.00 C212.22,275.00 224.03,278.25 227.30,275.00 C230.57,271.75 228.05,256.33 228.80,255.50 C229.55,254.67 231.05,267.77 231.80,270.00 C232.55,272.23 232.77,269.00 233.30,268.90 C233.83,268.80 230.82,269.32 235.00,269.40 C239.18,269.48 254.27,270.70 258.40,269.40 C262.53,268.10 258.48,260.53 259.80,261.60 C261.12,262.67 264.32,273.53 266.30,275.80 C268.28,278.07 265.67,275.30 271.70,275.20 C277.73,275.10 297.37,275.20 302.50,275.20" stroke="#1f77b4" stroke-opacity="0.39" stroke-width="1.10"/>
<path d="M209.20,275.00 C212.27,275.00 224.28,277.58 227.60,275.00 C230.92,272.42 228.35,260.03 229.10,259.50 C229.85,258.97 231.35,269.93 232.10,271.80 C232.85,273.67 233.07,270.80 233.60,270.70 C234.13,270.60 231.17,271.12 235.30,271.20 C239.43,271.28 254.32,272.30 258.40,271.20 C262.48,270.10 258.68,263.83 259.80,264.60 C260.92,265.37 263.32,274.03 265.10,275.80 C266.88,277.57 264.27,275.30 270.50,275.20 C276.73,275.10 297.17,275.20 302.50,275.20" stroke="#1f77b4" stroke-opacity="0.39" stroke-width="1.10"/>
<path d="M209.20,275.00 C212.32,275.00 224.53,276.92 227.90,275.00 C231.27,273.08 228.65,263.60 229.40,263.50 C230.15,263.40 231.65,272.77 232.40,274.40 C233.15,276.03 233.37,273.40 233.90,273.30 C234.43,273.20 231.52,273.72 235.60,273.80 C239.68,273.88 254.37,274.83 258.40,273.80 C262.43,272.77 258.88,267.27 259.80,267.60 C260.72,267.93 262.32,274.53 263.90,275.80 C265.48,277.07 262.87,275.30 269.30,275.20 C275.73,275.10 296.97,275.20 302.50,275.20" stroke="#1f77b4" stroke-opacity="0.39" stroke-width="1.10"/>
<path d="M209.20,275.70 C209.53,275.12 210.62,273.45 211.20,272.20 C211.78,270.95 212.20,268.20 212.70,268.20 C213.20,268.20 213.62,271.03 214.20,272.20 C214.78,273.37 201.48,274.70 216.20,275.20 C230.92,275.70 288.12,275.20 302.50,275.20" stroke="#1f77b4" stroke-opacity="0.47" stroke-width="1.10"/>
<path d="M209.20,275.20 C209.35,272.70 209.78,264.70 210.10,260.20 C210.42,255.70 210.75,248.03 211.10,248.20 C211.45,248.37 211.82,257.37 212.20,261.20 C212.58,265.03 212.98,269.37 213.40,271.20 C213.82,273.03 214.23,272.45 214.70,272.20 C215.17,271.95 215.62,269.90 216.20,269.70 C216.78,269.50 217.53,270.95 218.20,271.00 C218.87,271.05 219.45,270.07 220.20,270.00 C220.95,269.93 221.62,270.63 222.70,270.60 C223.78,270.57 225.85,269.53 226.70,269.80 C227.55,270.07 227.38,271.38 227.80,272.20 C228.22,273.02 224.22,274.28 229.20,274.70 C234.18,275.12 252.78,275.78 257.70,274.70 C262.62,273.62 258.28,269.62 258.70,268.20 C259.12,266.78 259.73,264.95 260.20,266.20 C260.67,267.45 261.05,274.70 261.50,275.70 C261.95,276.70 262.45,273.82 262.90,272.20 C263.35,270.58 263.73,266.25 264.20,266.00 C264.67,265.75 265.20,270.25 265.70,270.70 C266.20,271.15 266.62,268.85 267.20,268.70 C267.78,268.55 263.32,269.62 269.20,269.80 C275.08,269.98 296.95,269.80 302.50,269.80" stroke="#ff7f0e" stroke-opacity="0.56" stroke-width="1.30"/>
</g>
<g clip-path="url(#cp32)" fill="none" stroke-linejoin="round" stroke-linecap="butt">
<path d="M345.00,255.20 L345.40,275.20 L346.00,268.20 L347.90,242.70 L349.60,264.20 L351.80,265.20 L355.00,269.20 L360.50,275.70 L438.30,275.70" stroke="#ff7f0e" stroke-opacity="0.49" stroke-width="1.10"/>
<path d="M345.00,275.20 L348.20,275.20 L350.60,246.20 L352.80,267.20 L354.10,271.70 L355.30,270.00 L357.00,273.70 L359.50,271.70 L361.00,275.80 L438.30,275.80" stroke="#1f77b4" stroke-opacity="0.58" stroke-width="1.10"/>
<path d="M345.00,275.20 L347.50,264.20 L349.00,247.20 L350.80,262.20 L352.20,245.20 L354.00,268.20 L357.00,274.20 L438.30,275.20" stroke="#b0b0b0" stroke-opacity="0.24" stroke-width="1.10"/>
<path d="M345.00,275.20 L346.60,256.20 L348.50,270.20 L350.00,258.20 L352.00,272.20 L354.00,275.20 L438.30,275.20" stroke="#b0b0b0" stroke-opacity="0.21" stroke-width="1.10"/>
<path d="M345.00,275.70 C348.25,275.70 360.67,283.20 364.50,275.70 C368.33,268.20 366.92,236.87 368.00,230.70 C369.08,224.53 370.00,238.70 371.00,238.70 C372.00,238.70 372.83,230.82 374.00,230.70 C375.17,230.58 376.67,236.12 378.00,238.00 C379.33,239.88 380.50,242.30 382.00,242.00 C383.50,241.70 385.00,237.50 387.00,236.20 C389.00,234.90 392.58,227.87 394.00,234.20 C395.42,240.53 388.12,267.28 395.50,274.20 C402.88,281.12 431.17,275.45 438.30,275.70" stroke="#b0b0b0" stroke-opacity="0.32" stroke-width="1.10"/>
<path d="M345.00,275.70 C348.25,275.70 360.67,282.62 364.50,275.70 C368.33,268.78 366.92,239.78 368.00,234.20 C369.08,228.62 370.00,242.37 371.00,242.20 C372.00,242.03 372.83,233.20 374.00,233.20 C375.17,233.20 376.67,240.03 378.00,242.20 C379.33,244.37 380.50,245.87 382.00,246.20 C383.50,246.53 385.00,244.87 387.00,244.20 C389.00,243.53 392.58,237.20 394.00,242.20 C395.42,247.20 388.12,268.62 395.50,274.20 C402.88,279.78 431.17,275.45 438.30,275.70" stroke="#b0b0b0" stroke-opacity="0.32" stroke-width="1.10"/>
<path d="M345.00,275.70 C348.25,275.70 360.67,282.12 364.50,275.70 C368.33,269.28 366.92,242.28 368.00,237.20 C369.08,232.12 370.00,245.20 371.00,245.20 C372.00,245.20 372.83,237.37 374.00,237.20 C375.17,237.03 376.67,242.37 378.00,244.20 C379.33,246.03 380.50,247.70 382.00,248.20 C383.50,248.70 385.00,247.70 387.00,247.20 C389.00,246.70 392.58,240.70 394.00,245.20 C395.42,249.70 388.12,269.12 395.50,274.20 C402.88,279.28 431.17,275.45 438.30,275.70" stroke="#b0b0b0" stroke-opacity="0.32" stroke-width="1.10"/>
<path d="M345.00,275.70 C348.25,275.70 360.67,281.62 364.50,275.70 C368.33,269.78 366.92,244.78 368.00,240.20 C369.08,235.62 370.00,248.20 371.00,248.20 C372.00,248.20 372.83,240.53 374.00,240.20 C375.17,239.87 376.67,244.53 378.00,246.20 C379.33,247.87 380.50,249.53 382.00,250.20 C383.50,250.87 385.00,250.53 387.00,250.20 C389.00,249.87 392.58,244.20 394.00,248.20 C395.42,252.20 388.12,269.62 395.50,274.20 C402.88,278.78 431.17,275.45 438.30,275.70" stroke="#b0b0b0" stroke-opacity="0.32" stroke-width="1.10"/>
<path d="M345.00,275.70 C348.25,275.70 360.67,280.95 364.50,275.70 C368.33,270.45 366.92,248.12 368.00,244.20 C369.08,240.28 370.00,251.87 371.00,252.20 C372.00,252.53 372.83,246.53 374.00,246.20 C375.17,245.87 376.67,248.87 378.00,250.20 C379.33,251.53 380.50,253.53 382.00,254.20 C383.50,254.87 385.00,254.53 387.00,254.20 C389.00,253.87 392.58,248.87 394.00,252.20 C395.42,255.53 388.12,270.28 395.50,274.20 C402.88,278.12 431.17,275.45 438.30,275.70" stroke="#b0b0b0" stroke-opacity="0.32" stroke-width="1.10"/>
<path d="M345.00,275.70 C348.25,275.70 360.67,280.45 364.50,275.70 C368.33,270.95 366.92,250.62 368.00,247.20 C369.08,243.78 370.00,254.87 371.00,255.20 C372.00,255.53 372.83,249.70 374.00,249.20 C375.17,248.70 376.67,251.03 378.00,252.20 C379.33,253.37 380.50,255.37 382.00,256.20 C383.50,257.03 385.00,257.37 387.00,257.20 C389.00,257.03 392.58,252.37 394.00,255.20 C395.42,258.03 388.12,270.78 395.50,274.20 C402.88,277.62 431.17,275.45 438.30,275.70" stroke="#b0b0b0" stroke-opacity="0.32" stroke-width="1.10"/>
<path d="M345.00,275.70 C348.25,275.70 360.67,279.95 364.50,275.70 C368.33,271.45 366.92,253.12 368.00,250.20 C369.08,247.28 370.00,257.87 371.00,258.20 C372.00,258.53 372.83,252.87 374.00,252.20 C375.17,251.53 376.67,253.20 378.00,254.20 C379.33,255.20 380.50,257.20 382.00,258.20 C383.50,259.20 385.00,260.20 387.00,260.20 C389.00,260.20 392.58,255.87 394.00,258.20 C395.42,260.53 388.12,271.28 395.50,274.20 C402.88,277.12 431.17,275.45 438.30,275.70" stroke="#b0b0b0" stroke-opacity="0.32" stroke-width="1.10"/>
<path d="M345.00,275.70 C348.25,275.70 360.67,278.95 364.50,275.70 C368.33,272.45 366.92,258.12 368.00,256.20 C369.08,254.28 370.00,263.87 371.00,264.20 C372.00,264.53 372.83,258.87 374.00,258.20 C375.17,257.53 376.67,259.20 378.00,260.20 C379.33,261.20 380.50,263.37 382.00,264.20 C383.50,265.03 385.00,265.37 387.00,265.20 C389.00,265.03 392.58,261.70 394.00,263.20 C395.42,264.70 388.12,272.12 395.50,274.20 C402.88,276.28 431.17,275.45 438.30,275.70" stroke="#b0b0b0" stroke-opacity="0.32" stroke-width="1.10"/>
<path d="M345.00,275.70 C348.25,275.70 360.67,278.28 364.50,275.70 C368.33,273.12 366.92,261.45 368.00,260.20 C369.08,258.95 370.00,267.87 371.00,268.20 C372.00,268.53 372.83,263.20 374.00,262.20 C375.17,261.20 376.67,261.53 378.00,262.20 C379.33,262.87 380.50,265.20 382.00,266.20 C383.50,267.20 385.00,268.20 387.00,268.20 C389.00,268.20 392.58,265.20 394.00,266.20 C395.42,267.20 388.12,272.62 395.50,274.20 C402.88,275.78 431.17,275.45 438.30,275.70" stroke="#b0b0b0" stroke-opacity="0.32" stroke-width="1.10"/>
<path d="M345.00,258.20 C345.20,259.87 345.78,265.37 346.20,268.20 C346.62,271.03 332.15,273.95 347.50,275.20 C362.85,276.45 423.17,275.62 438.30,275.70" stroke="#ff7f0e" stroke-opacity="0.42" stroke-width="1.10"/>
<path d="M345.00,275.20 C345.58,274.03 347.33,272.37 348.50,268.20 C349.67,264.03 351.00,249.87 352.00,250.20 C353.00,250.53 353.67,266.20 354.50,270.20 C355.33,274.20 356.25,273.28 357.00,274.20 C357.75,275.12 345.45,275.45 359.00,275.70 C372.55,275.95 425.08,275.70 438.30,275.70" stroke="#b0b0b0" stroke-opacity="0.28" stroke-width="1.10"/>
<path d="M345.00,275.70 C346.33,275.62 351.33,275.78 353.00,275.20 C354.67,274.62 354.33,272.28 355.00,272.20 C355.67,272.12 356.33,274.45 357.00,274.70 C357.67,274.95 358.33,273.53 359.00,273.70 C359.67,273.87 347.78,275.37 361.00,275.70 C374.22,276.03 425.42,275.70 438.30,275.70" stroke="#1f77b4" stroke-opacity="0.39" stroke-width="1.10"/>
<path d="M345.00,275.70 L362.20,275.70 L365.50,234.20 L368.50,270.20 L370.00,275.70 L438.30,275.70" stroke="#b0b0b0" stroke-opacity="0.35" stroke-width="1.10"/>
<path d="M345.00,275.80 C348.58,275.80 362.42,279.13 366.50,275.80 C370.58,272.47 368.58,262.37 369.50,255.80 C370.42,249.23 370.63,236.88 372.00,236.40 C373.37,235.92 375.60,251.32 377.70,252.90 C379.80,254.48 382.15,245.18 384.60,245.90 C387.05,246.62 390.90,252.82 392.40,257.20 C393.90,261.58 385.95,269.10 393.60,272.20 C401.25,275.30 430.85,275.20 438.30,275.80" stroke="#1f77b4" stroke-opacity="0.66" stroke-width="1.30"/>
<path d="M345.00,275.80 C348.58,275.80 362.42,277.47 366.50,275.80 C370.58,274.13 368.58,269.03 369.50,265.80 C370.42,262.57 370.63,256.82 372.00,256.40 C373.37,255.98 375.60,263.30 377.70,263.30 C379.80,263.30 382.15,256.75 384.60,256.40 C387.05,256.05 390.90,258.57 392.40,261.20 C393.90,263.83 385.95,269.77 393.60,272.20 C401.25,274.63 430.85,275.20 438.30,275.80" stroke="#1f77b4" stroke-opacity="0.66" stroke-width="1.30"/>
<path d="M345.00,275.80 C348.58,275.80 362.42,276.89 366.50,275.80 C370.58,274.71 368.58,271.33 369.50,269.25 C370.42,267.17 370.63,263.43 372.00,263.30 C373.37,263.18 375.60,268.20 377.70,268.50 C379.80,268.80 382.15,265.32 384.60,265.10 C387.05,264.88 390.90,266.02 392.40,267.20 C393.90,268.38 385.95,270.77 393.60,272.20 C401.25,273.63 430.85,275.20 438.30,275.80" stroke="#1f77b4" stroke-opacity="0.66" stroke-width="1.30"/>
<path d="M345.00,275.80 C348.67,275.80 362.67,276.50 367.00,275.80 C371.33,275.10 366.83,272.30 371.00,271.60 C375.17,270.90 388.33,271.00 392.00,271.60 C395.67,272.20 385.28,274.50 393.00,275.20 C400.72,275.90 430.75,275.70 438.30,275.80" stroke="#1f77b4" stroke-opacity="0.55" stroke-width="1.10"/>
<path d="M345.00,275.80 C348.67,275.80 362.67,276.23 367.00,275.80 C371.33,275.37 366.83,273.63 371.00,273.20 C375.17,272.77 388.33,272.87 392.00,273.20 C395.67,273.53 385.28,274.77 393.00,275.20 C400.72,275.63 430.75,275.70 438.30,275.80" stroke="#1f77b4" stroke-opacity="0.55" stroke-width="1.10"/>
<path d="M345.00,275.80 C352.75,275.80 383.57,278.73 391.50,275.80 C399.43,272.87 392.18,258.27 392.60,258.20 C393.02,258.13 393.52,273.73 394.00,275.40 C394.48,277.07 394.92,272.40 395.50,268.20 C396.08,264.00 396.92,252.78 397.50,250.20 C398.08,247.62 398.50,252.62 399.00,252.70 C399.50,252.78 399.92,250.70 400.50,250.70 C401.08,250.70 401.56,252.18 402.50,252.70 C403.44,253.22 404.92,253.44 406.13,253.79 C407.34,254.15 408.55,254.49 409.76,254.83 C410.97,255.17 412.18,255.50 413.39,255.83 C414.60,256.15 415.81,256.46 417.02,256.77 C418.23,257.08 419.44,257.38 420.65,257.67 C421.86,257.97 423.07,258.25 424.28,258.54 C425.49,258.82 426.70,259.09 427.91,259.36 C429.12,259.62 430.33,259.88 431.54,260.14 C432.75,260.39 433.96,260.64 435.17,260.88 C436.38,261.13 438.19,261.48 438.80,261.60" stroke="#1f77b4" stroke-opacity="0.58" stroke-width="1.10"/>
<path d="M345.00,275.80 C352.75,275.80 383.47,278.40 391.50,275.80 C399.53,273.20 392.68,260.27 393.20,260.20 C393.72,260.13 394.22,274.23 394.60,275.40 C394.98,276.57 394.75,271.23 395.50,267.20 C396.25,263.17 398.25,253.45 399.10,251.20 C399.95,248.95 400.10,253.62 400.60,253.70 C401.10,253.78 401.52,251.70 402.10,251.70 C402.68,251.70 403.19,253.18 404.10,253.70 C405.01,254.22 406.41,254.45 407.57,254.80 C408.73,255.16 409.88,255.51 411.04,255.85 C412.20,256.20 413.35,256.53 414.51,256.85 C415.67,257.18 416.82,257.49 417.98,257.80 C419.14,258.11 420.29,258.41 421.45,258.71 C422.61,259.00 423.76,259.29 424.92,259.57 C426.08,259.84 427.23,260.12 428.39,260.38 C429.55,260.65 430.70,260.91 431.86,261.16 C433.02,261.41 434.17,261.66 435.33,261.90 C436.49,262.14 438.22,262.48 438.80,262.60" stroke="#1f77b4" stroke-opacity="0.58" stroke-width="1.10"/>
<path d="M345.00,275.80 C352.75,275.80 383.57,278.07 391.50,275.80 C399.43,273.53 392.18,262.27 392.60,262.20 C393.02,262.13 393.52,274.73 394.00,275.40 C394.48,276.07 394.38,270.07 395.50,266.20 C396.62,262.33 399.58,254.12 400.70,252.20 C401.82,250.28 401.70,254.62 402.20,254.70 C402.70,254.78 403.12,252.70 403.70,252.70 C404.28,252.70 404.81,254.18 405.70,254.70 C406.58,255.22 407.91,255.46 409.01,255.82 C410.11,256.18 411.22,256.54 412.32,256.88 C413.42,257.22 414.53,257.56 415.63,257.89 C416.73,258.21 417.84,258.53 418.94,258.84 C420.04,259.15 421.15,259.45 422.25,259.74 C423.35,260.04 424.46,260.32 425.56,260.60 C426.66,260.88 427.77,261.15 428.87,261.41 C429.97,261.67 431.08,261.93 432.18,262.18 C433.28,262.43 434.39,262.67 435.49,262.91 C436.59,263.15 438.25,263.49 438.80,263.60" stroke="#1f77b4" stroke-opacity="0.58" stroke-width="1.10"/>
<path d="M345.00,275.80 C352.75,275.80 383.47,277.73 391.50,275.80 C399.53,273.87 392.68,264.27 393.20,264.20 C393.72,264.13 394.22,275.23 394.60,275.40 C394.98,275.57 395.02,268.40 395.50,265.20 C395.98,262.00 396.92,257.28 397.50,256.20 C398.08,255.12 398.50,258.62 399.00,258.70 C399.50,258.78 399.92,256.70 400.50,256.70 C401.08,256.70 401.56,258.21 402.50,258.70 C403.44,259.19 404.92,259.32 406.13,259.62 C407.34,259.91 408.55,260.20 409.76,260.48 C410.97,260.77 412.18,261.04 413.39,261.31 C414.60,261.57 415.81,261.83 417.02,262.09 C418.23,262.34 419.44,262.58 420.65,262.82 C421.86,263.06 423.07,263.30 424.28,263.52 C425.49,263.75 426.70,263.97 427.91,264.19 C429.12,264.40 430.33,264.61 431.54,264.82 C432.75,265.02 433.96,265.22 435.17,265.41 C436.38,265.60 438.19,265.88 438.80,265.98" stroke="#1f77b4" stroke-opacity="0.58" stroke-width="1.10"/>
<path d="M345.00,275.80 C352.75,275.80 383.57,277.40 391.50,275.80 C399.43,274.20 392.18,266.27 392.60,266.20 C393.02,266.13 393.52,275.73 394.00,275.40 C394.48,275.07 394.65,266.90 395.50,264.20 C396.35,261.50 398.25,259.62 399.10,259.20 C399.95,258.78 400.10,261.62 400.60,261.70 C401.10,261.78 401.52,259.70 402.10,259.70 C402.68,259.70 403.19,261.22 404.10,261.70 C405.01,262.18 406.41,262.31 407.57,262.60 C408.73,262.89 409.88,263.17 411.04,263.45 C412.20,263.72 413.35,263.98 414.51,264.24 C415.67,264.50 416.82,264.74 417.98,264.98 C419.14,265.22 420.29,265.46 421.45,265.68 C422.61,265.91 423.76,266.13 424.92,266.34 C426.08,266.55 427.23,266.75 428.39,266.95 C429.55,267.15 430.70,267.34 431.86,267.53 C433.02,267.71 434.17,267.89 435.33,268.06 C436.49,268.24 438.22,268.49 438.80,268.57" stroke="#1f77b4" stroke-opacity="0.58" stroke-width="1.10"/>
<path d="M345.00,275.80 C352.75,275.80 383.47,277.07 391.50,275.80 C399.53,274.53 392.68,268.27 393.20,268.20 C393.72,268.13 394.22,276.23 394.60,275.40 C394.98,274.57 394.48,265.40 395.50,263.20 C396.52,261.00 399.58,261.95 400.70,262.20 C401.82,262.45 401.70,264.62 402.20,264.70 C402.70,264.78 403.12,262.70 403.70,262.70 C404.28,262.70 404.81,264.24 405.70,264.70 C406.58,265.16 407.91,265.21 409.01,265.45 C410.11,265.70 411.22,265.93 412.32,266.16 C413.42,266.38 414.53,266.60 415.63,266.82 C416.73,267.03 417.84,267.23 418.94,267.43 C420.04,267.63 421.15,267.82 422.25,268.00 C423.35,268.19 424.46,268.37 425.56,268.54 C426.66,268.71 427.77,268.88 428.87,269.04 C429.97,269.21 431.08,269.36 432.18,269.51 C433.28,269.66 434.39,269.81 435.49,269.95 C436.59,270.09 438.25,270.29 438.80,270.36" stroke="#1f77b4" stroke-opacity="0.58" stroke-width="1.10"/>
<path d="M345.00,275.80 C353.67,275.80 387.83,276.40 397.00,275.80 C406.17,275.20 399.08,272.33 400.00,272.20 C400.92,272.07 396.12,274.53 402.50,275.00 C408.88,275.47 432.33,275.00 438.30,275.00" stroke="#ff7f0e" stroke-opacity="0.49" stroke-width="1.20"/>
</g>
<g clip-path="url(#cp33)" fill="none" stroke-linejoin="round" stroke-linecap="butt">
<path d="M481.00,270.64 C481.46,270.64 482.88,270.07 483.73,270.64 C484.58,271.22 485.31,273.89 486.10,274.09 C486.89,274.28 487.70,272.78 488.46,271.81 C489.22,270.84 489.96,268.72 490.68,268.27 C491.39,267.82 492.05,269.09 492.77,269.10 C493.48,269.11 494.07,267.77 494.98,268.35 C495.90,268.94 497.33,272.17 498.26,272.61 C499.19,273.05 499.67,270.85 500.56,271.00 C501.45,271.15 503.09,273.10 503.60,273.52" stroke="#b0b0b0" stroke-opacity="0.24" stroke-width="1.10"/>
<path d="M481.00,273.20 C481.44,272.61 482.77,269.74 483.67,269.66 C484.56,269.59 485.50,272.01 486.35,272.74 C487.21,273.46 487.99,274.72 488.82,274.01 C489.65,273.31 490.56,269.02 491.34,268.50 C492.13,267.98 492.72,270.65 493.52,270.90 C494.32,271.14 495.20,270.29 496.15,269.96 C497.11,269.63 498.30,268.52 499.25,268.90 C500.20,269.28 500.87,272.02 501.85,272.22 C502.83,272.42 504.59,270.46 505.14,270.10" stroke="#b0b0b0" stroke-opacity="0.24" stroke-width="1.10"/>
<path d="M481.00,270.61 C481.39,270.77 482.41,271.82 483.37,271.55 C484.33,271.29 485.70,269.25 486.78,269.01 C487.86,268.77 488.92,269.78 489.85,270.12 C490.79,270.46 491.56,271.11 492.39,271.07 C493.22,271.03 494.01,270.11 494.83,269.89 C495.65,269.67 496.52,269.73 497.31,269.76 C498.10,269.79 498.70,269.74 499.59,270.08 C500.48,270.43 501.68,271.48 502.64,271.83 C503.59,272.19 504.86,272.15 505.31,272.22" stroke="#b0b0b0" stroke-opacity="0.24" stroke-width="1.10"/>
<path d="M481.00,274.49 C481.37,274.51 482.39,274.45 483.21,274.63 C484.04,274.81 485.03,275.63 485.95,275.59 C486.88,275.56 487.82,274.94 488.77,274.44 C489.72,273.93 490.74,272.95 491.67,272.55 C492.60,272.15 493.59,272.21 494.35,272.04 C495.12,271.86 495.49,271.34 496.28,271.50 C497.08,271.66 498.15,272.43 499.10,272.98 C500.06,273.52 501.19,274.96 502.03,274.77 C502.87,274.58 503.79,272.34 504.14,271.85" stroke="#1f77b4" stroke-opacity="0.55" stroke-width="1.10"/>
<path d="M481.00,273.29 C481.37,273.53 482.42,274.97 483.21,274.77 C484.00,274.58 484.86,272.11 485.73,272.12 C486.61,272.13 487.61,274.60 488.44,274.83 C489.27,275.07 489.98,273.58 490.70,273.54 C491.42,273.50 492.02,274.73 492.76,274.58 C493.51,274.44 494.33,272.83 495.19,272.68 C496.05,272.54 497.02,273.90 497.93,273.71 C498.83,273.52 499.68,271.73 500.62,271.52 C501.57,271.31 503.11,272.31 503.61,272.47" stroke="#1f77b4" stroke-opacity="0.55" stroke-width="1.10"/>
<path d="M481.00,273.85 C481.42,273.66 482.67,272.46 483.49,272.71 C484.31,272.96 485.01,274.99 485.91,275.36 C486.81,275.72 487.95,275.44 488.89,274.89 C489.83,274.34 490.70,272.31 491.56,272.05 C492.42,271.80 493.13,273.11 494.05,273.36 C494.96,273.62 496.18,273.29 497.04,273.59 C497.90,273.89 498.35,275.50 499.20,275.17 C500.04,274.85 501.18,272.22 502.11,271.63 C503.04,271.05 504.35,271.67 504.80,271.68" stroke="#1f77b4" stroke-opacity="0.55" stroke-width="1.10"/>
<path d="M481.00,274.06 C481.51,273.67 483.13,271.63 484.06,271.74 C485.00,271.86 485.72,274.65 486.63,274.75 C487.53,274.84 488.59,272.44 489.47,272.33 C490.35,272.22 490.94,273.76 491.89,274.10 C492.83,274.44 494.13,274.84 495.15,274.37 C496.16,273.89 497.13,271.13 497.96,271.26 C498.80,271.38 499.39,274.59 500.18,275.11 C500.96,275.63 501.80,274.44 502.67,274.38 C503.53,274.32 504.90,274.69 505.34,274.76" stroke="#ff7f0e" stroke-opacity="0.35" stroke-width="1.10"/>
<path d="M481.00,273.82 C481.35,273.64 482.35,272.73 483.09,272.70 C483.83,272.67 484.64,273.83 485.42,273.66 C486.20,273.49 487.02,271.90 487.76,271.67 C488.50,271.44 488.96,272.24 489.85,272.26 C490.75,272.29 492.08,271.99 493.12,271.83 C494.16,271.67 495.14,270.97 496.12,271.31 C497.09,271.66 497.99,273.91 498.97,273.91 C499.95,273.91 501.07,271.39 501.99,271.31 C502.91,271.23 504.08,273.07 504.50,273.42" stroke="#ff7f0e" stroke-opacity="0.35" stroke-width="1.10"/>
<path d="M481.00,273.20 C484.33,273.03 496.58,273.03 501.00,272.20 C505.42,271.37 505.73,273.65 507.50,268.20 C509.27,262.75 510.35,244.83 511.60,239.50 C512.85,234.17 513.83,237.48 515.00,236.20 C516.17,234.92 517.32,231.23 518.60,231.80 C519.88,232.37 521.63,238.45 522.70,239.60 C523.77,240.75 523.73,238.30 525.00,238.70 C526.27,239.10 529.03,241.68 530.30,242.00 C531.57,242.32 531.65,239.57 532.60,240.60 C533.55,241.63 534.60,245.47 536.00,248.20 C537.40,250.93 538.80,254.17 541.00,257.00 C543.20,259.83 546.70,262.67 549.20,265.20 C551.70,267.73 551.82,270.62 556.00,272.20 C560.18,273.78 571.25,274.28 574.30,274.70" stroke="#b0b0b0" stroke-opacity="0.35" stroke-width="1.10"/>
<path d="M481.00,273.20 C485.33,272.37 501.83,272.03 507.00,268.20 C512.17,264.37 510.00,253.87 512.00,250.20 C514.00,246.53 516.67,247.53 519.00,246.20 C521.33,244.87 523.67,242.37 526.00,242.20 C528.33,242.03 530.50,242.53 533.00,245.20 C535.50,247.87 538.67,254.37 541.00,258.20 C543.33,262.03 541.45,265.45 547.00,268.20 C552.55,270.95 569.75,273.62 574.30,274.70" stroke="#b0b0b0" stroke-opacity="0.28" stroke-width="1.10"/>
<path d="M481.00,273.20 C485.33,272.70 501.67,273.37 507.00,270.20 C512.33,267.03 511.00,257.20 513.00,254.20 C515.00,251.20 517.00,253.20 519.00,252.20 C521.00,251.20 523.00,248.53 525.00,248.20 C527.00,247.87 528.67,248.03 531.00,250.20 C533.33,252.37 536.67,257.87 539.00,261.20 C541.33,264.53 539.12,267.95 545.00,270.20 C550.88,272.45 569.42,273.95 574.30,274.70" stroke="#b0b0b0" stroke-opacity="0.28" stroke-width="1.10"/>
<path d="M481.00,273.20 C485.00,272.70 500.00,272.70 505.00,270.20 C510.00,267.70 509.00,260.70 511.00,258.20 C513.00,255.70 514.67,255.53 517.00,255.20 C519.33,254.87 522.33,256.70 525.00,256.20 C527.67,255.70 530.00,250.87 533.00,252.20 C536.00,253.53 540.33,260.87 543.00,264.20 C545.67,267.53 543.78,270.45 549.00,272.20 C554.22,273.95 570.08,274.28 574.30,274.70" stroke="#b0b0b0" stroke-opacity="0.28" stroke-width="1.10"/>
<path d="M481.00,273.20 C485.00,273.03 499.83,275.70 505.00,272.20 C510.17,268.70 510.00,254.53 512.00,252.20 C514.00,249.87 515.17,256.87 517.00,258.20 C518.83,259.53 520.67,260.20 523.00,260.20 C525.33,260.20 528.67,257.53 531.00,258.20 C533.33,258.87 535.00,261.87 537.00,264.20 C539.00,266.53 536.78,270.45 543.00,272.20 C549.22,273.95 569.08,274.28 574.30,274.70" stroke="#b0b0b0" stroke-opacity="0.28" stroke-width="1.10"/>
<path d="M481.00,273.20 C484.67,273.03 498.33,273.70 503.00,272.20 C507.67,270.70 506.67,265.87 509.00,264.20 C511.33,262.53 514.33,262.20 517.00,262.20 C519.67,262.20 522.33,264.03 525.00,264.20 C527.67,264.37 530.33,262.53 533.00,263.20 C535.67,263.87 538.00,266.37 541.00,268.20 C544.00,270.03 545.45,273.12 551.00,274.20 C556.55,275.28 570.42,274.62 574.30,274.70" stroke="#b0b0b0" stroke-opacity="0.28" stroke-width="1.10"/>
<path d="M481.00,273.20 C484.67,273.20 498.50,275.70 503.00,273.20 C507.50,270.70 506.17,259.70 508.00,258.20 C509.83,256.70 511.83,262.87 514.00,264.20 C516.17,265.53 518.50,265.87 521.00,266.20 C523.50,266.53 526.50,265.53 529.00,266.20 C531.50,266.87 533.00,268.87 536.00,270.20 C539.00,271.53 540.62,273.45 547.00,274.20 C553.38,274.95 569.75,274.62 574.30,274.70" stroke="#b0b0b0" stroke-opacity="0.28" stroke-width="1.10"/>
<path d="M481.00,275.00 C482.67,274.83 488.00,274.00 491.00,274.00 C494.00,274.00 497.00,275.50 499.00,275.00 C501.00,274.50 501.92,272.67 503.00,271.00 C504.08,269.33 504.75,266.62 505.50,265.00 C506.25,263.38 506.92,261.30 507.50,261.30 C508.08,261.30 508.50,263.38 509.00,265.00 C509.50,266.62 510.00,270.67 510.50,271.00 C511.00,271.33 511.42,267.33 512.00,267.00 C512.58,266.67 513.33,269.33 514.00,269.00 C514.67,268.67 515.33,265.00 516.00,265.00 C516.67,265.00 517.25,268.83 518.00,269.00 C518.75,269.17 519.67,265.67 520.50,266.00 C521.33,266.33 522.08,269.83 523.00,271.00 C523.92,272.17 525.00,272.33 526.00,273.00 C527.00,273.67 527.33,274.50 529.00,275.00 C530.67,275.50 528.45,275.83 536.00,276.00 C543.55,276.17 567.92,276.00 574.30,276.00" stroke="#1f77b4" stroke-opacity="0.58" stroke-width="1.10"/>
<path d="M481.00,276.00 C484.00,275.92 495.50,276.17 499.00,275.50 C502.50,274.83 501.00,273.42 502.00,272.00 C503.00,270.58 504.17,268.50 505.00,267.00 C505.83,265.50 506.42,262.67 507.00,263.00 C507.58,263.33 508.00,267.33 508.50,269.00 C509.00,270.67 509.42,272.83 510.00,273.00 C510.58,273.17 511.33,270.00 512.00,270.00 C512.67,270.00 513.17,273.17 514.00,273.00 C514.83,272.83 516.17,269.33 517.00,269.00 C517.83,268.67 518.17,270.17 519.00,271.00 C519.83,271.83 520.67,273.25 522.00,274.00 C523.33,274.75 518.28,275.17 527.00,275.50 C535.72,275.83 566.42,275.92 574.30,276.00" stroke="#1f77b4" stroke-opacity="0.58" stroke-width="1.10"/>
<path d="M481.00,275.00 C483.67,275.00 493.67,275.33 497.00,275.00 C500.33,274.67 499.67,273.83 501.00,273.00 C502.33,272.17 503.92,271.50 505.00,270.00 C506.08,268.50 506.67,264.67 507.50,264.00 C508.33,263.33 509.08,264.67 510.00,266.00 C510.92,267.33 512.00,271.33 513.00,272.00 C514.00,272.67 515.00,269.83 516.00,270.00 C517.00,270.17 517.83,272.67 519.00,273.00 C520.17,273.33 521.67,271.83 523.00,272.00 C524.33,272.17 525.67,273.33 527.00,274.00 C528.33,274.67 523.12,275.67 531.00,276.00 C538.88,276.33 567.08,276.00 574.30,276.00" stroke="#1f77b4" stroke-opacity="0.58" stroke-width="1.10"/>
<path d="M481.00,274.20 C484.00,274.03 495.57,273.95 499.00,273.20 C502.43,272.45 500.77,269.87 501.60,269.70 C502.43,269.53 503.02,272.78 504.00,272.20 C504.98,271.62 506.58,266.20 507.50,266.20 C508.42,266.20 508.58,270.87 509.50,272.20 C510.42,273.53 502.20,273.78 513.00,274.20 C523.80,274.62 564.08,274.62 574.30,274.70" stroke="#ff7f0e" stroke-opacity="0.45" stroke-width="1.10"/>
<path d="M481.00,275.20 C488.83,275.20 519.00,275.37 528.00,275.20 C537.00,275.03 532.50,275.28 535.00,274.20 C537.50,273.12 539.83,270.12 543.00,268.70 C546.17,267.28 550.33,266.07 554.00,265.70 C557.67,265.33 561.62,266.08 565.00,266.50 C568.38,266.92 572.75,267.92 574.30,268.20" stroke="#1f77b4" stroke-opacity="0.55" stroke-width="1.10"/>
<path d="M481.00,275.20 C489.00,275.20 520.00,275.37 529.00,275.20 C538.00,275.03 532.67,274.98 535.00,274.20 C537.33,273.42 539.83,271.62 543.00,270.50 C546.17,269.38 550.33,267.87 554.00,267.50 C557.67,267.13 561.62,267.95 565.00,268.30 C568.38,268.65 572.75,269.38 574.30,269.60" stroke="#1f77b4" stroke-opacity="0.55" stroke-width="1.10"/>
<path d="M481.00,275.20 C489.17,275.20 521.00,275.37 530.00,275.20 C539.00,275.03 532.83,274.68 535.00,274.20 C537.17,273.72 539.83,273.12 543.00,272.30 C546.17,271.48 550.33,269.67 554.00,269.30 C557.67,268.93 561.62,269.82 565.00,270.10 C568.38,270.38 572.75,270.85 574.30,271.00" stroke="#1f77b4" stroke-opacity="0.55" stroke-width="1.10"/>
<path d="M481.00,275.20 C489.33,275.20 522.00,275.37 531.00,275.20 C540.00,275.03 533.00,274.38 535.00,274.20 C537.00,274.02 539.83,274.62 543.00,274.10 C546.17,273.58 550.33,271.47 554.00,271.10 C557.67,270.73 561.62,271.68 565.00,271.90 C568.38,272.12 572.75,272.32 574.30,272.40" stroke="#1f77b4" stroke-opacity="0.55" stroke-width="1.10"/>
<path d="M481.00,275.20 C490.00,275.20 524.67,275.28 535.00,275.20 C545.33,275.12 539.50,275.03 543.00,274.70 C546.50,274.37 550.78,273.48 556.00,273.20 C561.22,272.92 571.25,273.03 574.30,273.00" stroke="#ff7f0e" stroke-opacity="0.56" stroke-width="1.30"/>
<path d="M481.00,275.20 C490.00,275.28 524.67,275.70 535.00,275.70 C545.33,275.70 539.50,275.45 543.00,275.20 C546.50,274.95 550.78,274.37 556.00,274.20 C561.22,274.03 571.25,274.20 574.30,274.20" stroke="#1f77b4" stroke-opacity="0.39" stroke-width="1.10"/>
</g>
<g clip-path="url(#cp40)" fill="none" stroke-linejoin="round" stroke-linecap="butt">
<path d="M91.40,322.75 L92.30,334.65 L93.50,331.07 L95.40,329.15 L120.80,329.15 L121.60,330.43 L122.30,323.39 L123.50,322.75" stroke="#b0b0b0" stroke-opacity="0.32" stroke-width="1.10"/>
<path d="M91.40,322.75 L92.30,335.65 L93.85,332.40 L95.80,330.65 L120.80,330.65 L121.60,332.23 L122.30,323.54 L123.50,322.75" stroke="#b0b0b0" stroke-opacity="0.32" stroke-width="1.10"/>
<path d="M91.40,322.75 L92.30,336.65 L94.20,333.72 L96.20,332.15 L120.80,332.15 L121.60,334.03 L122.30,323.69 L123.50,322.75" stroke="#b0b0b0" stroke-opacity="0.32" stroke-width="1.10"/>
<path d="M91.40,322.75 L92.30,337.65 L94.55,334.98 L96.60,333.55 L120.80,333.55 L121.60,335.71 L122.30,323.83 L123.50,322.75" stroke="#b0b0b0" stroke-opacity="0.32" stroke-width="1.10"/>
<path d="M91.40,322.75 L92.30,299.15 L93.50,306.82 L95.40,310.95 L120.80,310.95 L121.60,308.59 L122.30,321.57 L123.50,322.75" stroke="#1f77b4" stroke-opacity="0.58" stroke-width="1.20"/>
<path d="M91.40,322.75 L92.30,302.65 L93.85,309.15 L95.80,312.65 L120.80,312.65 L121.60,310.63 L122.30,321.74 L123.50,322.75" stroke="#1f77b4" stroke-opacity="0.58" stroke-width="1.20"/>
<path d="M91.40,322.75 L92.30,306.65 L94.20,311.65 L96.20,314.35 L120.80,314.35 L121.60,312.67 L122.30,321.91 L123.50,322.75" stroke="#1f77b4" stroke-opacity="0.58" stroke-width="1.20"/>
<path d="M91.40,322.75 L92.30,308.65 L94.55,313.52 L96.60,316.15 L120.80,316.15 L121.60,314.83 L122.30,322.09 L123.50,322.75" stroke="#1f77b4" stroke-opacity="0.58" stroke-width="1.20"/>
<path d="M91.40,322.75 L92.30,310.65 L94.90,315.33 L97.00,317.85 L120.80,317.85 L121.60,316.87 L122.30,322.26 L123.50,322.75" stroke="#1f77b4" stroke-opacity="0.58" stroke-width="1.20"/>
<path d="M91.40,322.75 L92.30,312.65 L95.25,317.20 L97.40,319.65 L120.80,319.65 L121.60,319.03 L122.30,322.44 L123.50,322.75" stroke="#1f77b4" stroke-opacity="0.58" stroke-width="1.20"/>
<path d="M91.40,322.75 L92.30,314.65 L95.60,318.75 L97.80,320.95 L120.80,320.95 L121.60,320.59 L122.30,322.57 L123.50,322.75" stroke="#1f77b4" stroke-opacity="0.58" stroke-width="1.20"/>
<path d="M73.50,322.75 L121.00,322.75 L121.50,308.25 L122.50,318.65 L124.00,324.65 L125.50,322.75 L166.80,322.75" stroke="#1f77b4" stroke-opacity="0.55" stroke-width="1.20"/>
<path d="M91.40,322.75 L92.30,328.65 L93.50,326.70 L95.40,325.65 L120.80,325.65 L121.60,326.23 L122.30,323.04 L123.50,322.75" stroke="#ff7f0e" stroke-opacity="0.52" stroke-width="1.20"/>
<path d="M91.40,322.75 L92.30,331.65 L93.85,329.44 L95.80,328.25 L120.80,328.25 L121.60,329.35 L122.30,323.30 L123.50,322.75" stroke="#ff7f0e" stroke-opacity="0.52" stroke-width="1.20"/>
<path d="M91.40,322.75 L92.30,336.95 L94.20,336.43 L96.20,336.15 L120.80,336.15 L121.60,338.83 L122.30,324.09 L123.50,322.75" stroke="#ff7f0e" stroke-opacity="0.52" stroke-width="1.20"/>
<path d="M73.50,322.75 L166.80,322.75" stroke="#f5a05a" stroke-opacity="1.00" stroke-width="1.30"/>
</g>
<g clip-path="url(#cp41)" fill="none" stroke-linejoin="round" stroke-linecap="butt">
<path d="M227.30,322.75 L228.20,343.05 L229.40,332.91 L231.30,327.45 L256.50,327.45 L257.30,328.39 L261.20,322.75" stroke="#b0b0b0" stroke-opacity="0.32" stroke-width="1.10"/>
<path d="M227.30,322.75 L228.20,320.65 L229.40,319.67 L231.30,319.15 L256.50,319.15 L257.30,318.43 L261.20,322.75" stroke="#b0b0b0" stroke-opacity="0.24" stroke-width="1.10"/>
<path d="M227.30,322.75 L228.20,322.65 L229.75,321.67 L231.70,321.15 L256.50,321.15 L257.30,320.83 L261.20,322.75" stroke="#b0b0b0" stroke-opacity="0.24" stroke-width="1.10"/>
<path d="M227.30,322.75 L228.20,312.65 L229.40,314.92 L231.30,316.15 L256.50,316.15 L257.30,314.83 L261.20,322.75" stroke="#1f77b4" stroke-opacity="0.51" stroke-width="1.20"/>
<path d="M227.30,322.75 L228.20,313.65 L229.75,316.38 L231.70,317.85 L256.50,317.85 L257.30,316.87 L261.20,322.75" stroke="#1f77b4" stroke-opacity="0.51" stroke-width="1.20"/>
<path d="M227.30,322.75 L228.20,314.65 L230.10,317.90 L232.10,319.65 L256.50,319.65 L257.30,319.03 L261.20,322.75" stroke="#1f77b4" stroke-opacity="0.51" stroke-width="1.20"/>
<path d="M209.20,322.75 L227.80,322.75 L228.60,329.65 L230.20,324.85 L256.70,324.85 L257.30,315.25 L259.00,332.65 L260.70,325.65 L262.20,321.15 L264.20,322.75 L302.50,322.75" stroke="#ff7f0e" stroke-opacity="0.56" stroke-width="1.20"/>
<path d="M209.20,322.75 L302.50,322.75" stroke="#1f77b4" stroke-opacity="0.70" stroke-width="1.50"/>
</g>
<g clip-path="url(#cp42)" fill="none" stroke-linejoin="round" stroke-linecap="butt">
<path d="M345.00,322.85 C348.08,322.85 360.00,320.28 363.50,322.85 C367.00,325.42 365.33,337.28 366.00,338.25 C366.67,339.22 366.83,330.92 367.50,328.65 C368.17,326.38 368.75,325.23 370.00,324.65 C371.25,324.07 372.50,325.15 375.00,325.15 C377.50,325.15 382.00,324.82 385.00,324.65 C388.00,324.48 391.17,324.45 393.00,324.15 C394.83,323.85 388.45,323.07 396.00,322.85 C403.55,322.63 431.25,322.85 438.30,322.85" stroke="#b0b0b0" stroke-opacity="0.32" stroke-width="1.10"/>
<path d="M345.00,322.85 C348.33,322.85 361.17,323.38 365.00,322.85 C368.83,322.32 366.67,320.10 368.00,319.65 C369.33,319.20 370.83,319.98 373.00,320.15 C375.17,320.32 378.00,320.48 381.00,320.65 C384.00,320.82 388.67,320.78 391.00,321.15 C393.33,321.52 387.12,322.57 395.00,322.85 C402.88,323.13 431.08,322.85 438.30,322.85" stroke="#b0b0b0" stroke-opacity="0.28" stroke-width="1.10"/>
<path d="M345.00,322.85 C348.33,322.85 361.00,322.22 365.00,322.85 C369.00,323.48 367.33,326.10 369.00,326.65 C370.67,327.20 372.33,326.32 375.00,326.15 C377.67,325.98 382.00,325.82 385.00,325.65 C388.00,325.48 391.17,325.62 393.00,325.15 C394.83,324.68 388.45,323.23 396.00,322.85 C403.55,322.47 431.25,322.85 438.30,322.85" stroke="#b0b0b0" stroke-opacity="0.28" stroke-width="1.10"/>
<path d="M345.00,322.85 C348.15,322.85 360.48,324.22 363.90,322.85 C367.32,321.48 364.90,316.72 365.50,314.65 C366.10,312.58 366.93,311.08 367.50,310.45 C368.07,309.82 368.40,309.48 368.90,310.85 C369.40,312.22 369.98,315.97 370.50,318.65 C371.02,321.33 371.42,325.28 372.00,326.95 C372.58,328.62 373.08,328.87 374.00,328.65 C374.92,328.43 375.67,326.35 377.50,325.65 C379.33,324.95 382.75,324.68 385.00,324.45 C387.25,324.22 389.67,324.47 391.00,324.25 C392.33,324.03 385.12,323.38 393.00,323.15 C400.88,322.92 430.75,322.90 438.30,322.85" stroke="#1f77b4" stroke-opacity="0.62" stroke-width="1.20"/>
<path d="M345.00,322.85 C348.25,322.85 360.92,323.88 364.50,322.85 C368.08,321.82 365.87,318.52 366.50,316.65 C367.13,314.78 367.72,311.82 368.30,311.65 C368.88,311.48 369.30,315.07 370.00,315.65 C370.70,316.23 371.58,314.98 372.50,315.15 C373.42,315.32 374.68,316.07 375.50,316.65 C376.32,317.23 376.22,318.60 377.40,318.65 C378.58,318.70 381.17,317.02 382.60,316.95 C384.03,316.88 384.27,318.03 386.00,318.25 C387.73,318.47 391.50,317.77 393.00,318.25 C394.50,318.73 393.83,320.58 395.00,321.15 C396.17,321.72 396.67,321.50 400.00,321.65 C403.33,321.80 408.62,321.92 415.00,322.05 C421.38,322.18 434.42,322.38 438.30,322.45" stroke="#1f77b4" stroke-opacity="0.62" stroke-width="1.20"/>
<path d="M345.00,322.85 C348.42,322.85 361.75,323.38 365.50,322.85 C369.25,322.32 366.67,319.85 367.50,319.65 C368.33,319.45 369.25,321.57 370.50,321.65 C371.75,321.73 373.25,320.48 375.00,320.15 C376.75,319.82 378.67,319.70 381.00,319.65 C383.33,319.60 386.92,319.77 389.00,319.85 C391.08,319.93 392.33,319.85 393.50,320.15 C394.67,320.45 394.08,321.37 396.00,321.65 C397.92,321.93 397.95,321.70 405.00,321.85 C412.05,322.00 432.75,322.43 438.30,322.55" stroke="#1f77b4" stroke-opacity="0.55" stroke-width="1.10"/>
<path d="M345.00,322.85 C348.42,322.85 361.67,322.55 365.50,322.85 C369.33,323.15 366.92,324.52 368.00,324.65 C369.08,324.78 370.17,323.73 372.00,323.65 C373.83,323.57 376.17,324.15 379.00,324.15 C381.83,324.15 386.50,323.80 389.00,323.65 C391.50,323.50 385.78,323.38 394.00,323.25 C402.22,323.12 430.92,322.92 438.30,322.85" stroke="#1f77b4" stroke-opacity="0.47" stroke-width="1.10"/>
<path d="M345.00,322.85 L362.80,322.85 L363.50,318.25 L365.20,333.95 L367.40,326.15 L369.00,323.65 L392.00,323.65 L395.70,325.25 L397.50,322.85 L438.30,322.85" stroke="#ff7f0e" stroke-opacity="0.52" stroke-width="1.10"/>
<path d="M345.00,322.85 L438.30,322.85" stroke="#1f77b4" stroke-opacity="0.70" stroke-width="1.50"/>
</g>
<g clip-path="url(#cp43)" fill="none" stroke-linejoin="round" stroke-linecap="butt">
<path d="M481.00,322.85 C484.33,322.85 497.17,323.72 501.00,322.85 C504.83,321.98 503.00,319.68 504.00,317.65 C505.00,315.62 506.07,312.78 507.00,310.65 C507.93,308.52 508.85,301.85 509.60,304.85 C510.35,307.85 510.77,327.35 511.50,328.65 C512.23,329.95 513.13,317.08 514.00,312.65 C514.87,308.22 515.87,300.72 516.70,302.05 C517.53,303.38 518.28,316.22 519.00,320.65 C519.72,325.08 520.17,328.48 521.00,328.65 C521.83,328.82 522.33,323.15 524.00,321.65 C525.67,320.15 528.83,320.15 531.00,319.65 C533.17,319.15 534.33,318.65 537.00,318.65 C539.67,318.65 543.00,319.15 547.00,319.65 C551.00,320.15 556.45,321.23 561.00,321.65 C565.55,322.07 572.08,322.07 574.30,322.15" stroke="#b0b0b0" stroke-opacity="0.32" stroke-width="1.10"/>
<path d="M481.00,322.85 C484.33,322.85 497.00,322.22 501.00,322.85 C505.00,323.48 503.83,327.35 505.00,326.65 C506.17,325.95 507.00,317.72 508.00,318.65 C509.00,319.58 510.17,332.58 511.00,332.25 C511.83,331.92 512.33,317.25 513.00,316.65 C513.67,316.05 514.17,329.65 515.00,328.65 C515.83,327.65 517.00,311.15 518.00,310.65 C519.00,310.15 519.50,323.98 521.00,325.65 C522.50,327.32 524.33,321.57 527.00,320.65 C529.67,319.73 532.17,319.98 537.00,320.15 C541.83,320.32 549.78,321.20 556.00,321.65 C562.22,322.10 571.25,322.65 574.30,322.85" stroke="#b0b0b0" stroke-opacity="0.28" stroke-width="1.10"/>
<path d="M481.00,322.85 C484.33,322.85 497.25,322.55 501.00,322.85 C504.75,323.15 502.67,326.02 503.50,324.65 C504.33,323.28 505.08,313.98 506.00,314.65 C506.92,315.32 508.00,328.48 509.00,328.65 C510.00,328.82 511.00,315.48 512.00,315.65 C513.00,315.82 513.83,329.15 515.00,329.65 C516.17,330.15 517.67,319.48 519.00,318.65 C520.33,317.82 521.33,324.15 523.00,324.65 C524.67,325.15 526.00,322.32 529.00,321.65 C532.00,320.98 533.45,320.45 541.00,320.65 C548.55,320.85 568.75,322.48 574.30,322.85" stroke="#b0b0b0" stroke-opacity="0.21" stroke-width="1.10"/>
<path d="M481.00,322.85 C484.00,322.85 495.67,323.55 499.00,322.85 C502.33,322.15 500.25,319.68 501.00,318.65 C501.75,317.62 502.75,315.48 503.50,316.65 C504.25,317.82 504.87,326.20 505.50,325.65 C506.13,325.10 506.77,313.05 507.30,313.35 C507.83,313.65 508.23,328.08 508.70,327.45 C509.17,326.82 509.55,309.85 510.10,309.55 C510.65,309.25 511.37,326.12 512.00,325.65 C512.63,325.18 513.12,306.13 513.90,306.75 C514.68,307.37 515.85,327.93 516.70,329.35 C517.55,330.77 518.28,315.70 519.00,315.25 C519.72,314.80 520.33,325.58 521.00,326.65 C521.67,327.72 522.00,322.15 523.00,321.65 C524.00,321.15 524.58,322.98 527.00,323.65 C529.42,324.32 534.17,325.73 537.50,325.65 C540.83,325.57 540.87,323.62 547.00,323.15 C553.13,322.68 569.75,322.90 574.30,322.85" stroke="#1f77b4" stroke-opacity="0.62" stroke-width="1.10"/>
<path d="M481.00,322.85 C484.17,322.85 496.50,323.22 500.00,322.85 C503.50,322.48 501.33,320.35 502.00,320.65 C502.67,320.95 503.33,325.15 504.00,324.65 C504.67,324.15 505.33,317.65 506.00,317.65 C506.67,317.65 507.33,324.98 508.00,324.65 C508.67,324.32 509.33,315.15 510.00,315.65 C510.67,316.15 511.33,328.15 512.00,327.65 C512.67,327.15 513.33,312.82 514.00,312.65 C514.67,312.48 515.33,325.65 516.00,326.65 C516.67,327.65 517.33,318.48 518.00,318.65 C518.67,318.82 519.33,326.98 520.00,327.65 C520.67,328.32 520.50,323.48 522.00,322.65 C523.50,321.82 526.50,322.23 529.00,322.65 C531.50,323.07 533.33,325.07 537.00,325.15 C540.67,325.23 544.78,323.53 551.00,323.15 C557.22,322.77 570.42,322.90 574.30,322.85" stroke="#1f77b4" stroke-opacity="0.58" stroke-width="1.10"/>
<path d="M481.00,322.85 C484.25,322.85 496.83,323.05 500.50,322.85 C504.17,322.65 502.25,322.18 503.00,321.65 C503.75,321.12 504.33,319.32 505.00,319.65 C505.67,319.98 506.33,323.48 507.00,323.65 C507.67,323.82 508.33,319.82 509.00,320.65 C509.67,321.48 510.33,328.98 511.00,328.65 C511.67,328.32 512.33,319.15 513.00,318.65 C513.67,318.15 514.33,325.32 515.00,325.65 C515.67,325.98 516.33,320.15 517.00,320.65 C517.67,321.15 518.33,328.15 519.00,328.65 C519.67,329.15 520.00,324.62 521.00,323.65 C522.00,322.68 516.12,322.98 525.00,322.85 C533.88,322.72 566.08,322.85 574.30,322.85" stroke="#1f77b4" stroke-opacity="0.55" stroke-width="1.10"/>
<path d="M481.00,322.85 C484.17,322.85 496.50,322.23 500.00,322.85 C503.50,323.47 501.42,326.25 502.00,326.55 C502.58,326.85 503.00,324.63 503.50,324.65 C504.00,324.67 504.42,326.82 505.00,326.65 C505.58,326.48 506.15,323.20 507.00,323.65 C507.85,324.10 509.27,329.18 510.10,329.35 C510.93,329.52 511.35,325.10 512.00,324.65 C512.65,324.20 513.17,326.82 514.00,326.65 C514.83,326.48 515.00,324.23 517.00,323.65 C519.00,323.07 521.83,323.02 526.00,323.15 C530.17,323.28 537.00,324.45 542.00,324.45 C547.00,324.45 550.62,323.42 556.00,323.15 C561.38,322.88 571.25,322.90 574.30,322.85" stroke="#ff7f0e" stroke-opacity="0.52" stroke-width="1.10"/>
<path d="M481.00,322.85 L574.30,322.85" stroke="#1f77b4" stroke-opacity="0.70" stroke-width="1.50"/>
</g>
<g clip-path="url(#cp50)" fill="none" stroke-linejoin="round" stroke-linecap="butt">
<path d="M91.40,393.10 L92.30,382.70 L93.50,384.39 L95.40,385.30 L120.80,385.30 L121.60,383.74 L125.70,393.10" stroke="#b0b0b0" stroke-opacity="0.39" stroke-width="1.10"/>
<path d="M91.40,393.10 L92.30,384.10 L93.85,385.99 L95.80,387.00 L120.80,387.00 L121.60,385.78 L125.70,393.10" stroke="#b0b0b0" stroke-opacity="0.39" stroke-width="1.10"/>
<path d="M91.40,393.10 L92.30,386.10 L94.20,387.86 L96.20,388.80 L120.80,388.80 L121.60,387.94 L125.70,393.10" stroke="#b0b0b0" stroke-opacity="0.39" stroke-width="1.10"/>
<path d="M91.40,393.10 L92.30,400.10 L94.55,398.41 L96.60,397.50 L120.80,397.50 L121.60,398.38 L125.70,393.10" stroke="#b0b0b0" stroke-opacity="0.39" stroke-width="1.10"/>
<path d="M91.40,393.10 L92.30,401.60 L94.90,400.04 L97.00,399.20 L120.80,399.20 L121.60,400.42 L125.70,393.10" stroke="#b0b0b0" stroke-opacity="0.39" stroke-width="1.10"/>
<path d="M91.40,393.10 L92.30,402.70 L95.25,401.60 L97.40,401.00 L120.80,401.00 L121.60,402.58 L125.70,393.10" stroke="#b0b0b0" stroke-opacity="0.39" stroke-width="1.10"/>
<path d="M91.40,393.10 L92.30,387.10 L93.50,389.31 L95.40,390.50 L120.80,390.50 L121.60,389.98 L125.70,393.10" stroke="#1f77b4" stroke-opacity="0.58" stroke-width="1.20"/>
<path d="M91.40,393.10 L92.30,389.10 L93.85,390.79 L95.80,391.70 L120.80,391.70 L121.60,391.42 L125.70,393.10" stroke="#1f77b4" stroke-opacity="0.58" stroke-width="1.20"/>
<path d="M91.40,393.10 L92.30,399.10 L94.20,396.37 L96.20,394.90 L120.80,394.90 L121.60,395.26 L125.70,393.10" stroke="#1f77b4" stroke-opacity="0.58" stroke-width="1.20"/>
<path d="M91.40,393.10 L92.30,401.00 L94.55,397.95 L96.60,396.30 L120.80,396.30 L121.60,396.94 L125.70,393.10" stroke="#1f77b4" stroke-opacity="0.58" stroke-width="1.20"/>
<path d="M73.50,393.10 L166.80,393.10" stroke="#f5a05a" stroke-opacity="1.00" stroke-width="1.30"/>
<path d="M92.10,393.10 L93.50,391.10 L121.30,392.30 L125.70,393.10" stroke="#ff7f0e" stroke-opacity="0.49" stroke-width="1.10"/>
</g>
<g clip-path="url(#cp51)" fill="none" stroke-linejoin="round" stroke-linecap="butt">
<path d="M227.30,393.10 L228.20,385.10 L229.40,386.40 L231.30,387.10 L257.20,387.10 L258.00,385.90 L260.70,393.10" stroke="#b0b0b0" stroke-opacity="0.42" stroke-width="1.10"/>
<path d="M227.30,393.10 L228.20,386.10 L229.75,387.27 L231.70,387.90 L257.20,387.90 L258.00,386.86 L260.70,393.10" stroke="#b0b0b0" stroke-opacity="0.42" stroke-width="1.10"/>
<path d="M227.30,393.10 L228.20,387.10 L230.10,388.73 L232.10,389.60 L257.20,389.60 L258.00,388.90 L260.70,393.10" stroke="#b0b0b0" stroke-opacity="0.42" stroke-width="1.10"/>
<path d="M227.30,393.10 L228.20,389.10 L230.45,390.60 L232.50,391.40 L257.20,391.40 L258.00,391.06 L260.70,393.10" stroke="#b0b0b0" stroke-opacity="0.42" stroke-width="1.10"/>
<path d="M227.30,393.10 L228.20,396.10 L230.80,395.32 L232.90,394.90 L257.20,394.90 L258.00,395.26 L260.70,393.10" stroke="#b0b0b0" stroke-opacity="0.42" stroke-width="1.10"/>
<path d="M227.30,393.10 L228.20,398.10 L231.15,396.80 L233.30,396.10 L257.20,396.10 L258.00,396.70 L260.70,393.10" stroke="#b0b0b0" stroke-opacity="0.42" stroke-width="1.10"/>
<path d="M227.30,393.10 L228.20,399.10 L231.50,398.06 L233.70,397.50 L257.20,397.50 L258.00,398.38 L260.70,393.10" stroke="#b0b0b0" stroke-opacity="0.42" stroke-width="1.10"/>
<path d="M227.30,393.10 L228.20,400.10 L231.85,399.52 L234.10,399.20 L257.20,399.20 L258.00,400.42 L260.70,393.10" stroke="#b0b0b0" stroke-opacity="0.42" stroke-width="1.10"/>
<path d="M227.30,393.10 L228.20,389.10 L229.40,390.60 L231.30,391.40 L257.20,391.40 L258.00,391.06 L260.20,393.10" stroke="#1f77b4" stroke-opacity="0.58" stroke-width="1.20"/>
<path d="M227.30,393.10 L228.20,398.10 L229.75,396.93 L231.70,396.30 L257.20,396.30 L258.00,396.94 L260.20,393.10" stroke="#1f77b4" stroke-opacity="0.58" stroke-width="1.20"/>
<path d="M209.20,393.10 L257.20,393.10 L259.90,391.60 L261.20,393.60 L262.70,393.10 L302.50,393.10" stroke="#ff7f0e" stroke-opacity="0.56" stroke-width="1.10"/>
<path d="M209.20,393.10 L302.50,393.10" stroke="#1f77b4" stroke-opacity="0.70" stroke-width="1.50"/>
</g>
<g clip-path="url(#cp52)" fill="none" stroke-linejoin="round" stroke-linecap="butt">
<path d="M345.00,393.10 L362.00,393.10 L363.50,388.60 L365.00,390.60 L368.00,389.60 L371.00,390.10 L375.00,389.30 L381.00,389.90 L387.00,389.30 L391.00,390.10 L395.00,391.60 L398.00,393.10 L438.30,393.10" stroke="#b0b0b0" stroke-opacity="0.35" stroke-width="1.10"/>
<path d="M345.00,393.10 L362.00,393.10 L363.50,397.60 L365.00,395.10 L367.00,397.90 L370.00,395.60 L375.00,396.10 L381.00,395.60 L387.00,395.90 L392.00,395.10 L396.00,394.10 L438.30,393.10" stroke="#b0b0b0" stroke-opacity="0.35" stroke-width="1.10"/>
<path d="M345.00,393.10 L363.00,393.10 L365.00,391.60 L369.00,391.10 L375.00,391.40 L383.00,390.90 L391.00,391.50 L394.00,392.10 L438.30,393.10" stroke="#b0b0b0" stroke-opacity="0.32" stroke-width="1.10"/>
<path d="M345.00,393.10 L362.50,393.10 L363.30,389.60 L364.00,396.60 L365.00,393.10 L438.30,393.10" stroke="#1f77b4" stroke-opacity="0.47" stroke-width="1.10"/>
<path d="M345.00,393.10 C348.00,393.10 359.33,393.30 363.00,393.10 C366.67,392.90 364.17,392.03 367.00,391.90 C369.83,391.77 375.58,392.22 380.00,392.30 C384.42,392.38 390.92,392.67 393.50,392.40 C396.08,392.13 394.83,390.55 395.50,390.70 C396.17,390.85 396.92,393.07 397.50,393.30 C398.08,393.53 398.42,392.25 399.00,392.10 C399.58,391.95 394.45,392.33 401.00,392.40 C407.55,392.47 432.08,392.48 438.30,392.50" stroke="#1f77b4" stroke-opacity="0.62" stroke-width="1.30"/>
<path d="M345.00,393.10 C348.00,393.10 359.33,392.93 363.00,393.10 C366.67,393.27 364.17,394.00 367.00,394.10 C369.83,394.20 375.58,393.78 380.00,393.70 C384.42,393.62 390.83,393.48 393.50,393.60 C396.17,393.72 394.75,394.42 396.00,394.40 C397.25,394.38 393.95,393.67 401.00,393.50 C408.05,393.33 432.08,393.42 438.30,393.40" stroke="#1f77b4" stroke-opacity="0.62" stroke-width="1.30"/>
<path d="M345.00,393.10 L438.30,393.10" stroke="#1f77b4" stroke-opacity="0.70" stroke-width="1.30"/>
</g>
<g clip-path="url(#cp53)" fill="none" stroke-linejoin="round" stroke-linecap="butt">
<path d="M481.00,393.00 C485.33,393.00 502.25,394.23 507.00,393.00 C511.75,391.77 508.02,387.25 509.50,385.60 C510.98,383.95 514.15,382.90 515.90,383.10 C517.65,383.30 518.82,386.13 520.00,386.80 C521.18,387.47 521.58,386.58 523.00,387.10 C524.42,387.62 526.73,389.78 528.50,389.90 C530.27,390.02 531.88,387.80 533.60,387.80 C535.32,387.80 537.07,389.03 538.80,389.90 C540.53,390.77 538.08,392.48 544.00,393.00 C549.92,393.52 569.25,393.00 574.30,393.00" stroke="#b0b0b0" stroke-opacity="0.32" stroke-width="1.10"/>
<path d="M481.00,393.00 C485.67,393.00 504.05,393.87 509.00,393.00 C513.95,392.13 509.20,389.02 510.70,387.80 C512.20,386.58 516.12,385.52 518.00,385.70 C519.88,385.88 520.58,388.37 522.00,388.90 C523.42,389.43 524.42,388.90 526.50,388.90 C528.58,388.90 532.08,388.53 534.50,388.90 C536.92,389.27 538.92,390.42 541.00,391.10 C543.08,391.78 541.45,392.68 547.00,393.00 C552.55,393.32 569.75,393.00 574.30,393.00" stroke="#b0b0b0" stroke-opacity="0.28" stroke-width="1.10"/>
<path d="M481.00,393.00 C484.00,393.00 494.75,393.78 499.00,393.00 C503.25,392.22 504.55,388.47 506.50,388.30 C508.45,388.13 509.57,391.73 510.70,392.00 C511.83,392.27 512.42,389.82 513.30,389.90 C514.18,389.98 514.05,392.23 516.00,392.50 C517.95,392.77 520.17,391.58 525.00,391.50 C529.83,391.42 541.17,392.08 545.00,392.00 C548.83,391.92 543.12,391.17 548.00,391.00 C552.88,390.83 569.92,391.00 574.30,391.00" stroke="#1f77b4" stroke-opacity="0.62" stroke-width="1.20"/>
<path d="M481.00,393.00 C484.33,393.00 496.93,393.52 501.00,393.00 C505.07,392.48 504.13,389.90 505.40,389.90 C506.67,389.90 507.50,392.72 508.60,393.00 C509.70,393.28 510.60,391.60 512.00,391.60 C513.40,391.60 506.62,392.77 517.00,393.00 C527.38,393.23 564.75,393.00 574.30,393.00" stroke="#1f77b4" stroke-opacity="0.47" stroke-width="1.10"/>
<path d="M481.00,393.00 L498.50,393.00 L499.70,391.50 L503.40,395.70 L506.00,393.30 L509.60,395.10 L511.50,393.00 L531.00,393.00 L533.10,394.60 L535.00,393.00 L574.30,393.00" stroke="#ff7f0e" stroke-opacity="0.52" stroke-width="1.10"/>
<path d="M481.00,393.00 L574.30,393.00" stroke="#1f77b4" stroke-opacity="0.70" stroke-width="1.50"/>
</g>
<g fill="none" stroke="#222" stroke-width="1.05">
<rect x="73.5" y="17.0" width="93.3" height="48.4"/>
<line x1="71.90" y1="65.40" x2="73.5" y2="65.40"/>
<line x1="71.90" y1="35.67" x2="73.5" y2="35.67"/>
<line x1="92.16" y1="65.4" x2="92.16" y2="67.00"/>
<line x1="138.81" y1="65.4" x2="138.81" y2="67.00"/>
<rect x="209.2" y="17.0" width="93.3" height="48.4"/>
<line x1="207.60" y1="65.40" x2="209.2" y2="65.40"/>
<line x1="207.60" y1="30.83" x2="209.2" y2="30.83"/>
<line x1="227.86" y1="65.4" x2="227.86" y2="67.00"/>
<line x1="274.51" y1="65.4" x2="274.51" y2="67.00"/>
<rect x="345.0" y="17.0" width="93.3" height="48.4"/>
<line x1="343.40" y1="65.40" x2="345.0" y2="65.40"/>
<line x1="343.40" y1="30.48" x2="345.0" y2="30.48"/>
<line x1="363.66" y1="65.4" x2="363.66" y2="67.00"/>
<line x1="410.31" y1="65.4" x2="410.31" y2="67.00"/>
<rect x="481.0" y="17.0" width="93.3" height="48.4"/>
<line x1="479.40" y1="65.40" x2="481.0" y2="65.40"/>
<line x1="479.40" y1="26.68" x2="481.0" y2="26.68"/>
<line x1="499.66" y1="65.4" x2="499.66" y2="67.00"/>
<line x1="546.31" y1="65.4" x2="546.31" y2="67.00"/>
<rect x="73.5" y="87.4" width="93.3" height="48.4"/>
<line x1="71.90" y1="135.80" x2="73.5" y2="135.80"/>
<line x1="71.90" y1="106.07" x2="73.5" y2="106.07"/>
<line x1="92.16" y1="135.8" x2="92.16" y2="137.40"/>
<line x1="138.81" y1="135.8" x2="138.81" y2="137.40"/>
<rect x="209.2" y="87.4" width="93.3" height="48.4"/>
<line x1="207.60" y1="135.80" x2="209.2" y2="135.80"/>
<line x1="207.60" y1="101.23" x2="209.2" y2="101.23"/>
<line x1="227.86" y1="135.8" x2="227.86" y2="137.40"/>
<line x1="274.51" y1="135.8" x2="274.51" y2="137.40"/>
<rect x="345.0" y="87.4" width="93.3" height="48.4"/>
<line x1="343.40" y1="135.80" x2="345.0" y2="135.80"/>
<line x1="343.40" y1="100.88" x2="345.0" y2="100.88"/>
<line x1="363.66" y1="135.8" x2="363.66" y2="137.40"/>
<line x1="410.31" y1="135.8" x2="410.31" y2="137.40"/>
<rect x="481.0" y="87.4" width="93.3" height="48.4"/>
<line x1="479.40" y1="135.80" x2="481.0" y2="135.80"/>
<line x1="479.40" y1="97.08" x2="481.0" y2="97.08"/>
<line x1="499.66" y1="135.8" x2="499.66" y2="137.40"/>
<line x1="546.31" y1="135.8" x2="546.31" y2="137.40"/>
<rect x="73.5" y="157.8" width="93.3" height="48.4"/>
<line x1="71.90" y1="206.20" x2="73.5" y2="206.20"/>
<line x1="71.90" y1="176.47" x2="73.5" y2="176.47"/>
<line x1="92.16" y1="206.20000000000002" x2="92.16" y2="207.80"/>
<line x1="138.81" y1="206.20000000000002" x2="138.81" y2="207.80"/>
<rect x="209.2" y="157.8" width="93.3" height="48.4"/>
<line x1="207.60" y1="206.20" x2="209.2" y2="206.20"/>
<line x1="207.60" y1="171.63" x2="209.2" y2="171.63"/>
<line x1="227.86" y1="206.20000000000002" x2="227.86" y2="207.80"/>
<line x1="274.51" y1="206.20000000000002" x2="274.51" y2="207.80"/>
<rect x="345.0" y="157.8" width="93.3" height="48.4"/>
<line x1="343.40" y1="206.20" x2="345.0" y2="206.20"/>
<line x1="343.40" y1="171.28" x2="345.0" y2="171.28"/>
<line x1="363.66" y1="206.20000000000002" x2="363.66" y2="207.80"/>
<line x1="410.31" y1="206.20000000000002" x2="410.31" y2="207.80"/>
<rect x="481.0" y="157.8" width="93.3" height="48.4"/>
<line x1="479.40" y1="206.20" x2="481.0" y2="206.20"/>
<line x1="479.40" y1="167.48" x2="481.0" y2="167.48"/>
<line x1="499.66" y1="206.20000000000002" x2="499.66" y2="207.80"/>
<line x1="546.31" y1="206.20000000000002" x2="546.31" y2="207.80"/>
<rect x="73.5" y="228.2" width="93.3" height="48.4"/>
<line x1="71.90" y1="276.60" x2="73.5" y2="276.60"/>
<line x1="71.90" y1="246.87" x2="73.5" y2="246.87"/>
<line x1="92.16" y1="276.59999999999997" x2="92.16" y2="278.20"/>
<line x1="138.81" y1="276.59999999999997" x2="138.81" y2="278.20"/>
<rect x="209.2" y="228.2" width="93.3" height="48.4"/>
<line x1="207.60" y1="276.60" x2="209.2" y2="276.60"/>
<line x1="207.60" y1="242.03" x2="209.2" y2="242.03"/>
<line x1="227.86" y1="276.59999999999997" x2="227.86" y2="278.20"/>
<line x1="274.51" y1="276.59999999999997" x2="274.51" y2="278.20"/>
<rect x="345.0" y="228.2" width="93.3" height="48.4"/>
<line x1="343.40" y1="276.60" x2="345.0" y2="276.60"/>
<line x1="343.40" y1="241.68" x2="345.0" y2="241.68"/>
<line x1="363.66" y1="276.59999999999997" x2="363.66" y2="278.20"/>
<line x1="410.31" y1="276.59999999999997" x2="410.31" y2="278.20"/>
<rect x="481.0" y="228.2" width="93.3" height="48.4"/>
<line x1="479.40" y1="276.60" x2="481.0" y2="276.60"/>
<line x1="479.40" y1="237.88" x2="481.0" y2="237.88"/>
<line x1="499.66" y1="276.59999999999997" x2="499.66" y2="278.20"/>
<line x1="546.31" y1="276.59999999999997" x2="546.31" y2="278.20"/>
<rect x="73.5" y="298.65" width="93.3" height="48.4"/>
<line x1="71.90" y1="337.97" x2="73.5" y2="337.97"/>
<line x1="71.90" y1="322.85" x2="73.5" y2="322.85"/>
<line x1="71.90" y1="307.72" x2="73.5" y2="307.72"/>
<line x1="92.16" y1="347.04999999999995" x2="92.16" y2="348.65"/>
<line x1="138.81" y1="347.04999999999995" x2="138.81" y2="348.65"/>
<rect x="209.2" y="298.65" width="93.3" height="48.4"/>
<line x1="207.60" y1="337.97" x2="209.2" y2="337.97"/>
<line x1="207.60" y1="322.85" x2="209.2" y2="322.85"/>
<line x1="207.60" y1="307.72" x2="209.2" y2="307.72"/>
<line x1="227.86" y1="347.04999999999995" x2="227.86" y2="348.65"/>
<line x1="274.51" y1="347.04999999999995" x2="274.51" y2="348.65"/>
<rect x="345.0" y="298.65" width="93.3" height="48.4"/>
<line x1="343.40" y1="346.81" x2="345.0" y2="346.81"/>
<line x1="343.40" y1="322.85" x2="345.0" y2="322.85"/>
<line x1="343.40" y1="298.89" x2="345.0" y2="298.89"/>
<line x1="363.66" y1="347.04999999999995" x2="363.66" y2="348.65"/>
<line x1="410.31" y1="347.04999999999995" x2="410.31" y2="348.65"/>
<rect x="481.0" y="298.65" width="93.3" height="48.4"/>
<line x1="479.40" y1="338.36" x2="481.0" y2="338.36"/>
<line x1="479.40" y1="322.85" x2="481.0" y2="322.85"/>
<line x1="479.40" y1="307.34" x2="481.0" y2="307.34"/>
<line x1="499.66" y1="347.04999999999995" x2="499.66" y2="348.65"/>
<line x1="546.31" y1="347.04999999999995" x2="546.31" y2="348.65"/>
<rect x="73.5" y="369.1" width="93.3" height="48.4"/>
<line x1="71.90" y1="408.43" x2="73.5" y2="408.43"/>
<line x1="71.90" y1="393.30" x2="73.5" y2="393.30"/>
<line x1="71.90" y1="378.18" x2="73.5" y2="378.18"/>
<line x1="92.16" y1="417.5" x2="92.16" y2="419.10"/>
<line x1="138.81" y1="417.5" x2="138.81" y2="419.10"/>
<rect x="209.2" y="369.1" width="93.3" height="48.4"/>
<line x1="207.60" y1="408.43" x2="209.2" y2="408.43"/>
<line x1="207.60" y1="393.30" x2="209.2" y2="393.30"/>
<line x1="207.60" y1="378.18" x2="209.2" y2="378.18"/>
<line x1="227.86" y1="417.5" x2="227.86" y2="419.10"/>
<line x1="274.51" y1="417.5" x2="274.51" y2="419.10"/>
<rect x="345.0" y="369.1" width="93.3" height="48.4"/>
<line x1="343.40" y1="417.26" x2="345.0" y2="417.26"/>
<line x1="343.40" y1="393.30" x2="345.0" y2="393.30"/>
<line x1="343.40" y1="369.34" x2="345.0" y2="369.34"/>
<line x1="363.66" y1="417.5" x2="363.66" y2="419.10"/>
<line x1="410.31" y1="417.5" x2="410.31" y2="419.10"/>
<rect x="481.0" y="369.1" width="93.3" height="48.4"/>
<line x1="479.40" y1="408.81" x2="481.0" y2="408.81"/>
<line x1="479.40" y1="393.30" x2="481.0" y2="393.30"/>
<line x1="479.40" y1="377.79" x2="481.0" y2="377.79"/>
<line x1="499.66" y1="417.5" x2="499.66" y2="419.10"/>
<line x1="546.31" y1="417.5" x2="546.31" y2="419.10"/>
</g>
<g font-family="Liberation Sans, sans-serif" fill="#111">
<text x="62.98" y="68.70" font-size="9.2" stroke="#111" stroke-width="0.15" textLength="4.92" lengthAdjust="spacingAndGlyphs">0</text>
<text x="62.98" y="38.97" font-size="9.2" stroke="#111" stroke-width="0.15" textLength="4.92" lengthAdjust="spacingAndGlyphs">5</text>
<text x="198.68" y="68.70" font-size="9.2" stroke="#111" stroke-width="0.15" textLength="4.92" lengthAdjust="spacingAndGlyphs">0</text>
<text x="198.68" y="34.13" font-size="9.2" stroke="#111" stroke-width="0.15" textLength="4.92" lengthAdjust="spacingAndGlyphs">5</text>
<text x="334.48" y="68.70" font-size="9.2" stroke="#111" stroke-width="0.15" textLength="4.92" lengthAdjust="spacingAndGlyphs">0</text>
<text x="334.48" y="33.78" font-size="9.2" stroke="#111" stroke-width="0.15" textLength="4.92" lengthAdjust="spacingAndGlyphs">5</text>
<text x="470.48" y="68.70" font-size="9.2" stroke="#111" stroke-width="0.15" textLength="4.92" lengthAdjust="spacingAndGlyphs">0</text>
<text x="465.55" y="29.98" font-size="9.2" stroke="#111" stroke-width="0.15" textLength="9.85" lengthAdjust="spacingAndGlyphs">20</text>
<text x="62.98" y="139.10" font-size="9.2" stroke="#111" stroke-width="0.15" textLength="4.92" lengthAdjust="spacingAndGlyphs">0</text>
<text x="62.98" y="109.37" font-size="9.2" stroke="#111" stroke-width="0.15" textLength="4.92" lengthAdjust="spacingAndGlyphs">5</text>
<text x="198.68" y="139.10" font-size="9.2" stroke="#111" stroke-width="0.15" textLength="4.92" lengthAdjust="spacingAndGlyphs">0</text>
<text x="198.68" y="104.53" font-size="9.2" stroke="#111" stroke-width="0.15" textLength="4.92" lengthAdjust="spacingAndGlyphs">5</text>
<text x="334.48" y="139.10" font-size="9.2" stroke="#111" stroke-width="0.15" textLength="4.92" lengthAdjust="spacingAndGlyphs">0</text>
<text x="334.48" y="104.18" font-size="9.2" stroke="#111" stroke-width="0.15" textLength="4.92" lengthAdjust="spacingAndGlyphs">5</text>
<text x="470.48" y="139.10" font-size="9.2" stroke="#111" stroke-width="0.15" textLength="4.92" lengthAdjust="spacingAndGlyphs">0</text>
<text x="465.55" y="100.38" font-size="9.2" stroke="#111" stroke-width="0.15" textLength="9.85" lengthAdjust="spacingAndGlyphs">20</text>
<text x="62.98" y="209.50" font-size="9.2" stroke="#111" stroke-width="0.15" textLength="4.92" lengthAdjust="spacingAndGlyphs">0</text>
<text x="62.98" y="179.77" font-size="9.2" stroke="#111" stroke-width="0.15" textLength="4.92" lengthAdjust="spacingAndGlyphs">5</text>
<text x="198.68" y="209.50" font-size="9.2" stroke="#111" stroke-width="0.15" textLength="4.92" lengthAdjust="spacingAndGlyphs">0</text>
<text x="198.68" y="174.93" font-size="9.2" stroke="#111" stroke-width="0.15" textLength="4.92" lengthAdjust="spacingAndGlyphs">5</text>
<text x="334.48" y="209.50" font-size="9.2" stroke="#111" stroke-width="0.15" textLength="4.92" lengthAdjust="spacingAndGlyphs">0</text>
<text x="334.48" y="174.58" font-size="9.2" stroke="#111" stroke-width="0.15" textLength="4.92" lengthAdjust="spacingAndGlyphs">5</text>
<text x="470.48" y="209.50" font-size="9.2" stroke="#111" stroke-width="0.15" textLength="4.92" lengthAdjust="spacingAndGlyphs">0</text>
<text x="465.55" y="170.78" font-size="9.2" stroke="#111" stroke-width="0.15" textLength="9.85" lengthAdjust="spacingAndGlyphs">20</text>
<text x="62.98" y="279.90" font-size="9.2" stroke="#111" stroke-width="0.15" textLength="4.92" lengthAdjust="spacingAndGlyphs">0</text>
<text x="62.98" y="250.17" font-size="9.2" stroke="#111" stroke-width="0.15" textLength="4.92" lengthAdjust="spacingAndGlyphs">5</text>
<text x="198.68" y="279.90" font-size="9.2" stroke="#111" stroke-width="0.15" textLength="4.92" lengthAdjust="spacingAndGlyphs">0</text>
<text x="198.68" y="245.33" font-size="9.2" stroke="#111" stroke-width="0.15" textLength="4.92" lengthAdjust="spacingAndGlyphs">5</text>
<text x="334.48" y="279.90" font-size="9.2" stroke="#111" stroke-width="0.15" textLength="4.92" lengthAdjust="spacingAndGlyphs">0</text>
<text x="334.48" y="244.98" font-size="9.2" stroke="#111" stroke-width="0.15" textLength="4.92" lengthAdjust="spacingAndGlyphs">5</text>
<text x="470.48" y="279.90" font-size="9.2" stroke="#111" stroke-width="0.15" textLength="4.92" lengthAdjust="spacingAndGlyphs">0</text>
<text x="465.55" y="241.18" font-size="9.2" stroke="#111" stroke-width="0.15" textLength="9.85" lengthAdjust="spacingAndGlyphs">20</text>
<text x="49.11" y="341.27" font-size="9.2" stroke="#111" stroke-width="0.15" textLength="18.79" lengthAdjust="spacingAndGlyphs">−2.5</text>
<text x="55.59" y="326.15" font-size="9.2" stroke="#111" stroke-width="0.15" textLength="12.31" lengthAdjust="spacingAndGlyphs">0.0</text>
<text x="55.59" y="311.02" font-size="9.2" stroke="#111" stroke-width="0.15" textLength="12.31" lengthAdjust="spacingAndGlyphs">2.5</text>
<text x="184.81" y="341.27" font-size="9.2" stroke="#111" stroke-width="0.15" textLength="18.79" lengthAdjust="spacingAndGlyphs">−2.5</text>
<text x="191.29" y="326.15" font-size="9.2" stroke="#111" stroke-width="0.15" textLength="12.31" lengthAdjust="spacingAndGlyphs">0.0</text>
<text x="191.29" y="311.02" font-size="9.2" stroke="#111" stroke-width="0.15" textLength="12.31" lengthAdjust="spacingAndGlyphs">2.5</text>
<text x="327.99" y="350.11" font-size="9.2" stroke="#111" stroke-width="0.15" textLength="11.41" lengthAdjust="spacingAndGlyphs">−5</text>
<text x="334.48" y="326.15" font-size="9.2" stroke="#111" stroke-width="0.15" textLength="4.92" lengthAdjust="spacingAndGlyphs">0</text>
<text x="334.48" y="302.19" font-size="9.2" stroke="#111" stroke-width="0.15" textLength="4.92" lengthAdjust="spacingAndGlyphs">5</text>
<text x="463.99" y="341.66" font-size="9.2" stroke="#111" stroke-width="0.15" textLength="11.41" lengthAdjust="spacingAndGlyphs">−5</text>
<text x="470.48" y="326.15" font-size="9.2" stroke="#111" stroke-width="0.15" textLength="4.92" lengthAdjust="spacingAndGlyphs">0</text>
<text x="470.48" y="310.64" font-size="9.2" stroke="#111" stroke-width="0.15" textLength="4.92" lengthAdjust="spacingAndGlyphs">5</text>
<text x="49.11" y="411.73" font-size="9.2" stroke="#111" stroke-width="0.15" textLength="18.79" lengthAdjust="spacingAndGlyphs">−2.5</text>
<text x="55.59" y="396.60" font-size="9.2" stroke="#111" stroke-width="0.15" textLength="12.31" lengthAdjust="spacingAndGlyphs">0.0</text>
<text x="55.59" y="381.48" font-size="9.2" stroke="#111" stroke-width="0.15" textLength="12.31" lengthAdjust="spacingAndGlyphs">2.5</text>
<text x="184.81" y="411.73" font-size="9.2" stroke="#111" stroke-width="0.15" textLength="18.79" lengthAdjust="spacingAndGlyphs">−2.5</text>
<text x="191.29" y="396.60" font-size="9.2" stroke="#111" stroke-width="0.15" textLength="12.31" lengthAdjust="spacingAndGlyphs">0.0</text>
<text x="191.29" y="381.48" font-size="9.2" stroke="#111" stroke-width="0.15" textLength="12.31" lengthAdjust="spacingAndGlyphs">2.5</text>
<text x="327.99" y="420.56" font-size="9.2" stroke="#111" stroke-width="0.15" textLength="11.41" lengthAdjust="spacingAndGlyphs">−5</text>
<text x="334.48" y="396.60" font-size="9.2" stroke="#111" stroke-width="0.15" textLength="4.92" lengthAdjust="spacingAndGlyphs">0</text>
<text x="334.48" y="372.64" font-size="9.2" stroke="#111" stroke-width="0.15" textLength="4.92" lengthAdjust="spacingAndGlyphs">5</text>
<text x="463.99" y="412.11" font-size="9.2" stroke="#111" stroke-width="0.15" textLength="11.41" lengthAdjust="spacingAndGlyphs">−5</text>
<text x="470.48" y="396.60" font-size="9.2" stroke="#111" stroke-width="0.15" textLength="4.92" lengthAdjust="spacingAndGlyphs">0</text>
<text x="470.48" y="381.09" font-size="9.2" stroke="#111" stroke-width="0.15" textLength="4.92" lengthAdjust="spacingAndGlyphs">5</text>
<text x="86.01" y="429.10" font-size="9.2" stroke="#111" stroke-width="0.15" textLength="12.31" lengthAdjust="spacingAndGlyphs">0.0</text>
<text x="132.66" y="429.10" font-size="9.2" stroke="#111" stroke-width="0.15" textLength="12.31" lengthAdjust="spacingAndGlyphs">0.5</text>
<text x="101.00" y="443.00" font-size="10.0" stroke="#111" stroke-width="0.15" textLength="39.40" lengthAdjust="spacingAndGlyphs">Time (s)</text>
<text x="96.20" y="9.90" font-size="12.6" font-weight="bold" stroke="#111" stroke-width="0.35" textLength="47.90" lengthAdjust="spacingAndGlyphs">RNN L1</text>
<text x="231.90" y="9.90" font-size="12.6" font-weight="bold" stroke="#111" stroke-width="0.35" textLength="47.90" lengthAdjust="spacingAndGlyphs">RNN L2</text>
<text x="367.70" y="9.90" font-size="12.6" font-weight="bold" stroke="#111" stroke-width="0.35" textLength="47.90" lengthAdjust="spacingAndGlyphs">RNN L3</text>
<text x="503.70" y="9.90" font-size="12.6" font-weight="bold" stroke="#111" stroke-width="0.35" textLength="47.90" lengthAdjust="spacingAndGlyphs">RNN L4</text>
<text x="49.40" y="45.55" font-size="12.0" font-weight="bold" stroke="#111" stroke-width="0.35" textLength="8.20" lengthAdjust="spacingAndGlyphs">F</text>
<text x="49.49" y="115.95" font-size="12.0" font-weight="bold" stroke="#111" stroke-width="0.35" textLength="8.81" lengthAdjust="spacingAndGlyphs">C</text>
<text x="40.36" y="186.35" font-size="12.0" font-weight="bold" stroke="#111" stroke-width="0.35" textLength="16.84" lengthAdjust="spacingAndGlyphs">SF</text>
<text x="39.75" y="256.75" font-size="12.0" font-weight="bold" stroke="#111" stroke-width="0.35" textLength="17.45" lengthAdjust="spacingAndGlyphs">SC</text>
<text x="17.40" y="327.20" font-size="12.0" font-weight="bold" stroke="#111" stroke-width="0.35" textLength="7.90" lengthAdjust="spacingAndGlyphs">F</text>
<text x="35.60" y="327.20" font-size="12.0" font-weight="bold" stroke="#111" stroke-width="0.35" textLength="8.20" lengthAdjust="spacingAndGlyphs">C</text>
<rect x="27.0" y="321.95" width="7.9" height="1.6" fill="#111"/>
<text x="0.00" y="397.65" font-size="12.0" font-weight="bold" stroke="#111" stroke-width="0.35" textLength="15.90" lengthAdjust="spacingAndGlyphs">SF</text>
<text x="27.00" y="397.65" font-size="12.0" font-weight="bold" stroke="#111" stroke-width="0.35" textLength="16.80" lengthAdjust="spacingAndGlyphs">SC</text>
<rect x="18.0" y="392.40" width="7.9" height="1.6" fill="#111"/>
</g>
</svg></body></html>
